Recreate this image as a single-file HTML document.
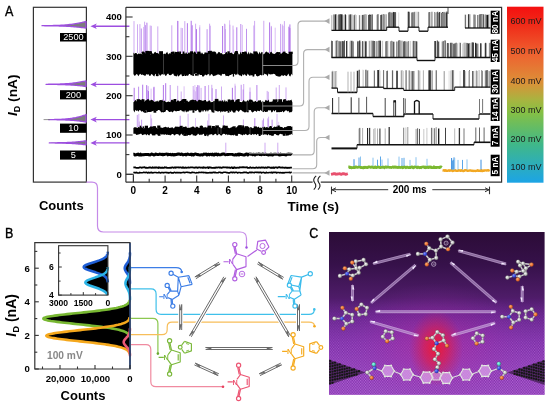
<!DOCTYPE html>
<html><head><meta charset="utf-8"><style>
html,body{margin:0;padding:0;background:#fff;}
svg{display:block;}
</style></head><body>
<svg width="550" height="405" viewBox="0 0 550 405">
<rect width="550" height="405" fill="#fff"/>
<text transform="translate(5,16) scale(0.87,1)" font-size="14.4" stroke="#000" stroke-width="0.35" font-family="Liberation Sans, Arial, sans-serif">A</text>
<rect x="33.4" y="7.3" width="53" height="174.8" fill="none" stroke="#333" stroke-width="1.2"/>
<path d="M42.00,25.70 L43.47,25.68 L44.93,25.67 L46.40,25.65 L47.87,25.63 L49.33,25.60 L50.80,25.58 L52.27,25.55 L53.73,25.51 L55.20,25.47 L56.67,25.42 L58.13,25.36 L59.60,25.30 L61.07,25.22 L62.53,25.14 L64.00,25.04 L65.47,24.92 L66.93,24.80 L68.40,24.66 L69.87,24.50 L71.33,24.33 L72.80,24.14 L74.27,23.92 L75.73,23.69 L77.20,23.44 L78.67,23.16 L80.13,22.86 L81.60,22.54 L83.07,22.19 L84.53,21.81 L86.00,21.40 L86.00,28.10 L84.53,27.89 L83.07,27.69 L81.60,27.51 L80.13,27.34 L78.67,27.18 L77.20,27.03 L75.73,26.90 L74.27,26.77 L72.80,26.66 L71.33,26.55 L69.87,26.46 L68.40,26.37 L66.93,26.29 L65.47,26.22 L64.00,26.16 L62.53,26.10 L61.07,26.05 L59.60,26.00 L58.13,25.96 L56.67,25.92 L55.20,25.89 L53.73,25.86 L52.27,25.83 L50.80,25.81 L49.33,25.79 L47.87,25.77 L46.40,25.75 L44.93,25.73 L43.47,25.72 L42.00,25.70 Z" fill="#7c7c7c" stroke="#9d4ee0" stroke-width="1.3" stroke-linejoin="round"/>
<rect x="60" y="33" width="26.4" height="8.5" fill="#000"/>
<text x="73.4" y="39.9" font-size="9.2" fill="#fff" text-anchor="middle" font-family="Liberation Sans, Arial, sans-serif">2500</text>
<path d="M46.00,84.30 L47.33,84.28 L48.67,84.27 L50.00,84.25 L51.33,84.23 L52.67,84.21 L54.00,84.18 L55.33,84.15 L56.67,84.12 L58.00,84.09 L59.33,84.04 L60.67,84.00 L62.00,83.94 L63.33,83.88 L64.67,83.80 L66.00,83.72 L67.33,83.63 L68.67,83.53 L70.00,83.41 L71.33,83.29 L72.67,83.15 L74.00,82.99 L75.33,82.82 L76.67,82.63 L78.00,82.43 L79.33,82.21 L80.67,81.97 L82.00,81.71 L83.33,81.43 L84.67,81.13 L86.00,80.80 L86.00,86.50 L84.67,86.31 L83.33,86.13 L82.00,85.96 L80.67,85.81 L79.33,85.67 L78.00,85.53 L76.67,85.41 L75.33,85.30 L74.00,85.19 L72.67,85.10 L71.33,85.01 L70.00,84.93 L68.67,84.86 L67.33,84.79 L66.00,84.73 L64.67,84.68 L63.33,84.63 L62.00,84.59 L60.67,84.55 L59.33,84.52 L58.00,84.49 L56.67,84.46 L55.33,84.43 L54.00,84.41 L52.67,84.39 L51.33,84.37 L50.00,84.35 L48.67,84.33 L47.33,84.32 L46.00,84.30 Z" fill="#7c7c7c" stroke="#9d4ee0" stroke-width="1.3" stroke-linejoin="round"/>
<rect x="60" y="90.2" width="26.4" height="9.200000000000003" fill="#000"/>
<text x="73.4" y="97.80000000000001" font-size="9.2" fill="#fff" text-anchor="middle" font-family="Liberation Sans, Arial, sans-serif">200</text>
<path d="M48.50,119.60 L49.75,119.58 L51.00,119.57 L52.25,119.55 L53.50,119.53 L54.75,119.50 L56.00,119.47 L57.25,119.44 L58.50,119.40 L59.75,119.35 L61.00,119.30 L62.25,119.23 L63.50,119.15 L64.75,119.07 L66.00,118.97 L67.25,118.85 L68.50,118.72 L69.75,118.57 L71.00,118.40 L72.25,118.22 L73.50,118.01 L74.75,117.78 L76.00,117.53 L77.25,117.25 L78.50,116.95 L79.75,116.62 L81.00,116.26 L82.25,115.87 L83.50,115.44 L84.75,114.99 L86.00,114.50 L86.00,122.00 L84.75,121.79 L83.50,121.59 L82.25,121.41 L81.00,121.24 L79.75,121.08 L78.50,120.93 L77.25,120.80 L76.00,120.67 L74.75,120.56 L73.50,120.45 L72.25,120.36 L71.00,120.27 L69.75,120.19 L68.50,120.12 L67.25,120.06 L66.00,120.00 L64.75,119.95 L63.50,119.90 L62.25,119.86 L61.00,119.82 L59.75,119.79 L58.50,119.76 L57.25,119.73 L56.00,119.71 L54.75,119.69 L53.50,119.67 L52.25,119.65 L51.00,119.63 L49.75,119.62 L48.50,119.60 Z" fill="#7c7c7c" stroke="#9d4ee0" stroke-width="1.3" stroke-linejoin="round"/>
<rect x="60" y="123.6" width="26.4" height="9.200000000000017" fill="#000"/>
<text x="73.4" y="131.20000000000002" font-size="9.2" fill="#fff" text-anchor="middle" font-family="Liberation Sans, Arial, sans-serif">10</text>
<path d="M49.30,142.90 L50.52,142.88 L51.75,142.87 L52.97,142.85 L54.19,142.83 L55.42,142.81 L56.64,142.79 L57.86,142.77 L59.09,142.74 L60.31,142.72 L61.53,142.69 L62.76,142.65 L63.98,142.61 L65.20,142.57 L66.43,142.53 L67.65,142.48 L68.87,142.42 L70.10,142.36 L71.32,142.29 L72.54,142.21 L73.77,142.13 L74.99,142.04 L76.21,141.94 L77.44,141.83 L78.66,141.72 L79.88,141.59 L81.11,141.45 L82.33,141.31 L83.55,141.15 L84.78,140.98 L86.00,140.80 L86.00,144.80 L84.78,144.64 L83.55,144.49 L82.33,144.35 L81.11,144.22 L79.88,144.10 L78.66,143.99 L77.44,143.88 L76.21,143.79 L74.99,143.70 L73.77,143.62 L72.54,143.54 L71.32,143.47 L70.10,143.41 L68.87,143.35 L67.65,143.30 L66.43,143.26 L65.20,143.21 L63.98,143.17 L62.76,143.14 L61.53,143.11 L60.31,143.08 L59.09,143.05 L57.86,143.03 L56.64,143.01 L55.42,142.99 L54.19,142.97 L52.97,142.95 L51.75,142.93 L50.52,142.92 L49.30,142.90 Z" fill="#7c7c7c" stroke="#9d4ee0" stroke-width="1.3" stroke-linejoin="round"/>
<rect x="60" y="150.5" width="26.4" height="9.099999999999994" fill="#000"/>
<text x="73.4" y="158.0" font-size="9.2" fill="#fff" text-anchor="middle" font-family="Liberation Sans, Arial, sans-serif">5</text>
<line x1="43.6" y1="119.6" x2="50" y2="119.6" stroke="#777" stroke-width="0.8"/>
<line x1="129.4" y1="26.2" x2="93" y2="26.2" stroke="#9d4ee0" stroke-width="1.4"/>
<path d="M90.4,26.2 L96.8,23.4 L95.2,26.2 L96.8,29.0 Z" fill="#9d4ee0"/>
<line x1="129.4" y1="84.4" x2="93" y2="84.4" stroke="#9d4ee0" stroke-width="1.4"/>
<path d="M90.4,84.4 L96.8,81.60000000000001 L95.2,84.4 L96.8,87.2 Z" fill="#9d4ee0"/>
<line x1="129.4" y1="119.6" x2="93" y2="119.6" stroke="#9d4ee0" stroke-width="1.4"/>
<path d="M90.4,119.6 L96.8,116.8 L95.2,119.6 L96.8,122.39999999999999 Z" fill="#9d4ee0"/>
<line x1="129.4" y1="142.9" x2="93" y2="142.9" stroke="#9d4ee0" stroke-width="1.4"/>
<path d="M90.4,142.9 L96.8,140.1 L95.2,142.9 L96.8,145.70000000000002 Z" fill="#9d4ee0"/>
<text transform="translate(17.4,95.3) rotate(-90)" font-size="13.7" font-weight="bold" text-anchor="middle" font-family="Liberation Sans, Arial, sans-serif"><tspan font-style="italic">I</tspan><tspan font-size="9" dy="3">D</tspan><tspan dy="-3"> (nA)</tspan></text>
<text x="61.3" y="210" font-size="13" font-weight="bold" text-anchor="middle" font-family="Liberation Sans, Arial, sans-serif">Counts</text>
<path d="M86.4,182.2 L92,182.2 Q97.5,182.2 97.5,188 L97.5,226 Q97.5,232 103.5,232 L240,232 Q246.5,232 246.5,238.5 L246.5,247" fill="none" stroke="#c58ae8" stroke-width="1.2"/>
<circle cx="246.5" cy="247.5" r="1.2" fill="#9d4ee0"/>
<path d="M125.9,7.3 L501.6,7.3 L501.6,182.2 L320.5,182.2 M313,182.2 L125.9,182.2 Z" fill="none" stroke="#333" stroke-width="1.2"/>
<line x1="125.9" y1="7.3" x2="125.9" y2="182.2" stroke="#333" stroke-width="1.2"/>
<line x1="125.9" y1="174.3" x2="132.6" y2="174.3" stroke="#333" stroke-width="1.1"/>
<text x="121.9" y="177.6" font-size="9.6" font-weight="bold" text-anchor="end" font-family="Liberation Sans, Arial, sans-serif">0</text>
<line x1="125.9" y1="154.6" x2="129.4" y2="154.6" stroke="#333" stroke-width="1.1"/>
<line x1="125.9" y1="135.0" x2="132.6" y2="135.0" stroke="#333" stroke-width="1.1"/>
<text x="121.9" y="138.3" font-size="9.6" font-weight="bold" text-anchor="end" font-family="Liberation Sans, Arial, sans-serif">100</text>
<line x1="125.9" y1="115.3" x2="129.4" y2="115.3" stroke="#333" stroke-width="1.1"/>
<line x1="125.9" y1="95.7" x2="132.6" y2="95.7" stroke="#333" stroke-width="1.1"/>
<text x="121.9" y="99.0" font-size="9.6" font-weight="bold" text-anchor="end" font-family="Liberation Sans, Arial, sans-serif">200</text>
<line x1="125.9" y1="76.0" x2="129.4" y2="76.0" stroke="#333" stroke-width="1.1"/>
<line x1="125.9" y1="56.3" x2="132.6" y2="56.3" stroke="#333" stroke-width="1.1"/>
<text x="121.9" y="59.6" font-size="9.6" font-weight="bold" text-anchor="end" font-family="Liberation Sans, Arial, sans-serif">300</text>
<line x1="125.9" y1="36.7" x2="129.4" y2="36.7" stroke="#333" stroke-width="1.1"/>
<line x1="125.9" y1="17.0" x2="132.6" y2="17.0" stroke="#333" stroke-width="1.1"/>
<text x="121.9" y="20.3" font-size="9.6" font-weight="bold" text-anchor="end" font-family="Liberation Sans, Arial, sans-serif">400</text>
<line x1="133.4" y1="182.2" x2="133.4" y2="175.5" stroke="#333" stroke-width="1.1"/>
<text x="133.4" y="194.2" font-size="10" font-weight="bold" text-anchor="middle" font-family="Liberation Sans, Arial, sans-serif">0</text>
<line x1="149.2" y1="182.2" x2="149.2" y2="178.7" stroke="#333" stroke-width="1.1"/>
<line x1="165.1" y1="182.2" x2="165.1" y2="175.5" stroke="#333" stroke-width="1.1"/>
<text x="165.1" y="194.2" font-size="10" font-weight="bold" text-anchor="middle" font-family="Liberation Sans, Arial, sans-serif">2</text>
<line x1="180.9" y1="182.2" x2="180.9" y2="178.7" stroke="#333" stroke-width="1.1"/>
<line x1="196.7" y1="182.2" x2="196.7" y2="175.5" stroke="#333" stroke-width="1.1"/>
<text x="196.7" y="194.2" font-size="10" font-weight="bold" text-anchor="middle" font-family="Liberation Sans, Arial, sans-serif">4</text>
<line x1="212.6" y1="182.2" x2="212.6" y2="178.7" stroke="#333" stroke-width="1.1"/>
<line x1="228.4" y1="182.2" x2="228.4" y2="175.5" stroke="#333" stroke-width="1.1"/>
<text x="228.4" y="194.2" font-size="10" font-weight="bold" text-anchor="middle" font-family="Liberation Sans, Arial, sans-serif">6</text>
<line x1="244.2" y1="182.2" x2="244.2" y2="178.7" stroke="#333" stroke-width="1.1"/>
<line x1="260.0" y1="182.2" x2="260.0" y2="175.5" stroke="#333" stroke-width="1.1"/>
<text x="260.0" y="194.2" font-size="10" font-weight="bold" text-anchor="middle" font-family="Liberation Sans, Arial, sans-serif">8</text>
<line x1="275.9" y1="182.2" x2="275.9" y2="178.7" stroke="#333" stroke-width="1.1"/>
<line x1="291.7" y1="182.2" x2="291.7" y2="175.5" stroke="#333" stroke-width="1.1"/>
<text x="291.7" y="194.2" font-size="10" font-weight="bold" text-anchor="middle" font-family="Liberation Sans, Arial, sans-serif">10</text>
<path d="M125.9,174.3 L133.4,174.3 L133.4,182.2" fill="none" stroke="#333" stroke-width="1"/>
<rect x="312.6" y="180" width="7.9" height="4.4" fill="#fff"/>
<path d="M316.2,175.8 Q312.2,179.2 314.6,182.6 Q317.4,186.2 313.8,189.6 M320.4,175.8 Q316.4,179.2 318.8,182.6 Q321.6,186.2 318,189.6" fill="none" stroke="#222" stroke-width="1.1"/>
<text x="313.3" y="210.7" font-size="13.5" font-weight="bold" text-anchor="middle" font-family="Liberation Sans, Arial, sans-serif">Time (s)</text>
<line x1="184.8" y1="53" x2="184.8" y2="21.1" stroke="#c9a0f0" stroke-width="0.9"/>
<line x1="145.4" y1="53" x2="145.4" y2="25.1" stroke="#b884ec" stroke-width="0.9"/>
<line x1="225.5" y1="53" x2="225.5" y2="29.1" stroke="#c9a0f0" stroke-width="0.9"/>
<line x1="139.9" y1="53" x2="139.9" y2="24.1" stroke="#c9a0f0" stroke-width="0.9"/>
<line x1="171.8" y1="53" x2="171.8" y2="25.3" stroke="#c9a0f0" stroke-width="0.9"/>
<line x1="263.8" y1="53" x2="263.8" y2="20.8" stroke="#c9a0f0" stroke-width="0.9"/>
<line x1="233.0" y1="53" x2="233.0" y2="25.6" stroke="#c9a0f0" stroke-width="0.9"/>
<line x1="224.6" y1="53" x2="224.6" y2="23.7" stroke="#c9a0f0" stroke-width="0.9"/>
<line x1="141.3" y1="53" x2="141.3" y2="28.5" stroke="#b884ec" stroke-width="0.9"/>
<line x1="199.8" y1="53" x2="199.8" y2="25.2" stroke="#d9b8f5" stroke-width="0.9"/>
<line x1="182.4" y1="53" x2="182.4" y2="28.1" stroke="#c9a0f0" stroke-width="0.9"/>
<line x1="150.2" y1="53" x2="150.2" y2="25.5" stroke="#c9a0f0" stroke-width="0.9"/>
<line x1="192.5" y1="53" x2="192.5" y2="25.3" stroke="#c9a0f0" stroke-width="0.9"/>
<line x1="222.6" y1="53" x2="222.6" y2="26.0" stroke="#a865e6" stroke-width="0.9"/>
<line x1="240.8" y1="53" x2="240.8" y2="24.0" stroke="#b884ec" stroke-width="0.9"/>
<line x1="207.1" y1="53" x2="207.1" y2="29.2" stroke="#b884ec" stroke-width="0.9"/>
<line x1="181.1" y1="53" x2="181.1" y2="27.8" stroke="#c9a0f0" stroke-width="0.9"/>
<line x1="146.9" y1="53" x2="146.9" y2="22.7" stroke="#a865e6" stroke-width="0.9"/>
<line x1="271.4" y1="53" x2="271.4" y2="27.2" stroke="#b884ec" stroke-width="0.9"/>
<line x1="229.6" y1="53" x2="229.6" y2="20.3" stroke="#d9b8f5" stroke-width="0.9"/>
<line x1="199.6" y1="53" x2="199.6" y2="27.4" stroke="#c9a0f0" stroke-width="0.9"/>
<line x1="280.5" y1="53" x2="280.5" y2="23.9" stroke="#c9a0f0" stroke-width="0.9"/>
<line x1="254.0" y1="53" x2="254.0" y2="25.5" stroke="#b884ec" stroke-width="0.9"/>
<line x1="187.4" y1="53" x2="187.4" y2="23.2" stroke="#a865e6" stroke-width="0.9"/>
<line x1="225.0" y1="53" x2="225.0" y2="24.3" stroke="#c9a0f0" stroke-width="0.9"/>
<line x1="282.3" y1="53" x2="282.3" y2="24.5" stroke="#c9a0f0" stroke-width="0.9"/>
<line x1="143.5" y1="53" x2="143.5" y2="26.9" stroke="#d9b8f5" stroke-width="0.9"/>
<line x1="289.9" y1="53" x2="289.9" y2="28.1" stroke="#b884ec" stroke-width="0.9"/>
<line x1="246.5" y1="53" x2="246.5" y2="28.8" stroke="#b884ec" stroke-width="0.9"/>
<line x1="137.5" y1="53" x2="137.5" y2="24.3" stroke="#c9a0f0" stroke-width="0.9"/>
<line x1="229.9" y1="53" x2="229.9" y2="24.7" stroke="#c9a0f0" stroke-width="0.9"/>
<line x1="254.6" y1="53" x2="254.6" y2="20.9" stroke="#c9a0f0" stroke-width="0.9"/>
<line x1="196.5" y1="53" x2="196.5" y2="29.1" stroke="#a865e6" stroke-width="0.9"/>
<line x1="146.7" y1="53" x2="146.7" y2="24.2" stroke="#d9b8f5" stroke-width="0.9"/>
<line x1="177.6" y1="53" x2="177.6" y2="20.9" stroke="#a865e6" stroke-width="0.9"/>
<line x1="269.6" y1="53" x2="269.6" y2="22.4" stroke="#a865e6" stroke-width="0.9"/>
<line x1="288.9" y1="53" x2="288.9" y2="26.7" stroke="#a865e6" stroke-width="0.9"/>
<line x1="284.4" y1="53" x2="284.4" y2="21.1" stroke="#c9a0f0" stroke-width="0.9"/>
<line x1="157.8" y1="53" x2="157.8" y2="26.4" stroke="#c9a0f0" stroke-width="0.9"/>
<line x1="210.1" y1="53" x2="210.1" y2="25.7" stroke="#b884ec" stroke-width="0.9"/>
<line x1="178.3" y1="53" x2="178.3" y2="21.0" stroke="#d9b8f5" stroke-width="0.9"/>
<line x1="192.0" y1="53" x2="192.0" y2="25.4" stroke="#c9a0f0" stroke-width="0.9"/>
<line x1="242.4" y1="53" x2="242.4" y2="24.9" stroke="#d9b8f5" stroke-width="0.9"/>
<line x1="236.8" y1="53" x2="236.8" y2="27.3" stroke="#a865e6" stroke-width="0.9"/>
<line x1="275.2" y1="53" x2="275.2" y2="27.7" stroke="#d9b8f5" stroke-width="0.9"/>
<line x1="195.6" y1="53" x2="195.6" y2="23.7" stroke="#c9a0f0" stroke-width="0.9"/>
<line x1="209.6" y1="53" x2="209.6" y2="23.7" stroke="#c9a0f0" stroke-width="0.9"/>
<line x1="144.6" y1="53" x2="144.6" y2="21.7" stroke="#c9a0f0" stroke-width="0.9"/>
<line x1="151.3" y1="53" x2="151.3" y2="25.8" stroke="#c9a0f0" stroke-width="0.9"/>
<line x1="134.0" y1="53" x2="134.0" y2="21.1" stroke="#c9a0f0" stroke-width="0.9"/>
<line x1="283.0" y1="53" x2="283.0" y2="25.9" stroke="#c9a0f0" stroke-width="0.9"/>
<line x1="271.3" y1="53" x2="271.3" y2="25.9" stroke="#c9a0f0" stroke-width="0.9"/>
<line x1="233.6" y1="53" x2="233.6" y2="29.5" stroke="#d9b8f5" stroke-width="0.9"/>
<line x1="191.2" y1="53" x2="191.2" y2="20.8" stroke="#a865e6" stroke-width="0.9"/>
<line x1="289.9" y1="53" x2="289.9" y2="24.4" stroke="#a865e6" stroke-width="0.9"/>
<path d="M133.4,52.4 L134.4,53.7 L135.4,52.9 L136.4,53.0 L137.4,54.4 L138.4,53.6 L139.4,53.8 L140.4,53.4 L141.3,54.0 L142.3,54.2 L143.3,52.2 L144.3,53.0 L145.3,53.3 L146.3,53.8 L147.3,52.2 L148.3,53.9 L149.3,53.0 L150.3,54.5 L151.3,52.9 L152.3,53.3 L153.3,53.9 L154.3,52.5 L155.3,51.7 L156.3,52.9 L157.2,52.9 L158.2,53.3 L159.2,54.2 L160.2,53.4 L161.2,51.9 L162.2,53.6 L163.2,54.2 L164.2,53.4 L165.2,54.3 L166.2,52.9 L167.2,51.8 L168.2,54.5 L169.2,53.3 L170.2,53.5 L171.2,53.3 L172.2,54.3 L173.2,53.1 L174.1,53.9 L175.1,51.8 L176.1,51.9 L177.1,52.1 L178.1,51.6 L179.1,53.0 L180.1,52.5 L181.1,54.0 L182.1,53.7 L183.1,53.5 L184.1,53.1 L185.1,54.1 L186.1,52.0 L187.1,54.1 L188.1,53.3 L189.1,51.9 L190.0,53.4 L191.0,51.7 L192.0,53.1 L193.0,53.8 L194.0,51.7 L195.0,51.6 L196.0,52.9 L197.0,54.2 L198.0,52.5 L199.0,53.3 L200.0,52.3 L201.0,53.9 L202.0,52.2 L203.0,54.1 L204.0,54.3 L204.9,52.1 L205.9,52.7 L206.9,52.4 L207.9,52.8 L208.9,52.4 L209.9,53.8 L210.9,53.4 L211.9,52.3 L212.9,52.9 L213.9,51.8 L214.9,52.0 L215.9,52.2 L216.9,54.5 L217.9,52.8 L218.9,51.8 L219.9,52.5 L220.8,53.6 L221.8,53.1 L222.8,54.4 L223.8,54.3 L224.8,54.1 L225.8,52.3 L226.8,52.0 L227.8,54.0 L228.8,53.5 L229.8,52.7 L230.8,53.0 L231.8,52.5 L232.8,53.9 L233.8,54.2 L234.8,51.6 L235.8,52.3 L236.8,52.2 L237.7,51.9 L238.7,54.5 L239.7,54.2 L240.7,51.6 L241.7,54.3 L242.7,52.3 L243.7,54.3 L244.7,53.1 L245.7,52.8 L246.7,52.3 L247.7,54.5 L248.7,51.6 L249.7,54.4 L250.7,52.2 L251.7,53.5 L252.6,53.5 L253.6,54.2 L254.6,52.4 L255.6,52.2 L256.6,54.1 L257.6,51.9 L258.6,54.4 L259.6,51.5 L260.6,54.1 L261.6,51.7 L262.6,52.6 L263.6,54.4 L264.6,53.6 L265.6,52.1 L266.6,51.5 L267.6,52.5 L268.5,52.5 L269.5,54.1 L270.5,52.0 L271.5,51.8 L272.5,53.5 L273.5,53.8 L274.5,54.0 L275.5,53.3 L276.5,52.4 L277.5,51.8 L278.5,54.1 L279.5,54.2 L280.5,53.3 L281.5,53.7 L282.5,52.4 L283.5,51.9 L284.4,53.6 L285.4,52.8 L286.4,53.0 L287.4,53.8 L288.4,53.9 L289.4,53.6 L290.4,53.6 L291.4,53.4 L292.4,51.6 L292.4,75.4 L291.4,73.8 L290.4,76.4 L289.4,75.9 L288.4,73.5 L287.4,75.2 L286.4,76.2 L285.4,75.6 L284.4,75.0 L283.5,76.0 L282.5,75.4 L281.5,75.0 L280.5,75.8 L279.5,75.9 L278.5,74.0 L277.5,76.4 L276.5,75.4 L275.5,74.7 L274.5,73.9 L273.5,73.8 L272.5,74.2 L271.5,74.3 L270.5,74.5 L269.5,74.2 L268.5,73.6 L267.6,76.5 L266.6,74.6 L265.6,74.3 L264.6,73.6 L263.6,75.3 L262.6,75.0 L261.6,75.5 L260.6,74.8 L259.6,75.4 L258.6,76.0 L257.6,76.5 L256.6,75.7 L255.6,74.1 L254.6,74.1 L253.6,76.4 L252.6,75.1 L251.7,75.5 L250.7,74.8 L249.7,75.0 L248.7,75.0 L247.7,73.6 L246.7,75.9 L245.7,75.5 L244.7,74.1 L243.7,75.4 L242.7,74.0 L241.7,76.4 L240.7,75.6 L239.7,75.4 L238.7,74.8 L237.7,73.5 L236.8,74.3 L235.8,75.3 L234.8,73.8 L233.8,74.3 L232.8,74.1 L231.8,74.3 L230.8,75.0 L229.8,75.1 L228.8,76.3 L227.8,76.0 L226.8,75.8 L225.8,76.2 L224.8,73.8 L223.8,74.2 L222.8,73.8 L221.8,74.4 L220.8,74.7 L219.9,74.9 L218.9,74.6 L217.9,74.6 L216.9,74.7 L215.9,75.6 L214.9,75.5 L213.9,76.2 L212.9,75.7 L211.9,73.9 L210.9,74.6 L209.9,76.3 L208.9,73.9 L207.9,74.1 L206.9,75.5 L205.9,74.7 L204.9,74.8 L204.0,76.2 L203.0,76.3 L202.0,75.1 L201.0,75.0 L200.0,75.0 L199.0,74.1 L198.0,76.4 L197.0,73.7 L196.0,73.6 L195.0,73.8 L194.0,74.1 L193.0,76.1 L192.0,74.9 L191.0,75.5 L190.0,73.9 L189.1,73.9 L188.1,75.8 L187.1,75.8 L186.1,75.0 L185.1,73.9 L184.1,76.0 L183.1,75.9 L182.1,76.2 L181.1,73.7 L180.1,75.1 L179.1,75.8 L178.1,74.1 L177.1,76.1 L176.1,76.5 L175.1,75.7 L174.1,75.7 L173.2,73.6 L172.2,74.0 L171.2,74.9 L170.2,75.3 L169.2,74.9 L168.2,73.6 L167.2,74.0 L166.2,75.7 L165.2,75.7 L164.2,73.8 L163.2,74.8 L162.2,74.1 L161.2,74.7 L160.2,76.0 L159.2,74.5 L158.2,73.5 L157.2,76.5 L156.3,74.5 L155.3,73.8 L154.3,76.4 L153.3,75.7 L152.3,74.5 L151.3,74.1 L150.3,75.9 L149.3,75.7 L148.3,74.1 L147.3,74.7 L146.3,74.1 L145.3,75.9 L144.3,75.4 L143.3,75.1 L142.3,74.6 L141.3,75.1 L140.4,73.8 L139.4,74.4 L138.4,76.2 L137.4,74.6 L136.4,74.1 L135.4,75.6 L134.4,75.7 L133.4,73.9 Z" fill="#000"/>
<rect x="283.1" y="51.6" width="2.4" height="2.4" fill="#000"/>
<rect x="142.3" y="51.5" width="1.5" height="2.5" fill="#000"/>
<rect x="172.3" y="51.6" width="2.2" height="2.4" fill="#000"/>
<rect x="145.3" y="50.9" width="3.8" height="3.1" fill="#000"/>
<rect x="148.7" y="51.2" width="2.8" height="2.8" fill="#000"/>
<rect x="207.8" y="51.0" width="3.5" height="3.0" fill="#000"/>
<rect x="170.8" y="51.9" width="3.4" height="2.1" fill="#000"/>
<rect x="235.1" y="51.0" width="2.7" height="3.0" fill="#000"/>
<rect x="146.3" y="51.8" width="3.8" height="2.2" fill="#000"/>
<rect x="141.6" y="51.9" width="3.1" height="2.1" fill="#000"/>
<rect x="227.4" y="51.3" width="2.3" height="2.7" fill="#000"/>
<rect x="241.8" y="52.0" width="3.1" height="2.0" fill="#000"/>
<rect x="209.2" y="50.8" width="2.7" height="3.2" fill="#000"/>
<rect x="149.8" y="51.5" width="2.0" height="2.5" fill="#000"/>
<rect x="244.3" y="51.5" width="2.2" height="2.5" fill="#000"/>
<rect x="253.3" y="51.4" width="4.0" height="2.6" fill="#000"/>
<rect x="182.7" y="51.5" width="1.7" height="2.5" fill="#000"/>
<rect x="179.3" y="51.5" width="1.7" height="2.5" fill="#000"/>
<rect x="288.6" y="51.7" width="4.0" height="2.3" fill="#000"/>
<rect x="276.5" y="52.1" width="3.8" height="1.9" fill="#000"/>
<rect x="148.4" y="51.8" width="3.4" height="2.2" fill="#000"/>
<rect x="190.1" y="51.3" width="3.0" height="2.7" fill="#000"/>
<rect x="177.7" y="51.7" width="1.8" height="2.3" fill="#000"/>
<rect x="211.6" y="51.6" width="3.7" height="2.4" fill="#000"/>
<rect x="159.1" y="51.2" width="3.9" height="2.8" fill="#000"/>
<rect x="197.2" y="51.6" width="3.3" height="2.4" fill="#000"/>
<rect x="192.7" y="74.0" width="1.2" height="1.9" fill="#000"/>
<rect x="184.7" y="74.0" width="1.7" height="2.0" fill="#000"/>
<rect x="280.1" y="74.0" width="1.4" height="1.6" fill="#000"/>
<rect x="249.1" y="74.0" width="1.5" height="1.7" fill="#000"/>
<rect x="194.9" y="74.0" width="2.7" height="1.7" fill="#000"/>
<rect x="277.8" y="74.0" width="2.5" height="2.5" fill="#000"/>
<rect x="177.9" y="74.0" width="1.1" height="2.3" fill="#000"/>
<rect x="232.8" y="74.0" width="1.3" height="2.6" fill="#000"/>
<rect x="202.0" y="74.0" width="1.6" height="2.4" fill="#000"/>
<rect x="256.1" y="74.0" width="1.9" height="1.6" fill="#000"/>
<rect x="252.5" y="74.0" width="1.8" height="2.5" fill="#000"/>
<rect x="220.3" y="74.0" width="1.4" height="1.7" fill="#000"/>
<rect x="279.1" y="74.0" width="1.8" height="2.2" fill="#000"/>
<rect x="155.9" y="74.0" width="2.7" height="2.1" fill="#000"/>
<rect x="275.7" y="74.0" width="2.1" height="1.8" fill="#000"/>
<line x1="199.1" y1="101" x2="199.1" y2="85.5" stroke="#b884ec" stroke-width="0.9"/>
<line x1="250.0" y1="101" x2="250.0" y2="91.8" stroke="#b884ec" stroke-width="0.9"/>
<line x1="197.8" y1="101" x2="197.8" y2="85.1" stroke="#a865e6" stroke-width="0.9"/>
<line x1="221.5" y1="101" x2="221.5" y2="86.5" stroke="#c9a0f0" stroke-width="0.9"/>
<line x1="235.0" y1="101" x2="235.0" y2="83.7" stroke="#d9b8f5" stroke-width="0.9"/>
<line x1="276.2" y1="101" x2="276.2" y2="87.5" stroke="#c9a0f0" stroke-width="0.9"/>
<line x1="205.1" y1="101" x2="205.1" y2="86.0" stroke="#a865e6" stroke-width="0.9"/>
<line x1="201.1" y1="101" x2="201.1" y2="87.9" stroke="#c9a0f0" stroke-width="0.9"/>
<line x1="148.2" y1="101" x2="148.2" y2="86.1" stroke="#c9a0f0" stroke-width="0.9"/>
<line x1="184.1" y1="101" x2="184.1" y2="86.3" stroke="#d9b8f5" stroke-width="0.9"/>
<line x1="165.7" y1="101" x2="165.7" y2="83.2" stroke="#a865e6" stroke-width="0.9"/>
<line x1="194.1" y1="101" x2="194.1" y2="89.7" stroke="#c9a0f0" stroke-width="0.9"/>
<line x1="193.2" y1="101" x2="193.2" y2="86.0" stroke="#c9a0f0" stroke-width="0.9"/>
<line x1="212.2" y1="101" x2="212.2" y2="88.2" stroke="#b884ec" stroke-width="0.9"/>
<line x1="153.8" y1="101" x2="153.8" y2="87.5" stroke="#c9a0f0" stroke-width="0.9"/>
<line x1="148.5" y1="101" x2="148.5" y2="91.1" stroke="#a865e6" stroke-width="0.9"/>
<line x1="196.8" y1="101" x2="196.8" y2="87.0" stroke="#b884ec" stroke-width="0.9"/>
<line x1="267.2" y1="101" x2="267.2" y2="90.9" stroke="#c9a0f0" stroke-width="0.9"/>
<line x1="154.0" y1="101" x2="154.0" y2="86.8" stroke="#a865e6" stroke-width="0.9"/>
<line x1="286.0" y1="101" x2="286.0" y2="87.4" stroke="#c9a0f0" stroke-width="0.9"/>
<line x1="195.5" y1="101" x2="195.5" y2="91.3" stroke="#d9b8f5" stroke-width="0.9"/>
<line x1="268.3" y1="101" x2="268.3" y2="91.8" stroke="#c9a0f0" stroke-width="0.9"/>
<line x1="256.9" y1="101" x2="256.9" y2="85.0" stroke="#c9a0f0" stroke-width="0.9"/>
<line x1="216.0" y1="101" x2="216.0" y2="89.1" stroke="#a865e6" stroke-width="0.9"/>
<line x1="147.3" y1="101" x2="147.3" y2="90.0" stroke="#c9a0f0" stroke-width="0.9"/>
<line x1="256.8" y1="101" x2="256.8" y2="85.1" stroke="#c9a0f0" stroke-width="0.9"/>
<line x1="235.3" y1="101" x2="235.3" y2="85.7" stroke="#c9a0f0" stroke-width="0.9"/>
<line x1="232.4" y1="101" x2="232.4" y2="87.8" stroke="#a865e6" stroke-width="0.9"/>
<line x1="243.7" y1="101" x2="243.7" y2="84.0" stroke="#c9a0f0" stroke-width="0.9"/>
<line x1="181.2" y1="101" x2="181.2" y2="91.5" stroke="#c9a0f0" stroke-width="0.9"/>
<line x1="194.9" y1="101" x2="194.9" y2="85.0" stroke="#d9b8f5" stroke-width="0.9"/>
<line x1="134.2" y1="101" x2="134.2" y2="87.8" stroke="#a865e6" stroke-width="0.9"/>
<line x1="177.7" y1="101" x2="177.7" y2="85.8" stroke="#c9a0f0" stroke-width="0.9"/>
<line x1="208.6" y1="101" x2="208.6" y2="85.1" stroke="#c9a0f0" stroke-width="0.9"/>
<line x1="138.6" y1="101" x2="138.6" y2="86.7" stroke="#b884ec" stroke-width="0.9"/>
<line x1="142.7" y1="101" x2="142.7" y2="84.7" stroke="#a865e6" stroke-width="0.9"/>
<line x1="146.7" y1="101" x2="146.7" y2="85.1" stroke="#a865e6" stroke-width="0.9"/>
<line x1="279.3" y1="101" x2="279.3" y2="85.0" stroke="#c9a0f0" stroke-width="0.9"/>
<line x1="243.2" y1="101" x2="243.2" y2="89.5" stroke="#b884ec" stroke-width="0.9"/>
<line x1="241.2" y1="101" x2="241.2" y2="84.8" stroke="#b884ec" stroke-width="0.9"/>
<line x1="250.0" y1="101" x2="250.0" y2="87.5" stroke="#c9a0f0" stroke-width="0.9"/>
<line x1="211.8" y1="101" x2="211.8" y2="84.8" stroke="#c9a0f0" stroke-width="0.9"/>
<line x1="170.2" y1="101" x2="170.2" y2="85.0" stroke="#b884ec" stroke-width="0.9"/>
<line x1="151.1" y1="101" x2="151.1" y2="88.6" stroke="#d9b8f5" stroke-width="0.9"/>
<line x1="163.4" y1="101" x2="163.4" y2="85.0" stroke="#a865e6" stroke-width="0.9"/>
<path d="M133.4,102.2 L134.4,101.3 L135.4,99.7 L136.4,101.3 L137.4,101.6 L138.4,100.8 L139.4,100.4 L140.4,99.7 L141.3,100.1 L142.3,101.1 L143.3,100.4 L144.3,102.0 L145.3,100.8 L146.3,99.7 L147.3,100.8 L148.3,101.2 L149.3,100.6 L150.3,100.4 L151.3,99.8 L152.3,100.1 L153.3,100.8 L154.3,101.7 L155.3,101.4 L156.3,101.4 L157.2,100.6 L158.2,101.9 L159.2,100.1 L160.2,101.3 L161.2,100.5 L162.2,99.6 L163.2,101.6 L164.2,100.4 L165.2,101.3 L166.2,102.3 L167.2,102.0 L168.2,101.6 L169.2,101.8 L170.2,102.2 L171.2,99.9 L172.2,99.5 L173.2,100.4 L174.1,100.0 L175.1,102.1 L176.1,101.9 L177.1,101.0 L178.1,100.0 L179.1,101.4 L180.1,101.1 L181.1,100.8 L182.1,99.7 L183.1,100.1 L184.1,102.5 L185.1,100.0 L186.1,100.9 L187.1,100.2 L188.1,101.8 L189.1,101.8 L190.0,100.3 L191.0,100.3 L192.0,100.8 L193.0,100.2 L194.0,102.2 L195.0,99.7 L196.0,100.2 L197.0,101.4 L198.0,100.9 L199.0,99.5 L200.0,100.2 L201.0,100.6 L202.0,100.2 L203.0,101.3 L204.0,100.1 L204.9,101.0 L205.9,101.3 L206.9,101.5 L207.9,101.4 L208.9,100.5 L209.9,100.5 L210.9,102.5 L211.9,101.7 L212.9,101.9 L213.9,100.7 L214.9,101.4 L215.9,99.6 L216.9,101.0 L217.9,101.9 L218.9,100.0 L219.9,101.5 L220.8,100.3 L221.8,101.5 L222.8,99.7 L223.8,102.2 L224.8,99.6 L225.8,101.9 L226.8,100.7 L227.8,102.3 L228.8,100.0 L229.8,99.8 L230.8,100.6 L231.8,99.9 L232.8,99.9 L233.8,100.7 L234.8,102.3 L235.8,100.0 L236.8,100.0 L237.7,99.7 L238.7,101.8 L239.7,101.9 L240.7,102.0 L241.7,102.2 L242.7,101.3 L243.7,99.8 L244.7,101.6 L245.7,101.4 L246.7,101.4 L247.7,100.1 L248.7,101.2 L249.7,102.3 L250.7,100.6 L251.7,102.4 L252.6,100.1 L253.6,102.0 L254.6,101.5 L255.6,100.7 L256.6,102.0 L257.6,101.4 L258.6,100.2 L259.6,100.6 L260.6,100.0 L261.6,102.5 L262.6,100.8 L263.6,102.0 L264.6,101.9 L265.6,99.7 L266.6,100.6 L267.6,101.0 L268.5,99.6 L269.5,102.3 L270.5,101.7 L271.5,101.8 L272.5,101.5 L273.5,99.6 L274.5,101.3 L275.5,99.8 L276.5,102.2 L277.5,101.9 L278.5,101.6 L279.5,100.2 L280.5,101.3 L281.5,100.5 L282.5,102.2 L283.5,100.3 L284.4,100.9 L285.4,101.3 L286.4,100.6 L287.4,100.7 L288.4,100.3 L289.4,100.6 L290.4,100.3 L291.4,99.6 L292.4,102.4 L292.4,111.1 L291.4,112.3 L290.4,112.0 L289.4,112.1 L288.4,110.7 L287.4,111.6 L286.4,110.3 L285.4,110.4 L284.4,111.5 L283.5,112.6 L282.5,111.1 L281.5,111.5 L280.5,110.5 L279.5,112.2 L278.5,111.9 L277.5,112.1 L276.5,110.6 L275.5,110.1 L274.5,111.8 L273.5,109.9 L272.5,112.1 L271.5,112.4 L270.5,109.9 L269.5,110.6 L268.5,110.1 L267.6,111.7 L266.6,112.1 L265.6,110.8 L264.6,110.9 L263.6,112.2 L262.6,111.6 L261.6,111.1 L260.6,109.7 L259.6,111.2 L258.6,110.9 L257.6,110.6 L256.6,112.0 L255.6,111.1 L254.6,110.7 L253.6,111.7 L252.6,112.4 L251.7,112.1 L250.7,110.1 L249.7,110.2 L248.7,109.8 L247.7,111.1 L246.7,111.5 L245.7,112.3 L244.7,112.4 L243.7,111.8 L242.7,111.6 L241.7,110.6 L240.7,109.8 L239.7,110.6 L238.7,112.1 L237.7,110.9 L236.8,110.2 L235.8,110.7 L234.8,111.9 L233.8,111.4 L232.8,112.1 L231.8,109.9 L230.8,112.0 L229.8,111.4 L228.8,110.0 L227.8,111.0 L226.8,110.9 L225.8,111.6 L224.8,112.0 L223.8,110.9 L222.8,111.9 L221.8,111.0 L220.8,112.7 L219.9,110.9 L218.9,111.3 L217.9,111.7 L216.9,110.9 L215.9,111.2 L214.9,109.9 L213.9,110.8 L212.9,112.2 L211.9,112.4 L210.9,109.8 L209.9,109.8 L208.9,109.8 L207.9,111.8 L206.9,109.7 L205.9,112.0 L204.9,110.2 L204.0,109.9 L203.0,112.2 L202.0,109.9 L201.0,112.3 L200.0,111.0 L199.0,112.3 L198.0,109.8 L197.0,110.0 L196.0,111.3 L195.0,110.5 L194.0,110.3 L193.0,110.5 L192.0,110.3 L191.0,110.5 L190.0,110.5 L189.1,110.6 L188.1,112.0 L187.1,111.3 L186.1,112.4 L185.1,110.1 L184.1,112.6 L183.1,111.0 L182.1,111.6 L181.1,110.0 L180.1,110.2 L179.1,111.1 L178.1,110.9 L177.1,110.9 L176.1,111.5 L175.1,111.1 L174.1,110.4 L173.2,111.8 L172.2,112.5 L171.2,111.2 L170.2,112.1 L169.2,112.1 L168.2,111.1 L167.2,110.0 L166.2,109.9 L165.2,112.1 L164.2,111.9 L163.2,112.5 L162.2,111.9 L161.2,112.6 L160.2,110.8 L159.2,109.9 L158.2,109.9 L157.2,111.1 L156.3,110.9 L155.3,110.4 L154.3,111.1 L153.3,110.7 L152.3,111.3 L151.3,111.8 L150.3,112.1 L149.3,112.0 L148.3,112.0 L147.3,112.4 L146.3,109.9 L145.3,110.0 L144.3,112.7 L143.3,111.9 L142.3,111.1 L141.3,111.7 L140.4,110.2 L139.4,110.0 L138.4,111.8 L137.4,110.3 L136.4,110.9 L135.4,109.8 L134.4,112.5 L133.4,109.9 Z" fill="#000"/>
<rect x="215.2" y="98.9" width="3.2" height="3.1" fill="#000"/>
<rect x="173.5" y="99.0" width="2.8" height="3.0" fill="#000"/>
<rect x="248.8" y="99.7" width="2.4" height="2.3" fill="#000"/>
<rect x="191.6" y="99.7" width="1.9" height="2.3" fill="#000"/>
<rect x="147.0" y="99.3" width="2.1" height="2.7" fill="#000"/>
<rect x="282.9" y="99.5" width="2.2" height="2.5" fill="#000"/>
<rect x="182.5" y="99.0" width="3.9" height="3.0" fill="#000"/>
<rect x="278.3" y="99.2" width="3.7" height="2.8" fill="#000"/>
<rect x="250.2" y="99.8" width="2.1" height="2.2" fill="#000"/>
<rect x="231.4" y="99.7" width="2.5" height="2.3" fill="#000"/>
<rect x="141.8" y="99.3" width="2.7" height="2.7" fill="#000"/>
<rect x="141.5" y="99.4" width="1.6" height="2.6" fill="#000"/>
<rect x="181.5" y="99.5" width="2.8" height="2.5" fill="#000"/>
<rect x="198.5" y="100.0" width="2.3" height="2.0" fill="#000"/>
<rect x="191.2" y="100.0" width="3.6" height="2.0" fill="#000"/>
<rect x="136.6" y="99.2" width="3.5" height="2.8" fill="#000"/>
<rect x="204.3" y="100.0" width="1.7" height="2.0" fill="#000"/>
<rect x="237.5" y="99.1" width="2.2" height="2.9" fill="#000"/>
<rect x="284.3" y="99.1" width="1.6" height="2.9" fill="#000"/>
<rect x="272.8" y="99.4" width="3.0" height="2.6" fill="#000"/>
<rect x="227.7" y="99.5" width="2.8" height="2.5" fill="#000"/>
<rect x="160.0" y="100.1" width="1.5" height="1.9" fill="#000"/>
<rect x="138.3" y="100.0" width="2.0" height="2.0" fill="#000"/>
<rect x="275.7" y="99.3" width="1.8" height="2.7" fill="#000"/>
<rect x="236.2" y="99.6" width="2.0" height="2.4" fill="#000"/>
<rect x="214.7" y="99.3" width="3.1" height="2.7" fill="#000"/>
<rect x="198.8" y="110.2" width="2.2" height="2.1" fill="#000"/>
<rect x="144.3" y="110.2" width="2.3" height="2.6" fill="#000"/>
<rect x="246.7" y="110.2" width="2.0" height="2.1" fill="#000"/>
<rect x="192.5" y="110.2" width="1.9" height="2.5" fill="#000"/>
<rect x="146.9" y="110.2" width="2.3" height="1.8" fill="#000"/>
<rect x="288.9" y="110.2" width="1.5" height="2.2" fill="#000"/>
<rect x="153.5" y="110.2" width="2.8" height="2.5" fill="#000"/>
<rect x="280.5" y="110.2" width="1.5" height="1.7" fill="#000"/>
<rect x="233.0" y="110.2" width="2.4" height="2.3" fill="#000"/>
<rect x="276.6" y="110.2" width="2.9" height="1.9" fill="#000"/>
<rect x="278.3" y="110.2" width="2.8" height="1.7" fill="#000"/>
<rect x="213.1" y="110.2" width="1.3" height="2.5" fill="#000"/>
<rect x="264.9" y="110.2" width="1.4" height="1.8" fill="#000"/>
<rect x="276.2" y="110.2" width="1.4" height="2.0" fill="#000"/>
<rect x="227.6" y="110.2" width="1.8" height="2.5" fill="#000"/>
<line x1="278.7" y1="127" x2="278.7" y2="121.8" stroke="#d9b8f5" stroke-width="0.8"/>
<line x1="207.7" y1="127" x2="207.7" y2="120.5" stroke="#c9a0f0" stroke-width="0.8"/>
<line x1="268.6" y1="127" x2="268.6" y2="116.7" stroke="#c9a0f0" stroke-width="0.8"/>
<line x1="223.5" y1="127" x2="223.5" y2="115.4" stroke="#c9a0f0" stroke-width="0.8"/>
<line x1="195.5" y1="127" x2="195.5" y2="118.1" stroke="#d9b8f5" stroke-width="0.8"/>
<line x1="277.0" y1="127" x2="277.0" y2="113.9" stroke="#c9a0f0" stroke-width="0.8"/>
<line x1="151.6" y1="127" x2="151.6" y2="118.4" stroke="#c9a0f0" stroke-width="0.8"/>
<line x1="188.1" y1="127" x2="188.1" y2="113.8" stroke="#c9a0f0" stroke-width="0.8"/>
<line x1="138.8" y1="127" x2="138.8" y2="113.8" stroke="#c9a0f0" stroke-width="0.8"/>
<line x1="243.4" y1="127" x2="243.4" y2="119.5" stroke="#c9a0f0" stroke-width="0.8"/>
<line x1="268.5" y1="127" x2="268.5" y2="119.7" stroke="#c9a0f0" stroke-width="0.8"/>
<line x1="262.4" y1="127" x2="262.4" y2="120.3" stroke="#c9a0f0" stroke-width="0.8"/>
<line x1="272.1" y1="127" x2="272.1" y2="119.7" stroke="#a865e6" stroke-width="0.8"/>
<line x1="150.8" y1="127" x2="150.8" y2="114.5" stroke="#c9a0f0" stroke-width="0.8"/>
<line x1="139.3" y1="127" x2="139.3" y2="121.5" stroke="#c9a0f0" stroke-width="0.8"/>
<line x1="263.5" y1="127" x2="263.5" y2="118.5" stroke="#b884ec" stroke-width="0.8"/>
<line x1="208.9" y1="127" x2="208.9" y2="113.8" stroke="#c9a0f0" stroke-width="0.8"/>
<line x1="180.2" y1="127" x2="180.2" y2="115.7" stroke="#b884ec" stroke-width="0.8"/>
<line x1="137.3" y1="127" x2="137.3" y2="114.9" stroke="#b884ec" stroke-width="0.8"/>
<line x1="141.6" y1="127" x2="141.6" y2="119.7" stroke="#b884ec" stroke-width="0.8"/>
<line x1="254.8" y1="127" x2="254.8" y2="118.2" stroke="#a865e6" stroke-width="0.8"/>
<line x1="267.7" y1="127" x2="267.7" y2="118.4" stroke="#c9a0f0" stroke-width="0.8"/>
<path d="M133.4,127.9 L134.4,127.3 L135.4,127.2 L136.4,127.4 L137.4,128.0 L138.4,126.9 L139.4,127.3 L140.4,127.8 L141.3,127.0 L142.3,127.7 L143.3,128.2 L144.3,128.2 L145.3,127.5 L146.3,127.9 L147.3,126.8 L148.3,128.2 L149.3,127.3 L150.3,127.4 L151.3,127.0 L152.3,128.2 L153.3,127.8 L154.3,127.6 L155.3,126.9 L156.3,127.4 L157.2,128.3 L158.2,128.2 L159.2,127.5 L160.2,127.5 L161.2,127.5 L162.2,128.0 L163.2,127.4 L164.2,127.2 L165.2,126.8 L166.2,127.0 L167.2,127.7 L168.2,126.8 L169.2,128.0 L170.2,127.7 L171.2,127.7 L172.2,127.0 L173.2,128.2 L174.1,128.2 L175.1,126.6 L176.1,126.7 L177.1,126.6 L178.1,126.9 L179.1,126.5 L180.1,126.9 L181.1,127.2 L182.1,128.0 L183.1,126.7 L184.1,126.9 L185.1,126.8 L186.1,126.3 L187.1,128.0 L188.1,127.5 L189.1,128.0 L190.0,127.6 L191.0,127.6 L192.0,126.8 L193.0,126.5 L194.0,126.8 L195.0,128.1 L196.0,127.1 L197.0,126.6 L198.0,127.3 L199.0,128.0 L200.0,127.6 L201.0,128.1 L202.0,126.3 L203.0,128.1 L204.0,126.8 L204.9,127.7 L205.9,126.7 L206.9,128.0 L207.9,126.7 L208.9,126.3 L209.9,127.0 L210.9,127.8 L211.9,128.3 L212.9,127.3 L213.9,127.8 L214.9,127.6 L215.9,127.1 L216.9,126.5 L217.9,127.6 L218.9,127.5 L219.9,126.9 L220.8,128.2 L221.8,128.3 L222.8,127.2 L223.8,128.2 L224.8,127.9 L225.8,127.6 L226.8,127.9 L227.8,127.6 L228.8,127.9 L229.8,128.3 L230.8,127.6 L231.8,127.2 L232.8,126.8 L233.8,127.7 L234.8,127.7 L235.8,127.9 L236.8,127.0 L237.7,126.9 L238.7,127.5 L239.7,128.1 L240.7,126.9 L241.7,126.5 L242.7,126.9 L243.7,127.4 L244.7,127.5 L245.7,126.7 L246.7,126.9 L247.7,127.5 L248.7,126.7 L249.7,127.9 L250.7,127.1 L251.7,127.5 L252.6,128.3 L253.6,128.1 L254.6,127.6 L255.6,127.3 L256.6,126.5 L257.6,127.6 L258.6,126.5 L259.6,128.0 L260.6,127.4 L261.6,128.1 L262.6,126.8 L263.6,127.5 L264.6,126.6 L265.6,127.7 L266.6,126.9 L267.6,127.2 L268.5,127.7 L269.5,127.0 L270.5,126.3 L271.5,127.8 L272.5,127.9 L273.5,127.3 L274.5,126.6 L275.5,127.1 L276.5,126.5 L277.5,127.0 L278.5,127.4 L279.5,126.9 L280.5,126.8 L281.5,126.9 L282.5,127.3 L283.5,128.3 L284.4,127.0 L285.4,127.3 L286.4,126.7 L287.4,126.6 L288.4,126.5 L289.4,127.1 L290.4,127.1 L291.4,127.1 L292.4,126.4 L292.4,135.2 L291.4,133.8 L290.4,134.7 L289.4,134.7 L288.4,135.6 L287.4,135.5 L286.4,135.0 L285.4,133.8 L284.4,134.0 L283.5,135.3 L282.5,134.3 L281.5,134.3 L280.5,133.7 L279.5,134.3 L278.5,135.4 L277.5,135.2 L276.5,134.9 L275.5,133.9 L274.5,134.0 L273.5,135.1 L272.5,133.8 L271.5,135.6 L270.5,133.7 L269.5,134.9 L268.5,134.0 L267.6,135.6 L266.6,134.5 L265.6,134.6 L264.6,134.2 L263.6,135.1 L262.6,133.9 L261.6,135.0 L260.6,134.6 L259.6,134.5 L258.6,134.4 L257.6,133.8 L256.6,135.3 L255.6,134.0 L254.6,134.2 L253.6,134.7 L252.6,133.8 L251.7,135.0 L250.7,134.7 L249.7,134.0 L248.7,134.5 L247.7,135.3 L246.7,134.8 L245.7,133.7 L244.7,134.9 L243.7,134.3 L242.7,135.5 L241.7,134.7 L240.7,134.4 L239.7,133.9 L238.7,133.8 L237.7,134.6 L236.8,134.9 L235.8,135.2 L234.8,134.6 L233.8,135.6 L232.8,135.0 L231.8,135.2 L230.8,135.2 L229.8,135.1 L228.8,134.4 L227.8,135.3 L226.8,133.9 L225.8,135.0 L224.8,134.0 L223.8,133.7 L222.8,133.9 L221.8,135.5 L220.8,135.5 L219.9,134.4 L218.9,133.8 L217.9,134.9 L216.9,135.4 L215.9,133.7 L214.9,134.1 L213.9,134.8 L212.9,135.5 L211.9,134.0 L210.9,134.5 L209.9,134.3 L208.9,135.2 L207.9,134.6 L206.9,134.5 L205.9,134.3 L204.9,135.5 L204.0,134.0 L203.0,133.8 L202.0,135.3 L201.0,134.3 L200.0,135.3 L199.0,134.6 L198.0,133.6 L197.0,135.3 L196.0,135.0 L195.0,134.1 L194.0,135.0 L193.0,134.5 L192.0,134.0 L191.0,134.8 L190.0,135.4 L189.1,134.9 L188.1,134.9 L187.1,135.0 L186.1,134.1 L185.1,135.1 L184.1,133.6 L183.1,135.6 L182.1,134.5 L181.1,133.6 L180.1,135.4 L179.1,135.4 L178.1,134.1 L177.1,134.2 L176.1,133.9 L175.1,134.9 L174.1,135.6 L173.2,134.1 L172.2,134.1 L171.2,134.8 L170.2,135.5 L169.2,134.8 L168.2,135.1 L167.2,134.6 L166.2,134.9 L165.2,134.1 L164.2,135.0 L163.2,134.2 L162.2,134.5 L161.2,134.6 L160.2,133.7 L159.2,135.0 L158.2,133.9 L157.2,134.9 L156.3,133.9 L155.3,134.5 L154.3,134.3 L153.3,134.4 L152.3,135.4 L151.3,133.8 L150.3,133.8 L149.3,135.6 L148.3,135.1 L147.3,133.9 L146.3,135.5 L145.3,133.9 L144.3,134.6 L143.3,134.8 L142.3,135.3 L141.3,133.8 L140.4,133.7 L139.4,134.2 L138.4,134.5 L137.4,134.7 L136.4,135.0 L135.4,133.7 L134.4,133.8 L133.4,133.7 Z" fill="#000"/>
<rect x="208.0" y="126.4" width="3.4" height="1.9" fill="#000"/>
<rect x="212.0" y="126.0" width="2.9" height="2.3" fill="#000"/>
<rect x="157.2" y="125.5" width="3.2" height="2.8" fill="#000"/>
<rect x="270.2" y="126.4" width="1.7" height="1.9" fill="#000"/>
<rect x="232.6" y="126.3" width="3.1" height="2.0" fill="#000"/>
<rect x="237.3" y="125.9" width="3.7" height="2.4" fill="#000"/>
<rect x="150.0" y="126.5" width="3.8" height="1.8" fill="#000"/>
<rect x="269.5" y="126.1" width="1.8" height="2.2" fill="#000"/>
<rect x="244.5" y="126.2" width="3.7" height="2.1" fill="#000"/>
<rect x="139.7" y="125.7" width="1.6" height="2.6" fill="#000"/>
<rect x="224.0" y="125.8" width="3.8" height="2.5" fill="#000"/>
<rect x="215.3" y="125.4" width="3.6" height="2.9" fill="#000"/>
<rect x="199.7" y="125.9" width="3.2" height="2.4" fill="#000"/>
<rect x="144.8" y="125.7" width="3.2" height="2.6" fill="#000"/>
<rect x="288.3" y="126.3" width="3.1" height="2.0" fill="#000"/>
<rect x="253.7" y="126.4" width="2.9" height="1.9" fill="#000"/>
<rect x="207.6" y="125.6" width="3.7" height="2.7" fill="#000"/>
<rect x="200.6" y="125.6" width="1.5" height="2.7" fill="#000"/>
<rect x="287.3" y="126.2" width="3.6" height="2.1" fill="#000"/>
<rect x="153.2" y="126.1" width="2.7" height="2.2" fill="#000"/>
<rect x="222.6" y="125.5" width="2.6" height="2.8" fill="#000"/>
<rect x="277.4" y="125.5" width="2.4" height="2.8" fill="#000"/>
<rect x="242.1" y="125.4" width="1.9" height="2.9" fill="#000"/>
<rect x="179.8" y="125.8" width="2.9" height="2.5" fill="#000"/>
<rect x="238.2" y="125.2" width="3.7" height="3.1" fill="#000"/>
<rect x="142.6" y="126.4" width="1.6" height="1.9" fill="#000"/>
<rect x="271.3" y="133.6" width="2.4" height="2.2" fill="#000"/>
<rect x="194.7" y="133.6" width="1.6" height="2.2" fill="#000"/>
<rect x="282.8" y="133.6" width="2.7" height="2.2" fill="#000"/>
<rect x="183.4" y="133.6" width="2.9" height="2.3" fill="#000"/>
<rect x="207.2" y="133.6" width="1.3" height="2.6" fill="#000"/>
<rect x="152.5" y="133.6" width="2.9" height="1.8" fill="#000"/>
<rect x="258.7" y="133.6" width="2.0" height="2.4" fill="#000"/>
<rect x="204.6" y="133.6" width="1.5" height="2.4" fill="#000"/>
<rect x="186.2" y="133.6" width="1.6" height="2.2" fill="#000"/>
<rect x="235.3" y="133.6" width="2.6" height="2.2" fill="#000"/>
<rect x="269.2" y="133.6" width="2.5" height="1.6" fill="#000"/>
<rect x="157.8" y="133.6" width="2.7" height="2.2" fill="#000"/>
<rect x="285.7" y="133.6" width="1.5" height="2.0" fill="#000"/>
<rect x="192.7" y="133.6" width="2.5" height="1.8" fill="#000"/>
<rect x="204.3" y="133.6" width="2.4" height="1.9" fill="#000"/>
<line x1="163.5" y1="54" x2="163.5" y2="75" stroke="#777" stroke-width="0.5"/>
<line x1="193" y1="54" x2="193" y2="75" stroke="#777" stroke-width="0.5"/>
<line x1="209" y1="54" x2="209" y2="75" stroke="#777" stroke-width="0.5"/>
<line x1="237.7" y1="54" x2="237.7" y2="75" stroke="#777" stroke-width="0.5"/>
<line x1="163" y1="102" x2="163" y2="111" stroke="#777" stroke-width="0.5"/>
<line x1="214" y1="102" x2="214" y2="111" stroke="#777" stroke-width="0.5"/>
<line x1="247" y1="102" x2="247" y2="111" stroke="#777" stroke-width="0.5"/>
<line x1="218" y1="128" x2="218" y2="134" stroke="#888" stroke-width="0.5"/>
<line x1="221" y1="128" x2="221" y2="134" stroke="#888" stroke-width="0.5"/>
<line x1="250" y1="128" x2="250" y2="134" stroke="#888" stroke-width="0.5"/>
<path d="M262.7,53 L262.7,75 M262.7,65.5 L292.4,65.5" stroke="#999" stroke-width="0.9" fill="none"/>
<path d="M262.7,101 L262.7,111.2 M262.7,106 L292.4,106" stroke="#999" stroke-width="0.9" fill="none"/>
<path d="M262.7,127.3 L262.7,134.6 M262.7,130.5 L292.4,130.5" stroke="#999" stroke-width="0.9" fill="none"/>
<path d="M133.4,154.22 L134.2,154.09 L135.0,155.00 L135.8,154.82 L136.6,154.84 L137.4,154.25 L138.2,154.07 L139.0,154.97 L139.8,155.09 L140.6,154.08 L141.4,155.07 L142.2,154.86 L143.0,154.56 L143.8,154.83 L144.6,154.50 L145.4,154.54 L146.2,154.55 L147.0,154.48 L147.8,154.36 L148.6,154.85 L149.4,154.77 L150.2,155.08 L151.0,154.27 L151.8,153.97 L152.6,154.37 L153.4,154.75 L154.2,155.01 L155.0,154.60 L155.8,153.91 L156.6,154.36 L157.4,154.55 L158.2,154.54 L159.0,154.33 L159.8,153.98 L160.6,154.38 L161.4,154.53 L162.2,154.21 L163.0,154.90 L163.8,154.29 L164.6,154.51 L165.4,154.14 L166.2,154.16 L167.0,154.01 L167.8,154.87 L168.6,154.25 L169.4,154.59 L170.2,154.33 L171.0,154.84 L171.8,154.93 L172.6,154.20 L173.4,155.01 L174.2,154.49 L175.0,154.94 L175.8,154.35 L176.6,154.46 L177.4,154.00 L178.2,154.28 L179.0,153.94 L179.8,154.24 L180.6,154.63 L181.4,154.01 L182.2,154.15 L183.0,154.94 L183.8,154.58 L184.6,154.60 L185.4,154.16 L186.2,155.01 L187.0,154.24 L187.8,154.02 L188.6,154.44 L189.4,154.61 L190.2,154.63 L191.0,154.06 L191.8,154.91 L192.6,154.31 L193.4,155.09 L194.2,154.35 L195.0,153.93 L195.8,153.94 L196.6,154.34 L197.4,154.75 L198.2,154.48 L199.0,154.91 L199.8,154.97 L200.6,154.94 L201.4,154.67 L202.2,155.01 L203.0,154.75 L203.8,154.01 L204.6,154.28 L205.4,154.18 L206.2,154.01 L207.0,155.01 L207.8,154.51 L208.6,154.12 L209.4,154.92 L210.2,154.35 L211.0,154.18 L211.8,154.76 L212.6,154.11 L213.4,155.03 L214.2,155.03 L215.0,153.97 L215.8,154.56 L216.6,153.93 L217.4,155.00 L218.2,154.21 L219.0,154.52 L219.8,154.79 L220.6,154.81 L221.4,154.48 L222.2,154.02 L223.0,154.28 L223.8,153.91 L224.6,154.14 L225.4,154.80 L226.2,154.61 L227.0,154.43 L227.8,154.68 L228.6,154.46 L229.4,154.35 L230.2,154.37 L231.0,154.35 L231.8,154.36 L232.6,154.43 L233.4,154.87 L234.2,155.00 L235.0,154.97 L235.8,154.46 L236.6,155.00 L237.4,154.86 L238.2,154.09 L239.0,154.90 L239.8,153.99 L240.6,154.64 L241.4,154.35 L242.2,154.80 L243.0,154.83 L243.8,155.05 L244.6,155.01 L245.4,154.36 L246.2,153.93 L247.0,153.99 L247.8,155.07 L248.6,154.29 L249.4,154.18 L250.2,154.04 L251.0,154.34 L251.8,154.30 L252.6,154.78 L253.4,154.12 L254.2,154.44 L255.0,154.97 L255.8,154.43 L256.6,154.08 L257.4,154.40 L258.2,154.20 L259.0,153.93 L259.8,154.59 L260.6,154.26 L261.4,154.86 L262.2,154.21 L263.0,154.03 L263.8,154.45 L264.6,154.48 L265.4,154.08 L266.2,154.52 L267.0,154.66 L267.8,154.85 L268.6,155.01 L269.4,154.57 L270.2,154.90 L271.0,154.04 L271.8,154.81 L272.6,155.06 L273.4,154.42 L274.2,154.21 L275.0,154.19 L275.8,154.19 L276.6,154.37 L277.4,154.40 L278.2,154.09 L279.0,154.90 L279.8,155.07 L280.6,154.07 L281.4,154.67 L282.2,154.43 L283.0,154.51 L283.8,154.51 L284.6,154.43 L285.4,154.85 L286.2,155.03 L287.0,154.24 L287.8,154.33 L288.6,153.95 L289.4,154.39 L290.2,154.23 L291.0,154.12 L291.8,154.91" fill="none" stroke="#000" stroke-width="2.9" stroke-linejoin="round"/>
<line x1="249" y1="153.6" x2="292.4" y2="153.6" stroke="#999" stroke-width="0.8"/>
<line x1="225.8" y1="153.5" x2="225.8" y2="142.7" stroke="#c9a0f0" stroke-width="0.9"/>
<line x1="265" y1="153.5" x2="265" y2="142.7" stroke="#c9a0f0" stroke-width="0.9"/>
<line x1="277.8" y1="153.5" x2="277.8" y2="142.7" stroke="#c9a0f0" stroke-width="0.9"/>
<path d="M133.4,167.62 L134.2,167.38 L135.0,167.34 L135.8,167.68 L136.6,167.86 L137.4,167.91 L138.2,167.78 L139.0,167.81 L139.8,167.34 L140.6,167.31 L141.4,167.74 L142.2,167.70 L143.0,167.35 L143.8,167.45 L144.6,167.21 L145.4,167.75 L146.2,167.62 L147.0,167.87 L147.8,167.93 L148.6,167.61 L149.4,167.48 L150.2,167.43 L151.0,167.71 L151.8,167.96 L152.6,167.27 L153.4,167.53 L154.2,167.81 L155.0,167.31 L155.8,167.73 L156.6,167.40 L157.4,167.65 L158.2,167.99 L159.0,167.23 L159.8,167.76 L160.6,167.66 L161.4,167.89 L162.2,167.48 L163.0,167.95 L163.8,167.97 L164.6,167.26 L165.4,167.49 L166.2,167.40 L167.0,167.86 L167.8,167.93 L168.6,167.82 L169.4,167.89 L170.2,167.66 L171.0,167.92 L171.8,167.43 L172.6,167.29 L173.4,167.78 L174.2,167.56 L175.0,167.22 L175.8,167.84 L176.6,167.31 L177.4,167.39 L178.2,167.27 L179.0,167.70 L179.8,167.33 L180.6,167.45 L181.4,167.64 L182.2,167.96 L183.0,167.22 L183.8,167.94 L184.6,167.79 L185.4,167.41 L186.2,167.87 L187.0,167.71 L187.8,167.57 L188.6,167.39 L189.4,167.56 L190.2,167.48 L191.0,167.28 L191.8,167.34 L192.6,167.42 L193.4,167.57 L194.2,167.67 L195.0,167.81 L195.8,167.29 L196.6,167.30 L197.4,167.91 L198.2,167.63 L199.0,167.38 L199.8,167.38 L200.6,167.74 L201.4,167.57 L202.2,167.52 L203.0,167.96 L203.8,167.21 L204.6,167.71 L205.4,167.76 L206.2,167.68 L207.0,167.68 L207.8,167.23 L208.6,167.98 L209.4,167.24 L210.2,167.49 L211.0,167.52 L211.8,167.87 L212.6,167.77 L213.4,167.87 L214.2,167.65 L215.0,167.99 L215.8,167.46 L216.6,167.52 L217.4,167.65 L218.2,167.46 L219.0,167.32 L219.8,167.74 L220.6,167.48 L221.4,167.90 L222.2,167.73 L223.0,167.21 L223.8,167.29 L224.6,167.35 L225.4,167.46 L226.2,167.36 L227.0,167.74 L227.8,167.38 L228.6,167.54 L229.4,167.52 L230.2,168.00 L231.0,167.56 L231.8,167.24 L232.6,167.98 L233.4,167.98 L234.2,167.23 L235.0,167.89 L235.8,167.70 L236.6,167.93 L237.4,167.70 L238.2,167.70 L239.0,167.85 L239.8,167.23 L240.6,167.28 L241.4,167.30 L242.2,167.21 L243.0,167.39 L243.8,167.23 L244.6,167.29 L245.4,167.48 L246.2,167.33 L247.0,167.25 L247.8,167.97 L248.6,167.94 L249.4,167.92 L250.2,167.27 L251.0,167.67 L251.8,167.95 L252.6,167.55 L253.4,167.61 L254.2,167.91 L255.0,167.93 L255.8,167.66 L256.6,167.42 L257.4,167.79 L258.2,167.79 L259.0,167.43 L259.8,167.56 L260.6,167.76 L261.4,167.38 L262.2,167.51 L263.0,167.64 L263.8,167.49 L264.6,167.91 L265.4,167.44 L266.2,167.58 L267.0,167.86 L267.8,167.22 L268.6,167.47 L269.4,167.35 L270.2,167.64 L271.0,167.98 L271.8,167.52 L272.6,167.94 L273.4,167.33 L274.2,167.96 L275.0,167.46 L275.8,167.46 L276.6,167.42 L277.4,167.90 L278.2,167.37 L279.0,167.25 L279.8,167.22 L280.6,167.64 L281.4,167.68 L282.2,167.48 L283.0,167.73 L283.8,167.61 L284.6,167.87 L285.4,167.48 L286.2,167.81 L287.0,167.62 L287.8,167.99 L288.6,167.74 L289.4,167.95 L290.2,167.53 L291.0,167.73 L291.8,167.31" fill="none" stroke="#000" stroke-width="1.8" stroke-linejoin="round"/>
<path d="M133.4,172.36 L134.2,172.69 L135.0,172.42 L135.8,172.87 L136.6,172.28 L137.4,172.89 L138.2,172.94 L139.0,173.00 L139.8,172.41 L140.6,172.70 L141.4,172.71 L142.2,172.76 L143.0,172.53 L143.8,172.28 L144.6,172.53 L145.4,172.64 L146.2,172.29 L147.0,172.52 L147.8,172.99 L148.6,172.32 L149.4,172.88 L150.2,172.42 L151.0,172.70 L151.8,172.29 L152.6,172.88 L153.4,172.75 L154.2,172.43 L155.0,172.48 L155.8,172.48 L156.6,172.62 L157.4,172.68 L158.2,172.72 L159.0,172.21 L159.8,172.80 L160.6,172.99 L161.4,172.50 L162.2,172.44 L163.0,172.63 L163.8,172.84 L164.6,172.55 L165.4,172.50 L166.2,172.39 L167.0,172.86 L167.8,172.46 L168.6,172.98 L169.4,172.69 L170.2,172.39 L171.0,172.46 L171.8,172.98 L172.6,172.91 L173.4,172.96 L174.2,172.22 L175.0,172.41 L175.8,172.92 L176.6,172.44 L177.4,172.63 L178.2,172.45 L179.0,172.70 L179.8,172.55 L180.6,172.86 L181.4,172.78 L182.2,172.54 L183.0,172.57 L183.8,172.23 L184.6,172.74 L185.4,172.56 L186.2,172.21 L187.0,172.25 L187.8,172.38 L188.6,172.53 L189.4,172.60 L190.2,172.72 L191.0,172.94 L191.8,172.32 L192.6,172.35 L193.4,172.54 L194.2,172.52 L195.0,172.81 L195.8,172.92 L196.6,172.67 L197.4,172.75 L198.2,172.80 L199.0,172.27 L199.8,172.49 L200.6,172.49 L201.4,172.26 L202.2,172.45 L203.0,172.34 L203.8,172.72 L204.6,172.44 L205.4,172.47 L206.2,172.95 L207.0,172.61 L207.8,172.98 L208.6,172.70 L209.4,172.62 L210.2,172.85 L211.0,172.37 L211.8,172.91 L212.6,172.53 L213.4,172.25 L214.2,172.65 L215.0,172.29 L215.8,172.66 L216.6,172.71 L217.4,172.78 L218.2,172.75 L219.0,172.21 L219.8,172.20 L220.6,172.77 L221.4,172.64 L222.2,172.93 L223.0,172.52 L223.8,172.28 L224.6,172.21 L225.4,172.22 L226.2,172.34 L227.0,172.82 L227.8,172.65 L228.6,172.90 L229.4,172.92 L230.2,172.61 L231.0,172.31 L231.8,172.36 L232.6,172.68 L233.4,172.32 L234.2,172.61 L235.0,172.61 L235.8,172.22 L236.6,172.26 L237.4,172.96 L238.2,172.59 L239.0,172.57 L239.8,172.54 L240.6,172.84 L241.4,172.72 L242.2,172.75 L243.0,172.66 L243.8,172.32 L244.6,172.39 L245.4,172.42 L246.2,172.23 L247.0,172.70 L247.8,172.89 L248.6,172.96 L249.4,172.25 L250.2,172.35 L251.0,172.70 L251.8,172.22 L252.6,172.38 L253.4,172.52 L254.2,172.81 L255.0,172.24 L255.8,172.24 L256.6,172.39 L257.4,172.38 L258.2,172.33 L259.0,172.67 L259.8,172.34 L260.6,172.20 L261.4,172.89 L262.2,172.56 L263.0,172.53 L263.8,172.40 L264.6,172.91 L265.4,172.98 L266.2,172.25 L267.0,172.74 L267.8,172.74 L268.6,172.67 L269.4,172.53 L270.2,172.52 L271.0,172.77 L271.8,172.22 L272.6,172.89 L273.4,172.27 L274.2,172.34 L275.0,172.50 L275.8,172.21 L276.6,172.91 L277.4,172.52 L278.2,172.49 L279.0,172.47 L279.8,172.90 L280.6,172.47 L281.4,172.72 L282.2,172.97 L283.0,172.54 L283.8,172.93 L284.6,172.64 L285.4,172.51 L286.2,172.57 L287.0,172.48 L287.8,172.55 L288.6,172.42 L289.4,172.22 L290.2,172.84 L291.0,172.39 L291.8,172.30" fill="none" stroke="#000" stroke-width="1.6" stroke-linejoin="round"/>
<path d="M292.4,65.5 L294,65.5 Q298,65.5 298,61.5 L298,25.1 Q298,21.1 302,21.1 L326,21.1" fill="none" stroke="#b0b0b0" stroke-width="1.1"/>
<path d="M324.5,21.1 L329.5,18.3 L329.5,23.900000000000002 Z" fill="#aaa"/>
<path d="M292.4,106 L299.6,106 Q303.6,106 303.6,102 L303.6,53.6 Q303.6,49.6 307.6,49.6 L326,49.6" fill="none" stroke="#b0b0b0" stroke-width="1.1"/>
<path d="M324.5,49.6 L329.5,46.800000000000004 L329.5,52.4 Z" fill="#aaa"/>
<path d="M292.4,130.5 L305,130.5 Q309,130.5 309,126.5 L309,81.3 Q309,77.3 313,77.3 L326,77.3" fill="none" stroke="#b0b0b0" stroke-width="1.1"/>
<path d="M324.5,77.3 L329.5,74.5 L329.5,80.1 Z" fill="#aaa"/>
<path d="M292.4,154.9 L310.2,154.9 Q314.2,154.9 314.2,150.9 L314.2,111.8 Q314.2,107.8 318.2,107.8 L326,107.8" fill="none" stroke="#b0b0b0" stroke-width="1.1"/>
<path d="M324.5,107.8 L329.5,105.0 L329.5,110.6 Z" fill="#aaa"/>
<path d="M292.4,168.7 L312.7,168.7 Q316.7,168.7 316.7,164.7 L316.7,141.5 Q316.7,137.5 320.7,137.5 L326,137.5" fill="none" stroke="#b0b0b0" stroke-width="1.1"/>
<path d="M324.5,137.5 L329.5,134.7 L329.5,140.3 Z" fill="#aaa"/>
<path d="M292.4,172.9 L326,172.9" fill="none" stroke="#b0b0b0" stroke-width="1.1"/>
<path d="M324.5,172.9 L329.5,170.1 L329.5,175.7 Z" fill="#aaa"/>
<line x1="342.3" y1="30.3" x2="342.3" y2="15.2" stroke="#b5b5b5" stroke-width="0.8"/>
<line x1="362.1" y1="30.3" x2="362.1" y2="15.2" stroke="#9d9d9d" stroke-width="0.8"/>
<line x1="340.3" y1="30.3" x2="340.3" y2="14.5" stroke="#777" stroke-width="1.2"/>
<line x1="352.3" y1="30.3" x2="352.3" y2="14.4" stroke="#c8c8c8" stroke-width="1.2"/>
<line x1="359.4" y1="30.3" x2="359.4" y2="15.2" stroke="#555" stroke-width="0.8"/>
<line x1="383.5" y1="30.3" x2="383.5" y2="14.9" stroke="#666" stroke-width="1.2"/>
<line x1="363.9" y1="30.3" x2="363.9" y2="14.8" stroke="#777" stroke-width="1.2"/>
<line x1="365.1" y1="30.3" x2="365.1" y2="14.4" stroke="#555" stroke-width="0.6"/>
<line x1="368.9" y1="30.3" x2="368.9" y2="14.9" stroke="#2a2a2a" stroke-width="1.0"/>
<line x1="372.1" y1="30.3" x2="372.1" y2="14.2" stroke="#8a8a8a" stroke-width="1.5"/>
<line x1="339.5" y1="30.3" x2="339.5" y2="14.7" stroke="#111" stroke-width="0.6"/>
<line x1="369.8" y1="30.3" x2="369.8" y2="14.6" stroke="#555" stroke-width="0.6"/>
<line x1="335.3" y1="30.3" x2="335.3" y2="15.2" stroke="#777" stroke-width="1.0"/>
<line x1="342.1" y1="30.3" x2="342.1" y2="14.3" stroke="#666" stroke-width="1.0"/>
<line x1="338.5" y1="30.3" x2="338.5" y2="14.5" stroke="#8a8a8a" stroke-width="1.2"/>
<line x1="378.1" y1="30.3" x2="378.1" y2="15.1" stroke="#9d9d9d" stroke-width="0.8"/>
<line x1="383.2" y1="30.3" x2="383.2" y2="14.2" stroke="#444" stroke-width="1.0"/>
<line x1="381.0" y1="30.3" x2="381.0" y2="15.0" stroke="#111" stroke-width="1.2"/>
<line x1="345.2" y1="30.3" x2="345.2" y2="14.6" stroke="#8a8a8a" stroke-width="0.6"/>
<line x1="341.5" y1="30.3" x2="341.5" y2="14.5" stroke="#2a2a2a" stroke-width="1.5"/>
<line x1="372.0" y1="30.3" x2="372.0" y2="14.2" stroke="#d5d5d5" stroke-width="0.6"/>
<line x1="365.1" y1="30.3" x2="365.1" y2="14.4" stroke="#8a8a8a" stroke-width="1.0"/>
<line x1="340.1" y1="30.3" x2="340.1" y2="14.9" stroke="#111" stroke-width="0.8"/>
<line x1="362.7" y1="30.3" x2="362.7" y2="14.9" stroke="#555" stroke-width="1.5"/>
<line x1="345.6" y1="30.3" x2="345.6" y2="15.0" stroke="#8a8a8a" stroke-width="1.5"/>
<line x1="350.8" y1="30.3" x2="350.8" y2="14.3" stroke="#111" stroke-width="1.0"/>
<line x1="381.2" y1="30.3" x2="381.2" y2="14.9" stroke="#c8c8c8" stroke-width="0.6"/>
<line x1="385.3" y1="30.3" x2="385.3" y2="14.3" stroke="#d5d5d5" stroke-width="1.0"/>
<line x1="343.1" y1="30.3" x2="343.1" y2="15.1" stroke="#777" stroke-width="0.6"/>
<line x1="354.5" y1="30.3" x2="354.5" y2="15.4" stroke="#8a8a8a" stroke-width="1.5"/>
<line x1="377.2" y1="30.3" x2="377.2" y2="14.8" stroke="#666" stroke-width="1.0"/>
<line x1="383.7" y1="30.3" x2="383.7" y2="14.7" stroke="#8a8a8a" stroke-width="1.0"/>
<line x1="369.7" y1="30.3" x2="369.7" y2="15.0" stroke="#d5d5d5" stroke-width="1.5"/>
<line x1="334.5" y1="30.3" x2="334.5" y2="14.7" stroke="#555" stroke-width="1.5"/>
<line x1="378.2" y1="30.3" x2="378.2" y2="14.8" stroke="#444" stroke-width="0.8"/>
<line x1="333.9" y1="30.3" x2="333.9" y2="14.5" stroke="#b5b5b5" stroke-width="1.5"/>
<line x1="340.5" y1="30.3" x2="340.5" y2="14.5" stroke="#d5d5d5" stroke-width="1.0"/>
<line x1="345.3" y1="30.3" x2="345.3" y2="14.4" stroke="#111" stroke-width="1.0"/>
<line x1="354.2" y1="30.3" x2="354.2" y2="15.0" stroke="#555" stroke-width="0.8"/>
<line x1="339.0" y1="30.3" x2="339.0" y2="15.0" stroke="#9d9d9d" stroke-width="0.8"/>
<line x1="370.5" y1="30.3" x2="370.5" y2="14.8" stroke="#111" stroke-width="1.2"/>
<line x1="338.8" y1="30.3" x2="338.8" y2="14.6" stroke="#d5d5d5" stroke-width="1.0"/>
<line x1="338.9" y1="30.3" x2="338.9" y2="14.9" stroke="#444" stroke-width="0.8"/>
<line x1="349.9" y1="30.3" x2="349.9" y2="14.9" stroke="#2a2a2a" stroke-width="0.8"/>
<line x1="368.9" y1="30.3" x2="368.9" y2="14.9" stroke="#444" stroke-width="1.2"/>
<line x1="377.8" y1="30.3" x2="377.8" y2="15.2" stroke="#8a8a8a" stroke-width="0.6"/>
<line x1="369.6" y1="30.3" x2="369.6" y2="14.6" stroke="#111" stroke-width="0.8"/>
<line x1="333.9" y1="30.3" x2="333.9" y2="14.6" stroke="#666" stroke-width="0.6"/>
<line x1="370.2" y1="30.3" x2="370.2" y2="15.4" stroke="#9d9d9d" stroke-width="0.8"/>
<line x1="349.4" y1="30.3" x2="349.4" y2="14.9" stroke="#9d9d9d" stroke-width="1.0"/>
<line x1="340.8" y1="30.3" x2="340.8" y2="14.3" stroke="#2a2a2a" stroke-width="1.2"/>
<line x1="386.3" y1="30.3" x2="386.3" y2="14.3" stroke="#9d9d9d" stroke-width="1.0"/>
<line x1="385.6" y1="30.3" x2="385.6" y2="14.5" stroke="#c8c8c8" stroke-width="1.2"/>
<line x1="384.3" y1="30.3" x2="384.3" y2="14.4" stroke="#9d9d9d" stroke-width="1.5"/>
<line x1="349.3" y1="30.3" x2="349.3" y2="15.3" stroke="#777" stroke-width="1.0"/>
<line x1="366.2" y1="30.3" x2="366.2" y2="15.0" stroke="#d5d5d5" stroke-width="0.8"/>
<line x1="335.8" y1="30.3" x2="335.8" y2="14.2" stroke="#111" stroke-width="1.2"/>
<line x1="377.8" y1="30.3" x2="377.8" y2="14.6" stroke="#666" stroke-width="1.5"/>
<line x1="378.2" y1="30.3" x2="378.2" y2="14.4" stroke="#d5d5d5" stroke-width="1.0"/>
<line x1="372.5" y1="30.3" x2="372.5" y2="14.7" stroke="#777" stroke-width="1.0"/>
<line x1="349.2" y1="30.3" x2="349.2" y2="14.4" stroke="#777" stroke-width="1.0"/>
<line x1="377.7" y1="30.3" x2="377.7" y2="14.5" stroke="#666" stroke-width="0.6"/>
<line x1="337.4" y1="30.3" x2="337.4" y2="15.3" stroke="#d5d5d5" stroke-width="1.2"/>
<line x1="381.5" y1="30.3" x2="381.5" y2="14.8" stroke="#555" stroke-width="1.2"/>
<line x1="371.8" y1="30.3" x2="371.8" y2="14.9" stroke="#666" stroke-width="0.6"/>
<line x1="339.3" y1="30.3" x2="339.3" y2="14.4" stroke="#555" stroke-width="1.2"/>
<line x1="366.6" y1="30.3" x2="366.6" y2="14.3" stroke="#8a8a8a" stroke-width="0.6"/>
<line x1="378.5" y1="30.3" x2="378.5" y2="14.4" stroke="#9d9d9d" stroke-width="1.0"/>
<line x1="331.7" y1="30.3" x2="331.7" y2="15.2" stroke="#c8c8c8" stroke-width="1.5"/>
<line x1="355.0" y1="30.3" x2="355.0" y2="14.3" stroke="#666" stroke-width="0.6"/>
<line x1="359.9" y1="30.3" x2="359.9" y2="15.3" stroke="#8a8a8a" stroke-width="0.6"/>
<line x1="355.7" y1="30.3" x2="355.7" y2="15.3" stroke="#d5d5d5" stroke-width="0.8"/>
<line x1="381.4" y1="30.3" x2="381.4" y2="14.7" stroke="#444" stroke-width="0.6"/>
<line x1="356.0" y1="30.3" x2="356.0" y2="15.0" stroke="#c8c8c8" stroke-width="1.5"/>
<line x1="331.5" y1="30.3" x2="386.7" y2="30.3" stroke="#111" stroke-width="1.3"/>
<line x1="389.1" y1="27.2" x2="389.1" y2="12.4" stroke="#2a2a2a" stroke-width="1.5"/>
<line x1="392.4" y1="27.2" x2="392.4" y2="12.8" stroke="#b5b5b5" stroke-width="0.8"/>
<line x1="398.7" y1="27.2" x2="398.7" y2="12.4" stroke="#c8c8c8" stroke-width="0.6"/>
<line x1="395.6" y1="27.2" x2="395.6" y2="12.4" stroke="#777" stroke-width="1.0"/>
<line x1="393.6" y1="27.2" x2="393.6" y2="12.8" stroke="#8a8a8a" stroke-width="1.2"/>
<line x1="394.8" y1="27.2" x2="394.8" y2="12.1" stroke="#444" stroke-width="1.0"/>
<line x1="393.2" y1="27.2" x2="393.2" y2="11.7" stroke="#d5d5d5" stroke-width="0.8"/>
<line x1="389.4" y1="27.2" x2="389.4" y2="12.5" stroke="#9d9d9d" stroke-width="0.8"/>
<line x1="394.8" y1="27.2" x2="394.8" y2="12.4" stroke="#777" stroke-width="1.2"/>
<line x1="391.1" y1="27.2" x2="391.1" y2="12.4" stroke="#555" stroke-width="1.2"/>
<line x1="389.9" y1="27.2" x2="389.9" y2="11.9" stroke="#555" stroke-width="0.8"/>
<line x1="393.4" y1="27.2" x2="393.4" y2="12.0" stroke="#2a2a2a" stroke-width="1.0"/>
<line x1="394.7" y1="27.2" x2="394.7" y2="12.3" stroke="#555" stroke-width="1.0"/>
<line x1="395.4" y1="27.2" x2="395.4" y2="12.4" stroke="#555" stroke-width="0.8"/>
<line x1="393.4" y1="27.2" x2="393.4" y2="12.6" stroke="#2a2a2a" stroke-width="1.5"/>
<line x1="386.7" y1="27.2" x2="399" y2="27.2" stroke="#111" stroke-width="1.3"/>
<line x1="386.7" y1="27.2" x2="386.7" y2="30.3" stroke="#222" stroke-width="1"/>
<line x1="399" y1="31.2" x2="408" y2="31.2" stroke="#111" stroke-width="1.4"/>
<line x1="399" y1="27.2" x2="399" y2="31.2" stroke="#222" stroke-width="1"/>
<line x1="408" y1="27.2" x2="408" y2="31.2" stroke="#222" stroke-width="1"/>
<line x1="414.2" y1="27.2" x2="414.2" y2="12.5" stroke="#8a8a8a" stroke-width="1.2"/>
<line x1="409.5" y1="27.2" x2="409.5" y2="12.4" stroke="#b5b5b5" stroke-width="0.6"/>
<line x1="414.9" y1="27.2" x2="414.9" y2="11.8" stroke="#b5b5b5" stroke-width="1.2"/>
<line x1="414.0" y1="27.2" x2="414.0" y2="12.4" stroke="#555" stroke-width="0.6"/>
<line x1="409.5" y1="27.2" x2="409.5" y2="11.8" stroke="#c8c8c8" stroke-width="0.8"/>
<line x1="408.5" y1="27.2" x2="408.5" y2="11.7" stroke="#111" stroke-width="1.5"/>
<line x1="418.5" y1="27.2" x2="418.5" y2="12.1" stroke="#9d9d9d" stroke-width="0.8"/>
<line x1="412.7" y1="27.2" x2="412.7" y2="12.4" stroke="#2a2a2a" stroke-width="0.8"/>
<line x1="414.2" y1="27.2" x2="414.2" y2="11.9" stroke="#777" stroke-width="1.0"/>
<line x1="416.8" y1="27.2" x2="416.8" y2="11.7" stroke="#d5d5d5" stroke-width="1.0"/>
<line x1="409.3" y1="27.2" x2="409.3" y2="12.3" stroke="#777" stroke-width="1.5"/>
<line x1="418.4" y1="27.2" x2="418.4" y2="11.8" stroke="#9d9d9d" stroke-width="1.5"/>
<line x1="411.9" y1="27.2" x2="411.9" y2="12.4" stroke="#777" stroke-width="1.5"/>
<line x1="408" y1="27.2" x2="419" y2="27.2" stroke="#111" stroke-width="1.3"/>
<line x1="419" y1="31.2" x2="428" y2="31.2" stroke="#111" stroke-width="1.4"/>
<line x1="419" y1="27.2" x2="419" y2="31.2" stroke="#222" stroke-width="1"/>
<line x1="428" y1="27.2" x2="428" y2="31.2" stroke="#222" stroke-width="1"/>
<line x1="430.3" y1="27.2" x2="430.3" y2="12.0" stroke="#d5d5d5" stroke-width="1.0"/>
<line x1="431.9" y1="27.2" x2="431.9" y2="11.7" stroke="#9d9d9d" stroke-width="1.5"/>
<line x1="436.8" y1="27.2" x2="436.8" y2="12.3" stroke="#111" stroke-width="0.6"/>
<line x1="444.0" y1="27.2" x2="444.0" y2="11.9" stroke="#444" stroke-width="1.0"/>
<line x1="445.5" y1="27.2" x2="445.5" y2="12.2" stroke="#d5d5d5" stroke-width="0.8"/>
<line x1="439.8" y1="27.2" x2="439.8" y2="12.3" stroke="#666" stroke-width="1.0"/>
<line x1="447.0" y1="27.2" x2="447.0" y2="11.7" stroke="#111" stroke-width="0.8"/>
<line x1="437.7" y1="27.2" x2="437.7" y2="12.7" stroke="#9d9d9d" stroke-width="0.6"/>
<line x1="429.5" y1="27.2" x2="429.5" y2="12.7" stroke="#c8c8c8" stroke-width="1.5"/>
<line x1="435.9" y1="27.2" x2="435.9" y2="12.9" stroke="#9d9d9d" stroke-width="1.2"/>
<line x1="435.9" y1="27.2" x2="435.9" y2="12.3" stroke="#c8c8c8" stroke-width="1.0"/>
<line x1="434.6" y1="27.2" x2="434.6" y2="12.1" stroke="#555" stroke-width="0.8"/>
<line x1="439.8" y1="27.2" x2="439.8" y2="12.0" stroke="#111" stroke-width="1.0"/>
<line x1="442.5" y1="27.2" x2="442.5" y2="12.4" stroke="#777" stroke-width="1.2"/>
<line x1="446.7" y1="27.2" x2="446.7" y2="11.7" stroke="#777" stroke-width="1.5"/>
<line x1="437.7" y1="27.2" x2="437.7" y2="11.7" stroke="#555" stroke-width="1.2"/>
<line x1="445.5" y1="27.2" x2="445.5" y2="11.8" stroke="#c8c8c8" stroke-width="0.8"/>
<line x1="442.5" y1="27.2" x2="442.5" y2="12.0" stroke="#444" stroke-width="1.0"/>
<line x1="429.3" y1="27.2" x2="429.3" y2="12.1" stroke="#666" stroke-width="1.5"/>
<line x1="438.6" y1="27.2" x2="438.6" y2="12.9" stroke="#444" stroke-width="0.6"/>
<line x1="446.3" y1="27.2" x2="446.3" y2="12.7" stroke="#2a2a2a" stroke-width="1.2"/>
<line x1="440.7" y1="27.2" x2="440.7" y2="11.8" stroke="#d5d5d5" stroke-width="1.0"/>
<line x1="443.9" y1="27.2" x2="443.9" y2="12.7" stroke="#555" stroke-width="0.8"/>
<line x1="441.6" y1="27.2" x2="441.6" y2="12.9" stroke="#666" stroke-width="1.0"/>
<line x1="442.8" y1="27.2" x2="442.8" y2="12.7" stroke="#b5b5b5" stroke-width="0.8"/>
<line x1="435.0" y1="27.2" x2="435.0" y2="12.6" stroke="#b5b5b5" stroke-width="1.0"/>
<line x1="429.2" y1="27.2" x2="429.2" y2="12.5" stroke="#777" stroke-width="1.2"/>
<line x1="428" y1="27.2" x2="448" y2="27.2" stroke="#111" stroke-width="1.3"/>
<line x1="448" y1="7.3" x2="448" y2="14" stroke="#222" stroke-width="0.8"/>
<line x1="477.8" y1="28" x2="477.8" y2="15.0" stroke="#555" stroke-width="1.0"/>
<line x1="468.8" y1="28" x2="468.8" y2="14.0" stroke="#555" stroke-width="1.2"/>
<line x1="475.3" y1="28" x2="475.3" y2="14.7" stroke="#8a8a8a" stroke-width="1.0"/>
<line x1="488.7" y1="28" x2="488.7" y2="14.1" stroke="#c8c8c8" stroke-width="1.0"/>
<line x1="483.4" y1="28" x2="483.4" y2="14.9" stroke="#666" stroke-width="1.5"/>
<line x1="481.8" y1="28" x2="481.8" y2="14.1" stroke="#777" stroke-width="0.8"/>
<line x1="479.9" y1="28" x2="479.9" y2="14.7" stroke="#2a2a2a" stroke-width="1.0"/>
<line x1="479.8" y1="28" x2="479.8" y2="14.4" stroke="#9d9d9d" stroke-width="1.2"/>
<line x1="483.4" y1="28" x2="483.4" y2="15.0" stroke="#2a2a2a" stroke-width="1.0"/>
<line x1="487.9" y1="28" x2="487.9" y2="15.1" stroke="#666" stroke-width="1.5"/>
<line x1="465.6" y1="28" x2="465.6" y2="14.8" stroke="#444" stroke-width="0.8"/>
<line x1="483.0" y1="28" x2="483.0" y2="14.1" stroke="#555" stroke-width="1.2"/>
<line x1="470.1" y1="28" x2="470.1" y2="14.3" stroke="#c8c8c8" stroke-width="1.5"/>
<line x1="481.5" y1="28" x2="481.5" y2="14.3" stroke="#555" stroke-width="0.6"/>
<line x1="489.6" y1="28" x2="489.6" y2="14.1" stroke="#c8c8c8" stroke-width="0.6"/>
<line x1="485.6" y1="28" x2="485.6" y2="14.4" stroke="#c8c8c8" stroke-width="0.8"/>
<line x1="465.1" y1="28" x2="465.1" y2="14.6" stroke="#666" stroke-width="0.6"/>
<line x1="481.3" y1="28" x2="481.3" y2="14.3" stroke="#111" stroke-width="1.0"/>
<line x1="487.1" y1="28" x2="487.1" y2="14.8" stroke="#111" stroke-width="1.2"/>
<line x1="480.5" y1="28" x2="480.5" y2="14.2" stroke="#777" stroke-width="1.2"/>
<line x1="485.3" y1="28" x2="485.3" y2="14.8" stroke="#2a2a2a" stroke-width="1.0"/>
<line x1="484.8" y1="28" x2="484.8" y2="14.5" stroke="#c8c8c8" stroke-width="1.2"/>
<line x1="487.3" y1="28" x2="487.3" y2="15.1" stroke="#111" stroke-width="1.5"/>
<line x1="481.7" y1="28" x2="481.7" y2="14.1" stroke="#777" stroke-width="1.5"/>
<line x1="483.1" y1="28" x2="483.1" y2="14.2" stroke="#777" stroke-width="0.6"/>
<line x1="469.0" y1="28" x2="469.0" y2="14.6" stroke="#444" stroke-width="0.6"/>
<line x1="474.1" y1="28" x2="474.1" y2="14.5" stroke="#777" stroke-width="1.5"/>
<line x1="482.3" y1="28" x2="482.3" y2="14.2" stroke="#b5b5b5" stroke-width="1.5"/>
<line x1="479.7" y1="28" x2="479.7" y2="14.9" stroke="#555" stroke-width="1.0"/>
<line x1="485.7" y1="28" x2="485.7" y2="14.9" stroke="#9d9d9d" stroke-width="1.0"/>
<line x1="481.6" y1="28" x2="481.6" y2="15.2" stroke="#b5b5b5" stroke-width="1.2"/>
<line x1="479.3" y1="28" x2="479.3" y2="14.6" stroke="#777" stroke-width="1.0"/>
<line x1="468.4" y1="28" x2="468.4" y2="14.7" stroke="#111" stroke-width="0.6"/>
<line x1="481.7" y1="28" x2="481.7" y2="14.2" stroke="#777" stroke-width="0.8"/>
<line x1="465" y1="28" x2="490.5" y2="28" stroke="#111" stroke-width="1.3"/>
<line x1="365.8" y1="57.5" x2="365.8" y2="41.6" stroke="#2a2a2a" stroke-width="1.5"/>
<line x1="343.0" y1="57.5" x2="343.0" y2="41.2" stroke="#111" stroke-width="0.8"/>
<line x1="379.0" y1="57.5" x2="379.0" y2="40.8" stroke="#444" stroke-width="1.5"/>
<line x1="362.8" y1="57.5" x2="362.8" y2="41.6" stroke="#444" stroke-width="0.8"/>
<line x1="376.7" y1="57.5" x2="376.7" y2="41.4" stroke="#777" stroke-width="0.8"/>
<line x1="369.3" y1="57.5" x2="369.3" y2="40.8" stroke="#9d9d9d" stroke-width="1.0"/>
<line x1="408.5" y1="57.5" x2="408.5" y2="41.1" stroke="#8a8a8a" stroke-width="1.0"/>
<line x1="399.0" y1="57.5" x2="399.0" y2="40.6" stroke="#111" stroke-width="0.6"/>
<line x1="337.1" y1="57.5" x2="337.1" y2="41.6" stroke="#d5d5d5" stroke-width="1.0"/>
<line x1="336.6" y1="57.5" x2="336.6" y2="41.0" stroke="#c8c8c8" stroke-width="1.2"/>
<line x1="412.3" y1="57.5" x2="412.3" y2="41.5" stroke="#d5d5d5" stroke-width="0.6"/>
<line x1="353.0" y1="57.5" x2="353.0" y2="41.4" stroke="#666" stroke-width="0.8"/>
<line x1="351.3" y1="57.5" x2="351.3" y2="40.9" stroke="#555" stroke-width="1.2"/>
<line x1="386.5" y1="57.5" x2="386.5" y2="41.6" stroke="#666" stroke-width="1.2"/>
<line x1="350.0" y1="57.5" x2="350.0" y2="41.4" stroke="#c8c8c8" stroke-width="1.2"/>
<line x1="405.3" y1="57.5" x2="405.3" y2="41.6" stroke="#666" stroke-width="0.8"/>
<line x1="401.9" y1="57.5" x2="401.9" y2="40.6" stroke="#666" stroke-width="0.6"/>
<line x1="373.0" y1="57.5" x2="373.0" y2="40.7" stroke="#555" stroke-width="1.5"/>
<line x1="382.6" y1="57.5" x2="382.6" y2="40.8" stroke="#9d9d9d" stroke-width="0.6"/>
<line x1="407.0" y1="57.5" x2="407.0" y2="41.5" stroke="#555" stroke-width="1.0"/>
<line x1="335.4" y1="57.5" x2="335.4" y2="40.7" stroke="#9d9d9d" stroke-width="0.8"/>
<line x1="416.6" y1="57.5" x2="416.6" y2="41.3" stroke="#666" stroke-width="0.6"/>
<line x1="344.5" y1="57.5" x2="344.5" y2="40.7" stroke="#111" stroke-width="1.0"/>
<line x1="344.4" y1="57.5" x2="344.4" y2="40.6" stroke="#777" stroke-width="0.8"/>
<line x1="371.2" y1="57.5" x2="371.2" y2="40.6" stroke="#8a8a8a" stroke-width="1.0"/>
<line x1="386.4" y1="57.5" x2="386.4" y2="41.4" stroke="#d5d5d5" stroke-width="1.0"/>
<line x1="415.3" y1="57.5" x2="415.3" y2="41.2" stroke="#111" stroke-width="0.8"/>
<line x1="399.2" y1="57.5" x2="399.2" y2="40.5" stroke="#111" stroke-width="1.5"/>
<line x1="382.4" y1="57.5" x2="382.4" y2="41.0" stroke="#c8c8c8" stroke-width="0.6"/>
<line x1="393.8" y1="57.5" x2="393.8" y2="41.7" stroke="#111" stroke-width="1.0"/>
<line x1="337.0" y1="57.5" x2="337.0" y2="40.6" stroke="#2a2a2a" stroke-width="1.2"/>
<line x1="414.5" y1="57.5" x2="414.5" y2="41.0" stroke="#b5b5b5" stroke-width="0.8"/>
<line x1="350.6" y1="57.5" x2="350.6" y2="40.7" stroke="#b5b5b5" stroke-width="1.5"/>
<line x1="374.3" y1="57.5" x2="374.3" y2="41.1" stroke="#2a2a2a" stroke-width="1.2"/>
<line x1="413.3" y1="57.5" x2="413.3" y2="40.9" stroke="#2a2a2a" stroke-width="0.8"/>
<line x1="404.4" y1="57.5" x2="404.4" y2="41.4" stroke="#555" stroke-width="1.0"/>
<line x1="391.7" y1="57.5" x2="391.7" y2="40.8" stroke="#111" stroke-width="0.6"/>
<line x1="414.1" y1="57.5" x2="414.1" y2="41.1" stroke="#555" stroke-width="1.2"/>
<line x1="399.0" y1="57.5" x2="399.0" y2="40.8" stroke="#777" stroke-width="1.0"/>
<line x1="390.3" y1="57.5" x2="390.3" y2="41.0" stroke="#d5d5d5" stroke-width="1.0"/>
<line x1="378.4" y1="57.5" x2="378.4" y2="41.7" stroke="#8a8a8a" stroke-width="1.0"/>
<line x1="365.6" y1="57.5" x2="365.6" y2="41.1" stroke="#777" stroke-width="1.2"/>
<line x1="414.7" y1="57.5" x2="414.7" y2="41.4" stroke="#8a8a8a" stroke-width="1.2"/>
<line x1="400.2" y1="57.5" x2="400.2" y2="40.5" stroke="#d5d5d5" stroke-width="1.5"/>
<line x1="374.3" y1="57.5" x2="374.3" y2="41.3" stroke="#666" stroke-width="1.2"/>
<line x1="416.2" y1="57.5" x2="416.2" y2="41.3" stroke="#555" stroke-width="0.6"/>
<line x1="403.6" y1="57.5" x2="403.6" y2="41.6" stroke="#111" stroke-width="0.6"/>
<line x1="366.2" y1="57.5" x2="366.2" y2="40.9" stroke="#b5b5b5" stroke-width="1.2"/>
<line x1="378.4" y1="57.5" x2="378.4" y2="41.0" stroke="#777" stroke-width="1.5"/>
<line x1="331.6" y1="57.5" x2="331.6" y2="41.5" stroke="#d5d5d5" stroke-width="1.5"/>
<line x1="360.8" y1="57.5" x2="360.8" y2="41.7" stroke="#b5b5b5" stroke-width="0.8"/>
<line x1="402.0" y1="57.5" x2="402.0" y2="40.9" stroke="#8a8a8a" stroke-width="0.6"/>
<line x1="365.1" y1="57.5" x2="365.1" y2="40.8" stroke="#b5b5b5" stroke-width="1.0"/>
<line x1="337.7" y1="57.5" x2="337.7" y2="41.3" stroke="#b5b5b5" stroke-width="1.5"/>
<line x1="396.9" y1="57.5" x2="396.9" y2="41.6" stroke="#666" stroke-width="1.2"/>
<line x1="404.8" y1="57.5" x2="404.8" y2="41.1" stroke="#777" stroke-width="1.2"/>
<line x1="380.3" y1="57.5" x2="380.3" y2="40.6" stroke="#444" stroke-width="1.5"/>
<line x1="362.6" y1="57.5" x2="362.6" y2="41.1" stroke="#555" stroke-width="1.0"/>
<line x1="351.9" y1="57.5" x2="351.9" y2="40.7" stroke="#444" stroke-width="1.2"/>
<line x1="346.7" y1="57.5" x2="346.7" y2="41.5" stroke="#d5d5d5" stroke-width="0.6"/>
<line x1="359.0" y1="57.5" x2="359.0" y2="41.5" stroke="#777" stroke-width="1.2"/>
<line x1="342.0" y1="57.5" x2="342.0" y2="41.3" stroke="#444" stroke-width="1.2"/>
<line x1="340.3" y1="57.5" x2="340.3" y2="41.3" stroke="#777" stroke-width="1.5"/>
<line x1="376.1" y1="57.5" x2="376.1" y2="41.3" stroke="#9d9d9d" stroke-width="1.0"/>
<line x1="365.3" y1="57.5" x2="365.3" y2="41.3" stroke="#9d9d9d" stroke-width="1.2"/>
<line x1="385.8" y1="57.5" x2="385.8" y2="41.4" stroke="#444" stroke-width="0.8"/>
<line x1="332.0" y1="57.5" x2="332.0" y2="40.9" stroke="#444" stroke-width="1.5"/>
<line x1="388.0" y1="57.5" x2="388.0" y2="40.9" stroke="#c8c8c8" stroke-width="1.0"/>
<line x1="400.0" y1="57.5" x2="400.0" y2="40.5" stroke="#666" stroke-width="0.8"/>
<line x1="331.6" y1="57.5" x2="331.6" y2="40.6" stroke="#666" stroke-width="0.8"/>
<line x1="357.7" y1="57.5" x2="357.7" y2="40.8" stroke="#b5b5b5" stroke-width="1.0"/>
<line x1="353.4" y1="57.5" x2="353.4" y2="41.5" stroke="#666" stroke-width="0.6"/>
<line x1="376.4" y1="57.5" x2="376.4" y2="41.5" stroke="#9d9d9d" stroke-width="0.8"/>
<line x1="342.5" y1="57.5" x2="342.5" y2="41.2" stroke="#666" stroke-width="1.0"/>
<line x1="410.2" y1="57.5" x2="410.2" y2="41.0" stroke="#9d9d9d" stroke-width="0.6"/>
<line x1="392.4" y1="57.5" x2="392.4" y2="41.7" stroke="#666" stroke-width="1.2"/>
<line x1="386.9" y1="57.5" x2="386.9" y2="40.9" stroke="#666" stroke-width="1.2"/>
<line x1="404.1" y1="57.5" x2="404.1" y2="41.6" stroke="#444" stroke-width="0.8"/>
<line x1="415.1" y1="57.5" x2="415.1" y2="40.9" stroke="#c8c8c8" stroke-width="0.8"/>
<line x1="359.7" y1="57.5" x2="359.7" y2="40.6" stroke="#2a2a2a" stroke-width="1.2"/>
<line x1="363.9" y1="57.5" x2="363.9" y2="41.0" stroke="#b5b5b5" stroke-width="0.6"/>
<line x1="340.7" y1="57.5" x2="340.7" y2="41.1" stroke="#c8c8c8" stroke-width="1.2"/>
<line x1="391.4" y1="57.5" x2="391.4" y2="41.0" stroke="#8a8a8a" stroke-width="1.2"/>
<line x1="346.6" y1="57.5" x2="346.6" y2="41.0" stroke="#2a2a2a" stroke-width="1.2"/>
<line x1="343.1" y1="57.5" x2="343.1" y2="41.3" stroke="#111" stroke-width="0.8"/>
<line x1="365.8" y1="57.5" x2="365.8" y2="41.6" stroke="#111" stroke-width="1.0"/>
<line x1="378.9" y1="57.5" x2="378.9" y2="41.4" stroke="#8a8a8a" stroke-width="0.6"/>
<line x1="339.2" y1="57.5" x2="339.2" y2="41.2" stroke="#2a2a2a" stroke-width="0.6"/>
<line x1="340.2" y1="57.5" x2="340.2" y2="41.5" stroke="#2a2a2a" stroke-width="0.8"/>
<line x1="379.8" y1="57.5" x2="379.8" y2="41.5" stroke="#111" stroke-width="0.8"/>
<line x1="392.3" y1="57.5" x2="392.3" y2="41.5" stroke="#9d9d9d" stroke-width="1.5"/>
<line x1="390.6" y1="57.5" x2="390.6" y2="41.5" stroke="#8a8a8a" stroke-width="0.8"/>
<line x1="416.8" y1="57.5" x2="416.8" y2="41.5" stroke="#111" stroke-width="0.8"/>
<line x1="358.9" y1="57.5" x2="358.9" y2="41.1" stroke="#555" stroke-width="0.6"/>
<line x1="347.4" y1="57.5" x2="347.4" y2="40.8" stroke="#b5b5b5" stroke-width="1.0"/>
<line x1="338.9" y1="57.5" x2="338.9" y2="40.8" stroke="#8a8a8a" stroke-width="1.0"/>
<line x1="379.0" y1="57.5" x2="379.0" y2="41.6" stroke="#b5b5b5" stroke-width="0.6"/>
<line x1="357.7" y1="57.5" x2="357.7" y2="41.5" stroke="#555" stroke-width="1.2"/>
<line x1="331.5" y1="57.5" x2="417" y2="57.5" stroke="#111" stroke-width="1.3"/>
<line x1="417" y1="60.5" x2="435" y2="60.5" stroke="#111" stroke-width="1.4"/>
<line x1="417" y1="57.5" x2="417" y2="60.5" stroke="#222" stroke-width="1"/>
<line x1="435" y1="57.5" x2="435" y2="60.5" stroke="#222" stroke-width="1"/>
<line x1="445.3" y1="57.5" x2="445.3" y2="40.9" stroke="#666" stroke-width="0.8"/>
<line x1="435.6" y1="57.5" x2="435.6" y2="41.3" stroke="#b5b5b5" stroke-width="1.2"/>
<line x1="442.9" y1="57.5" x2="442.9" y2="40.7" stroke="#c8c8c8" stroke-width="1.0"/>
<line x1="437.4" y1="57.5" x2="437.4" y2="41.3" stroke="#b5b5b5" stroke-width="1.0"/>
<line x1="435.1" y1="57.5" x2="435.1" y2="41.0" stroke="#2a2a2a" stroke-width="1.5"/>
<line x1="444.9" y1="57.5" x2="444.9" y2="40.8" stroke="#111" stroke-width="1.2"/>
<line x1="438.5" y1="57.5" x2="438.5" y2="41.5" stroke="#555" stroke-width="1.5"/>
<line x1="442.3" y1="57.5" x2="442.3" y2="41.6" stroke="#8a8a8a" stroke-width="1.2"/>
<line x1="437.4" y1="57.5" x2="437.4" y2="40.6" stroke="#555" stroke-width="1.2"/>
<line x1="445.3" y1="57.5" x2="445.3" y2="40.6" stroke="#2a2a2a" stroke-width="0.6"/>
<line x1="444.8" y1="57.5" x2="444.8" y2="40.7" stroke="#9d9d9d" stroke-width="1.5"/>
<line x1="443.8" y1="57.5" x2="443.8" y2="41.1" stroke="#444" stroke-width="1.0"/>
<line x1="444.6" y1="57.5" x2="444.6" y2="41.5" stroke="#b5b5b5" stroke-width="0.8"/>
<line x1="435" y1="57.5" x2="447" y2="57.5" stroke="#111" stroke-width="1.3"/>
<line x1="480.8" y1="57.5" x2="480.8" y2="43.2" stroke="#555" stroke-width="1.2"/>
<line x1="451.1" y1="57.5" x2="451.1" y2="43.7" stroke="#2a2a2a" stroke-width="1.2"/>
<line x1="456.7" y1="57.5" x2="456.7" y2="43.4" stroke="#666" stroke-width="1.2"/>
<line x1="476.8" y1="57.5" x2="476.8" y2="43.6" stroke="#444" stroke-width="0.8"/>
<line x1="448.8" y1="57.5" x2="448.8" y2="43.0" stroke="#9d9d9d" stroke-width="0.8"/>
<line x1="485.1" y1="57.5" x2="485.1" y2="43.4" stroke="#777" stroke-width="0.8"/>
<line x1="460.5" y1="57.5" x2="460.5" y2="43.0" stroke="#666" stroke-width="0.8"/>
<line x1="453.6" y1="57.5" x2="453.6" y2="43.8" stroke="#d5d5d5" stroke-width="1.2"/>
<line x1="489.4" y1="57.5" x2="489.4" y2="43.1" stroke="#777" stroke-width="1.0"/>
<line x1="456.7" y1="57.5" x2="456.7" y2="43.4" stroke="#b5b5b5" stroke-width="0.8"/>
<line x1="467.2" y1="57.5" x2="467.2" y2="43.1" stroke="#444" stroke-width="1.2"/>
<line x1="452.0" y1="57.5" x2="452.0" y2="42.7" stroke="#777" stroke-width="0.8"/>
<line x1="490.3" y1="57.5" x2="490.3" y2="43.2" stroke="#b5b5b5" stroke-width="1.0"/>
<line x1="468.3" y1="57.5" x2="468.3" y2="43.5" stroke="#111" stroke-width="1.2"/>
<line x1="485.7" y1="57.5" x2="485.7" y2="42.8" stroke="#2a2a2a" stroke-width="1.0"/>
<line x1="484.6" y1="57.5" x2="484.6" y2="43.3" stroke="#c8c8c8" stroke-width="0.6"/>
<line x1="455.8" y1="57.5" x2="455.8" y2="42.9" stroke="#9d9d9d" stroke-width="0.8"/>
<line x1="472.2" y1="57.5" x2="472.2" y2="42.6" stroke="#666" stroke-width="1.5"/>
<line x1="451.4" y1="57.5" x2="451.4" y2="43.0" stroke="#111" stroke-width="0.8"/>
<line x1="475.6" y1="57.5" x2="475.6" y2="42.8" stroke="#111" stroke-width="1.0"/>
<line x1="466.6" y1="57.5" x2="466.6" y2="43.0" stroke="#555" stroke-width="1.0"/>
<line x1="454.8" y1="57.5" x2="454.8" y2="43.6" stroke="#666" stroke-width="1.5"/>
<line x1="466.8" y1="57.5" x2="466.8" y2="42.7" stroke="#b5b5b5" stroke-width="0.8"/>
<line x1="472.9" y1="57.5" x2="472.9" y2="42.6" stroke="#9d9d9d" stroke-width="0.6"/>
<line x1="469.3" y1="57.5" x2="469.3" y2="43.1" stroke="#2a2a2a" stroke-width="0.8"/>
<line x1="465.1" y1="57.5" x2="465.1" y2="42.7" stroke="#777" stroke-width="0.8"/>
<line x1="462.6" y1="57.5" x2="462.6" y2="43.7" stroke="#d5d5d5" stroke-width="1.0"/>
<line x1="447.2" y1="57.5" x2="447.2" y2="43.6" stroke="#d5d5d5" stroke-width="1.2"/>
<line x1="460.2" y1="57.5" x2="460.2" y2="42.7" stroke="#666" stroke-width="0.8"/>
<line x1="452.1" y1="57.5" x2="452.1" y2="42.9" stroke="#9d9d9d" stroke-width="1.5"/>
<line x1="452.1" y1="57.5" x2="452.1" y2="42.9" stroke="#9d9d9d" stroke-width="1.5"/>
<line x1="470.3" y1="57.5" x2="470.3" y2="42.9" stroke="#b5b5b5" stroke-width="0.8"/>
<line x1="459.3" y1="57.5" x2="459.3" y2="42.8" stroke="#b5b5b5" stroke-width="0.8"/>
<line x1="486.5" y1="57.5" x2="486.5" y2="43.2" stroke="#b5b5b5" stroke-width="0.6"/>
<line x1="447.7" y1="57.5" x2="447.7" y2="43.2" stroke="#111" stroke-width="1.5"/>
<line x1="456.2" y1="57.5" x2="456.2" y2="42.7" stroke="#555" stroke-width="0.8"/>
<line x1="453.7" y1="57.5" x2="453.7" y2="43.8" stroke="#666" stroke-width="1.2"/>
<line x1="464.1" y1="57.5" x2="464.1" y2="42.7" stroke="#b5b5b5" stroke-width="1.5"/>
<line x1="485.7" y1="57.5" x2="485.7" y2="43.4" stroke="#2a2a2a" stroke-width="0.8"/>
<line x1="457.2" y1="57.5" x2="457.2" y2="43.5" stroke="#c8c8c8" stroke-width="1.5"/>
<line x1="477.9" y1="57.5" x2="477.9" y2="43.6" stroke="#111" stroke-width="0.6"/>
<line x1="473.1" y1="57.5" x2="473.1" y2="42.6" stroke="#2a2a2a" stroke-width="1.5"/>
<line x1="480.6" y1="57.5" x2="480.6" y2="43.6" stroke="#444" stroke-width="1.0"/>
<line x1="450.7" y1="57.5" x2="450.7" y2="43.3" stroke="#9d9d9d" stroke-width="0.8"/>
<line x1="447.5" y1="57.5" x2="447.5" y2="43.5" stroke="#8a8a8a" stroke-width="0.6"/>
<line x1="450.8" y1="57.5" x2="450.8" y2="42.8" stroke="#555" stroke-width="1.5"/>
<line x1="476.5" y1="57.5" x2="476.5" y2="43.6" stroke="#444" stroke-width="0.8"/>
<line x1="455.9" y1="57.5" x2="455.9" y2="43.4" stroke="#555" stroke-width="0.6"/>
<line x1="490.4" y1="57.5" x2="490.4" y2="42.6" stroke="#9d9d9d" stroke-width="1.5"/>
<line x1="480.9" y1="57.5" x2="480.9" y2="43.5" stroke="#2a2a2a" stroke-width="0.6"/>
<line x1="447" y1="57.5" x2="490.5" y2="57.5" stroke="#111" stroke-width="1.3"/>
<line x1="332.7" y1="88.1" x2="332.7" y2="70.6" stroke="#d5d5d5" stroke-width="1.0"/>
<line x1="336.2" y1="88.1" x2="336.2" y2="71.3" stroke="#2a2a2a" stroke-width="1.0"/>
<line x1="335.0" y1="88.1" x2="335.0" y2="71.3" stroke="#9d9d9d" stroke-width="1.2"/>
<line x1="332.3" y1="88.1" x2="332.3" y2="71.6" stroke="#666" stroke-width="1.2"/>
<line x1="336.5" y1="88.1" x2="336.5" y2="71.2" stroke="#d5d5d5" stroke-width="1.2"/>
<line x1="333.8" y1="88.1" x2="333.8" y2="71.4" stroke="#d5d5d5" stroke-width="1.5"/>
<line x1="333.3" y1="88.1" x2="333.3" y2="71.1" stroke="#c8c8c8" stroke-width="0.6"/>
<line x1="331.5" y1="88.1" x2="337.5" y2="88.1" stroke="#111" stroke-width="1.3"/>
<line x1="337.5" y1="92.4" x2="357" y2="92.4" stroke="#111" stroke-width="1.6"/>
<line x1="337.5" y1="88.1" x2="337.5" y2="92.4" stroke="#222" stroke-width="1"/>
<line x1="357" y1="87.2" x2="357" y2="92.4" stroke="#222" stroke-width="1"/>
<line x1="348" y1="92.4" x2="348" y2="71.7" stroke="#aaa" stroke-width="0.9"/>
<line x1="351" y1="92.4" x2="351" y2="71.7" stroke="#aaa" stroke-width="0.9"/>
<line x1="354" y1="92.4" x2="354" y2="71.7" stroke="#aaa" stroke-width="0.9"/>
<line x1="358.8" y1="87.2" x2="358.8" y2="70.5" stroke="#666" stroke-width="0.8"/>
<line x1="363.4" y1="87.2" x2="363.4" y2="70.1" stroke="#c8c8c8" stroke-width="0.8"/>
<line x1="380.3" y1="87.2" x2="380.3" y2="70.7" stroke="#c8c8c8" stroke-width="0.6"/>
<line x1="367.4" y1="87.2" x2="367.4" y2="70.6" stroke="#8a8a8a" stroke-width="1.0"/>
<line x1="379.0" y1="87.2" x2="379.0" y2="70.7" stroke="#8a8a8a" stroke-width="0.8"/>
<line x1="374.4" y1="87.2" x2="374.4" y2="70.4" stroke="#777" stroke-width="1.2"/>
<line x1="378.1" y1="87.2" x2="378.1" y2="70.0" stroke="#111" stroke-width="1.5"/>
<line x1="357.4" y1="87.2" x2="357.4" y2="70.7" stroke="#2a2a2a" stroke-width="1.2"/>
<line x1="368.1" y1="87.2" x2="368.1" y2="70.0" stroke="#c8c8c8" stroke-width="0.8"/>
<line x1="365.9" y1="87.2" x2="365.9" y2="69.7" stroke="#555" stroke-width="1.2"/>
<line x1="379.5" y1="87.2" x2="379.5" y2="69.6" stroke="#c8c8c8" stroke-width="1.0"/>
<line x1="359.3" y1="87.2" x2="359.3" y2="69.8" stroke="#666" stroke-width="1.2"/>
<line x1="367.8" y1="87.2" x2="367.8" y2="70.6" stroke="#b5b5b5" stroke-width="0.6"/>
<line x1="362.8" y1="87.2" x2="362.8" y2="69.6" stroke="#d5d5d5" stroke-width="0.8"/>
<line x1="367.4" y1="87.2" x2="367.4" y2="70.7" stroke="#777" stroke-width="1.0"/>
<line x1="357" y1="87.2" x2="383.6" y2="87.2" stroke="#111" stroke-width="1.3"/>
<line x1="387.0" y1="88.5" x2="387.0" y2="71.1" stroke="#777" stroke-width="1.5"/>
<line x1="401.3" y1="88.5" x2="401.3" y2="70.4" stroke="#8a8a8a" stroke-width="1.0"/>
<line x1="402.8" y1="88.5" x2="402.8" y2="70.9" stroke="#b5b5b5" stroke-width="1.5"/>
<line x1="387.4" y1="88.5" x2="387.4" y2="70.5" stroke="#444" stroke-width="0.6"/>
<line x1="383.6" y1="88.5" x2="383.6" y2="70.1" stroke="#444" stroke-width="0.8"/>
<line x1="392.7" y1="88.5" x2="392.7" y2="70.3" stroke="#d5d5d5" stroke-width="1.0"/>
<line x1="397.2" y1="88.5" x2="397.2" y2="70.9" stroke="#b5b5b5" stroke-width="1.5"/>
<line x1="397.0" y1="88.5" x2="397.0" y2="71.1" stroke="#444" stroke-width="1.0"/>
<line x1="397.0" y1="88.5" x2="397.0" y2="70.6" stroke="#2a2a2a" stroke-width="1.0"/>
<line x1="392.5" y1="88.5" x2="392.5" y2="70.4" stroke="#666" stroke-width="1.2"/>
<line x1="402.5" y1="88.5" x2="402.5" y2="70.1" stroke="#d5d5d5" stroke-width="1.2"/>
<line x1="383.6" y1="88.5" x2="403.7" y2="88.5" stroke="#111" stroke-width="1.3"/>
<line x1="383.6" y1="87.2" x2="383.6" y2="88.5" stroke="#222" stroke-width="1"/>
<line x1="428.9" y1="90.3" x2="428.9" y2="70.1" stroke="#111" stroke-width="0.6"/>
<line x1="432.1" y1="90.3" x2="432.1" y2="70.4" stroke="#9d9d9d" stroke-width="1.5"/>
<line x1="449.1" y1="90.3" x2="449.1" y2="70.9" stroke="#c8c8c8" stroke-width="0.6"/>
<line x1="452.1" y1="90.3" x2="452.1" y2="70.2" stroke="#9d9d9d" stroke-width="1.0"/>
<line x1="411.1" y1="90.3" x2="411.1" y2="71.1" stroke="#c8c8c8" stroke-width="1.5"/>
<line x1="406.1" y1="90.3" x2="406.1" y2="70.2" stroke="#8a8a8a" stroke-width="1.5"/>
<line x1="436.4" y1="90.3" x2="436.4" y2="70.8" stroke="#666" stroke-width="0.8"/>
<line x1="418.5" y1="90.3" x2="418.5" y2="70.0" stroke="#b5b5b5" stroke-width="1.5"/>
<line x1="453.6" y1="90.3" x2="453.6" y2="70.1" stroke="#d5d5d5" stroke-width="1.2"/>
<line x1="428.8" y1="90.3" x2="428.8" y2="70.8" stroke="#777" stroke-width="1.0"/>
<line x1="420.2" y1="90.3" x2="420.2" y2="70.6" stroke="#c8c8c8" stroke-width="0.6"/>
<line x1="444.2" y1="90.3" x2="444.2" y2="71.1" stroke="#777" stroke-width="0.8"/>
<line x1="430.0" y1="90.3" x2="430.0" y2="70.2" stroke="#111" stroke-width="1.5"/>
<line x1="412.4" y1="90.3" x2="412.4" y2="71.1" stroke="#666" stroke-width="1.5"/>
<line x1="418.9" y1="90.3" x2="418.9" y2="70.9" stroke="#8a8a8a" stroke-width="1.0"/>
<line x1="452.8" y1="90.3" x2="452.8" y2="70.3" stroke="#444" stroke-width="1.2"/>
<line x1="413.8" y1="90.3" x2="413.8" y2="71.1" stroke="#777" stroke-width="1.2"/>
<line x1="409.2" y1="90.3" x2="409.2" y2="70.4" stroke="#666" stroke-width="1.0"/>
<line x1="423.4" y1="90.3" x2="423.4" y2="70.3" stroke="#9d9d9d" stroke-width="0.8"/>
<line x1="450.9" y1="90.3" x2="450.9" y2="70.5" stroke="#c8c8c8" stroke-width="1.2"/>
<line x1="436.2" y1="90.3" x2="436.2" y2="70.1" stroke="#777" stroke-width="1.0"/>
<line x1="403.7" y1="90.3" x2="454.7" y2="90.3" stroke="#111" stroke-width="1.3"/>
<line x1="403.7" y1="88.5" x2="403.7" y2="90.3" stroke="#222" stroke-width="1"/>
<line x1="481.8" y1="87.2" x2="481.8" y2="70.8" stroke="#9d9d9d" stroke-width="1.2"/>
<line x1="481.6" y1="87.2" x2="481.6" y2="70.5" stroke="#666" stroke-width="1.2"/>
<line x1="473.7" y1="87.2" x2="473.7" y2="71.0" stroke="#666" stroke-width="0.6"/>
<line x1="464.0" y1="87.2" x2="464.0" y2="70.0" stroke="#111" stroke-width="1.5"/>
<line x1="465.6" y1="87.2" x2="465.6" y2="71.1" stroke="#c8c8c8" stroke-width="1.0"/>
<line x1="489.8" y1="87.2" x2="489.8" y2="71.1" stroke="#2a2a2a" stroke-width="0.6"/>
<line x1="481.7" y1="87.2" x2="481.7" y2="71.0" stroke="#d5d5d5" stroke-width="0.6"/>
<line x1="488.0" y1="87.2" x2="488.0" y2="70.8" stroke="#444" stroke-width="0.6"/>
<line x1="482.4" y1="87.2" x2="482.4" y2="71.0" stroke="#8a8a8a" stroke-width="1.0"/>
<line x1="469.0" y1="87.2" x2="469.0" y2="71.0" stroke="#9d9d9d" stroke-width="1.0"/>
<line x1="485.7" y1="87.2" x2="485.7" y2="70.6" stroke="#444" stroke-width="1.5"/>
<line x1="469.5" y1="87.2" x2="469.5" y2="70.2" stroke="#666" stroke-width="1.0"/>
<line x1="479.1" y1="87.2" x2="479.1" y2="70.1" stroke="#8a8a8a" stroke-width="0.6"/>
<line x1="485.2" y1="87.2" x2="485.2" y2="70.3" stroke="#d5d5d5" stroke-width="1.2"/>
<line x1="469.2" y1="87.2" x2="469.2" y2="70.9" stroke="#c8c8c8" stroke-width="0.8"/>
<line x1="460.1" y1="87.2" x2="460.1" y2="71.0" stroke="#d5d5d5" stroke-width="0.8"/>
<line x1="472.6" y1="87.2" x2="472.6" y2="71.1" stroke="#666" stroke-width="1.2"/>
<line x1="486.2" y1="87.2" x2="486.2" y2="70.8" stroke="#444" stroke-width="1.2"/>
<line x1="476.6" y1="87.2" x2="476.6" y2="70.9" stroke="#666" stroke-width="1.5"/>
<line x1="476.4" y1="87.2" x2="476.4" y2="70.3" stroke="#b5b5b5" stroke-width="0.8"/>
<line x1="487.1" y1="87.2" x2="487.1" y2="70.1" stroke="#666" stroke-width="1.5"/>
<line x1="454.7" y1="87.2" x2="490.5" y2="87.2" stroke="#111" stroke-width="1.3"/>
<line x1="454.7" y1="87.2" x2="454.7" y2="90.3" stroke="#222" stroke-width="1"/>
<line x1="331.5" y1="113.5" x2="373" y2="113.5" stroke="#111" stroke-width="1.5"/>
<line x1="332.6" y1="113.5" x2="332.6" y2="98.0" stroke="#222" stroke-width="1"/>
<line x1="338.8" y1="113.5" x2="338.8" y2="97.0" stroke="#888" stroke-width="1"/>
<line x1="351.2" y1="113.5" x2="351.2" y2="97.3" stroke="#222" stroke-width="1"/>
<line x1="358.9" y1="113.5" x2="358.9" y2="97.8" stroke="#555" stroke-width="1"/>
<line x1="366.6" y1="113.5" x2="366.6" y2="96.8" stroke="#555" stroke-width="1"/>
<line x1="373" y1="113.5" x2="373" y2="116.5" stroke="#222" stroke-width="1"/>
<line x1="373" y1="116.5" x2="404" y2="116.5" stroke="#111" stroke-width="1.5"/>
<line x1="385.2" y1="116.5" x2="385.2" y2="98" stroke="#444" stroke-width="1"/>
<line x1="403.7" y1="116.5" x2="403.7" y2="98" stroke="#444" stroke-width="1"/>
<path d="M393.8,116.5 L393.8,101.5 M395.6,116.5 L395.6,101.5" stroke="#222" stroke-width="0.9"/><rect x="393.4" y="100.2" width="2.6" height="2.2" fill="#111"/>
<line x1="404" y1="114" x2="404" y2="116.5" stroke="#222" stroke-width="1"/>
<line x1="404" y1="114" x2="433" y2="114" stroke="#111" stroke-width="1.5"/>
<line x1="405.3" y1="114" x2="405.3" y2="98.5" stroke="#666" stroke-width="1"/>
<path d="M414.5,114 L414.5,101.8 Q416.8,99.2 419.2,101.8 L419.2,114" fill="none" stroke="#111" stroke-width="1.3"/>
<line x1="433" y1="114" x2="433" y2="119" stroke="#222" stroke-width="1"/>
<line x1="433" y1="119" x2="479" y2="119" stroke="#111" stroke-width="1.5"/>
<line x1="479" y1="114" x2="479" y2="119" stroke="#222" stroke-width="1"/>
<line x1="479" y1="114" x2="490.5" y2="114" stroke="#111" stroke-width="1.5"/>
<line x1="479.5" y1="114" x2="479.5" y2="99" stroke="#666" stroke-width="0.9"/>
<line x1="482.6" y1="114" x2="482.6" y2="99" stroke="#666" stroke-width="0.9"/>
<line x1="331.5" y1="148.4" x2="357" y2="148.4" stroke="#111" stroke-width="2.0"/>
<line x1="357" y1="144.7" x2="357" y2="148.4" stroke="#222" stroke-width="1"/>
<line x1="358.9" y1="144.7" x2="358.9" y2="128.5" stroke="#bbb" stroke-width="1.0"/>
<line x1="359.8" y1="144.7" x2="359.8" y2="127.9" stroke="#555" stroke-width="1.0"/>
<line x1="362.6" y1="144.7" x2="362.6" y2="128.0" stroke="#999" stroke-width="0.8"/>
<line x1="367.6" y1="144.7" x2="367.6" y2="128.0" stroke="#111" stroke-width="1.0"/>
<line x1="369.7" y1="144.7" x2="369.7" y2="127.9" stroke="#111" stroke-width="1.0"/>
<line x1="373.7" y1="144.7" x2="373.7" y2="128.9" stroke="#bbb" stroke-width="1.0"/>
<line x1="375.0" y1="144.7" x2="375.0" y2="128.1" stroke="#999" stroke-width="0.8"/>
<line x1="377.5" y1="144.7" x2="377.5" y2="128.5" stroke="#999" stroke-width="0.8"/>
<line x1="379.9" y1="144.7" x2="379.9" y2="128.6" stroke="#555" stroke-width="1.3"/>
<line x1="385.2" y1="144.7" x2="385.2" y2="128.4" stroke="#999" stroke-width="0.8"/>
<line x1="389.2" y1="144.7" x2="389.2" y2="126.9" stroke="#333" stroke-width="1.3"/>
<line x1="403.7" y1="144.7" x2="403.7" y2="127.7" stroke="#555" stroke-width="0.8"/>
<line x1="405.9" y1="144.7" x2="405.9" y2="127.4" stroke="#bbb" stroke-width="0.8"/>
<line x1="407.8" y1="144.7" x2="407.8" y2="127.0" stroke="#999" stroke-width="1.0"/>
<line x1="416.1" y1="144.7" x2="416.1" y2="128.9" stroke="#999" stroke-width="1.0"/>
<line x1="417.6" y1="144.7" x2="417.6" y2="128.3" stroke="#333" stroke-width="0.8"/>
<line x1="419.5" y1="144.7" x2="419.5" y2="128.9" stroke="#555" stroke-width="1.0"/>
<line x1="423.8" y1="144.7" x2="423.8" y2="129.0" stroke="#bbb" stroke-width="0.8"/>
<line x1="426.9" y1="144.7" x2="426.9" y2="127.9" stroke="#bbb" stroke-width="0.8"/>
<line x1="431.6" y1="144.7" x2="431.6" y2="127.8" stroke="#777" stroke-width="1.3"/>
<line x1="433.1" y1="144.7" x2="433.1" y2="128.2" stroke="#bbb" stroke-width="0.8"/>
<line x1="434.6" y1="144.7" x2="434.6" y2="128.2" stroke="#555" stroke-width="0.8"/>
<line x1="436.2" y1="144.7" x2="436.2" y2="127.2" stroke="#777" stroke-width="0.8"/>
<line x1="438.7" y1="144.7" x2="438.7" y2="128.4" stroke="#111" stroke-width="1.3"/>
<line x1="445.5" y1="144.7" x2="445.5" y2="127.8" stroke="#111" stroke-width="0.8"/>
<line x1="454.7" y1="144.7" x2="454.7" y2="128.4" stroke="#bbb" stroke-width="1.0"/>
<line x1="459.4" y1="144.7" x2="459.4" y2="128.0" stroke="#333" stroke-width="1.3"/>
<line x1="464.0" y1="144.7" x2="464.0" y2="128.4" stroke="#555" stroke-width="0.8"/>
<line x1="357" y1="144.7" x2="474" y2="144.7" stroke="#111" stroke-width="1.6"/>
<line x1="475.8" y1="142.3" x2="475.8" y2="127.5" stroke="#555" stroke-width="0.9"/>
<line x1="479.5" y1="142.3" x2="479.5" y2="127.5" stroke="#555" stroke-width="0.9"/>
<line x1="484.1" y1="142.3" x2="484.1" y2="127.5" stroke="#555" stroke-width="0.9"/>
<line x1="474" y1="142.3" x2="490.5" y2="142.3" stroke="#111" stroke-width="1.6"/>
<line x1="474" y1="142.3" x2="474" y2="144.7" stroke="#222" stroke-width="1"/>
<path d="M331.0,174.34 L331.8,174.18 L332.6,174.18 L333.4,173.65 L334.2,173.76 L335.0,173.61 L335.8,174.29 L336.6,174.18 L337.4,174.10 L338.2,173.81 L339.0,173.88 L339.8,173.73 L340.6,174.11 L341.4,174.39 L342.2,173.84 L343.0,173.64 L343.8,173.74 L344.6,173.88 L345.4,174.32 L346.2,174.24 L347.0,173.96 L347.8,173.68" fill="none" stroke="#e8506e" stroke-width="2.8" stroke-linejoin="round"/>
<path d="M348.3,166.91 L349.1,166.95 L349.9,167.58 L350.7,167.27 L351.5,167.79 L352.3,167.71 L353.1,167.59 L353.9,167.28 L354.7,167.62 L355.5,166.93 L356.3,166.91 L357.1,167.36 L357.9,167.31 L358.7,167.01 L359.5,167.05 L360.3,166.82 L361.1,167.71 L361.9,167.51 L362.7,167.75 L363.5,167.78 L364.3,167.24 L365.1,167.53 L365.9,167.18 L366.7,167.61 L367.5,167.64 L368.3,166.93 L369.1,166.81 L369.9,167.01 L370.7,167.39 L371.5,167.18 L372.3,166.81 L373.1,167.63 L373.9,167.59 L374.7,167.26 L375.5,166.84 L376.3,167.69 L377.1,167.33 L377.9,166.87 L378.7,167.12 L379.5,167.42 L380.3,167.69 L381.1,167.28 L381.9,167.44 L382.7,167.01 L383.5,167.04 L384.3,167.71 L385.1,167.18 L385.9,166.90 L386.7,167.39 L387.5,166.93 L388.3,167.00 L389.1,167.26 L389.9,167.39 L390.7,167.44 L391.5,167.51 L392.3,167.24 L393.1,166.87 L393.9,167.52 L394.7,166.85 L395.5,167.27 L396.3,167.20 L397.1,167.47 L397.9,167.51 L398.7,167.04 L399.5,167.45 L400.3,167.49 L401.1,167.27 L401.9,166.94 L402.7,167.71 L403.5,167.40 L404.3,166.86 L405.1,167.04 L405.9,167.79 L406.7,167.03 L407.5,167.19 L408.3,167.59 L409.1,167.62 L409.9,167.43 L410.7,167.54 L411.5,166.84 L412.3,166.89 L413.1,167.78 L413.9,167.60 L414.7,166.84 L415.5,166.85 L416.3,167.04 L417.1,167.73 L417.9,167.02 L418.7,167.47 L419.5,167.73 L420.3,167.44 L421.1,167.72 L421.9,167.06 L422.7,166.95 L423.5,166.82 L424.3,167.56 L425.1,166.90 L425.9,167.77 L426.7,167.51 L427.5,166.99 L428.3,167.61 L429.1,166.96 L429.9,167.31 L430.7,166.91 L431.5,167.59 L432.3,167.69 L433.1,167.72 L433.9,166.80 L434.7,167.65 L435.5,167.36 L436.3,167.62 L437.1,167.30 L437.9,167.42 L438.7,167.39 L439.5,167.60 L440.3,166.88 L441.1,166.85 L441.9,167.35" fill="none" stroke="#7ab830" stroke-width="2.8" stroke-linejoin="round"/>
<path d="M442.5,170.41 L443.3,170.51 L444.1,170.16 L444.9,170.82 L445.7,170.17 L446.5,170.90 L447.3,170.88 L448.1,170.56 L448.9,170.26 L449.7,170.74 L450.5,170.34 L451.3,170.54 L452.1,170.25 L452.9,171.03 L453.7,170.64 L454.5,170.47 L455.3,170.23 L456.1,170.81 L456.9,170.91 L457.7,170.91 L458.5,170.24 L459.3,170.48 L460.1,170.42 L460.9,170.84 L461.7,170.28 L462.5,170.70 L463.3,171.03 L464.1,170.84 L464.9,170.16 L465.7,170.22 L466.5,170.25 L467.3,170.77 L468.1,170.69 L468.9,170.62 L469.7,170.56 L470.5,170.52 L471.3,170.70 L472.1,170.73 L472.9,170.97 L473.7,170.81 L474.5,170.87 L475.3,170.97 L476.1,170.90 L476.9,170.80 L477.7,170.18 L478.5,170.76 L479.3,170.91 L480.1,170.54 L480.9,170.94 L481.7,170.31 L482.5,171.00 L483.3,170.55 L484.1,170.79 L484.9,170.38 L485.7,170.42 L486.5,170.46 L487.3,170.44 L488.1,170.24 L488.9,170.55 L489.7,171.03" fill="none" stroke="#f2a822" stroke-width="2.4" stroke-linejoin="round"/>
<line x1="354" y1="166" x2="354" y2="159.2" stroke="#3a8ee0" stroke-width="1"/>
<line x1="359" y1="166" x2="359" y2="157.5" stroke="#5aa6e8" stroke-width="1"/>
<line x1="360.5" y1="166" x2="360.5" y2="156.5" stroke="#8cc4f0" stroke-width="1"/>
<line x1="373" y1="166" x2="373" y2="157.7" stroke="#8cc4f0" stroke-width="1"/>
<line x1="377.5" y1="166" x2="377.5" y2="159.7" stroke="#5aa6e8" stroke-width="1"/>
<line x1="380.5" y1="166" x2="380.5" y2="156.5" stroke="#5aa6e8" stroke-width="1"/>
<line x1="382" y1="166" x2="382" y2="159.6" stroke="#8cc4f0" stroke-width="1"/>
<line x1="388" y1="166" x2="388" y2="158.4" stroke="#8cc4f0" stroke-width="1"/>
<line x1="399" y1="166" x2="399" y2="156.6" stroke="#8cc4f0" stroke-width="1"/>
<line x1="402" y1="166" x2="402" y2="158.0" stroke="#5aa6e8" stroke-width="1"/>
<line x1="404" y1="166" x2="404" y2="157.8" stroke="#5aa6e8" stroke-width="1"/>
<line x1="410" y1="166" x2="410" y2="159.9" stroke="#8cc4f0" stroke-width="1"/>
<line x1="416" y1="166" x2="416" y2="157.2" stroke="#8cc4f0" stroke-width="1"/>
<line x1="427" y1="166" x2="427" y2="158.8" stroke="#8cc4f0" stroke-width="1"/>
<line x1="451.6" y1="169.5" x2="451.6" y2="158.0" stroke="#3a8ee0" stroke-width="1"/>
<line x1="452.4" y1="169.5" x2="452.4" y2="160.7" stroke="#5aa6e8" stroke-width="1"/>
<line x1="453.2" y1="169.5" x2="453.2" y2="159.8" stroke="#3a8ee0" stroke-width="1"/>
<line x1="454" y1="169.5" x2="454" y2="157.4" stroke="#3a8ee0" stroke-width="1"/>
<line x1="454.7" y1="169.5" x2="454.7" y2="157.9" stroke="#8cc4f0" stroke-width="1"/>
<line x1="458" y1="169.5" x2="458" y2="159.9" stroke="#8cc4f0" stroke-width="1"/>
<line x1="462.5" y1="169.5" x2="462.5" y2="159.9" stroke="#5aa6e8" stroke-width="1"/>
<line x1="467" y1="169.5" x2="467" y2="159.4" stroke="#8cc4f0" stroke-width="1"/>
<line x1="481" y1="169.5" x2="481" y2="159.7" stroke="#3a8ee0" stroke-width="1"/>
<rect x="490.7" y="10.7" width="8.9" height="23.099999999999998" fill="#000"/>
<text transform="translate(498.3,22.2) rotate(-90)" font-size="8.4" fill="#fff" font-weight="bold" text-anchor="middle" font-family="Liberation Sans, Arial, sans-serif">80 nA</text>
<rect x="490.7" y="39.7" width="8.9" height="22.299999999999997" fill="#000"/>
<text transform="translate(498.3,50.9) rotate(-90)" font-size="8.4" fill="#fff" font-weight="bold" text-anchor="middle" font-family="Liberation Sans, Arial, sans-serif">45 nA</text>
<rect x="490.7" y="69.6" width="8.9" height="24.700000000000003" fill="#000"/>
<text transform="translate(498.3,81.9) rotate(-90)" font-size="8.4" fill="#fff" font-weight="bold" text-anchor="middle" font-family="Liberation Sans, Arial, sans-serif">30 nA</text>
<rect x="490.7" y="97.6" width="8.9" height="23.400000000000006" fill="#000"/>
<text transform="translate(498.3,109.3) rotate(-90)" font-size="8.4" fill="#fff" font-weight="bold" text-anchor="middle" font-family="Liberation Sans, Arial, sans-serif">14 nA</text>
<rect x="490.7" y="125.8" width="8.9" height="20.89999999999999" fill="#000"/>
<text transform="translate(498.3,136.2) rotate(-90)" font-size="8.4" fill="#fff" font-weight="bold" text-anchor="middle" font-family="Liberation Sans, Arial, sans-serif">7 nA</text>
<rect x="490.7" y="154.7" width="8.9" height="21.5" fill="#000"/>
<text transform="translate(498.3,165.4) rotate(-90)" font-size="8.4" fill="#fff" font-weight="bold" text-anchor="middle" font-family="Liberation Sans, Arial, sans-serif">5 nA</text>
<line x1="331.5" y1="186.6" x2="331.5" y2="194.2" stroke="#333" stroke-width="1.1"/>
<line x1="489.5" y1="186.6" x2="489.5" y2="194.2" stroke="#333" stroke-width="1.1"/>
<line x1="332" y1="189.7" x2="388.2" y2="189.7" stroke="#333" stroke-width="1"/>
<line x1="432.3" y1="189.7" x2="489" y2="189.7" stroke="#333" stroke-width="1"/>
<path d="M336,187.8 L332,189.8 L336,191.8" fill="none" stroke="#333" stroke-width="1"/>
<path d="M485,187.8 L489,189.8 L485,191.8" fill="none" stroke="#333" stroke-width="1"/>
<text x="409.7" y="193.3" font-size="10" font-weight="bold" text-anchor="middle" font-family="Liberation Sans, Arial, sans-serif">200 ms</text>
<defs><linearGradient id="cb" x1="0" y1="0" x2="0" y2="1"><stop offset="0" stop-color="#f41010"/><stop offset="0.1" stop-color="#f02a18"/><stop offset="0.27" stop-color="#ee6230"/><stop offset="0.43" stop-color="#dc9038"/><stop offset="0.53" stop-color="#a8b440"/><stop offset="0.6" stop-color="#86c044"/><stop offset="0.78" stop-color="#40b888"/><stop offset="1" stop-color="#1ca4e6"/></linearGradient></defs>
<rect x="507" y="6.7" width="36.5" height="176" fill="url(#cb)"/>
<text x="526" y="24" font-size="9" fill="#1a1a1a" text-anchor="middle" font-family="Liberation Sans, Arial, sans-serif">600 mV</text>
<text x="526" y="54.2" font-size="9" fill="#1a1a1a" text-anchor="middle" font-family="Liberation Sans, Arial, sans-serif">500 mV</text>
<text x="526" y="83.5" font-size="9" fill="#1a1a1a" text-anchor="middle" font-family="Liberation Sans, Arial, sans-serif">400 mV</text>
<text x="526" y="112.9" font-size="9" fill="#1a1a1a" text-anchor="middle" font-family="Liberation Sans, Arial, sans-serif">300 mV</text>
<text x="526" y="141.5" font-size="9" fill="#1a1a1a" text-anchor="middle" font-family="Liberation Sans, Arial, sans-serif">200 mV</text>
<text x="526" y="169.8" font-size="9" fill="#1a1a1a" text-anchor="middle" font-family="Liberation Sans, Arial, sans-serif">100 mV</text>
<text transform="translate(5,237.8) scale(0.87,1)" font-size="14.4" stroke="#000" stroke-width="0.35" font-family="Liberation Sans, Arial, sans-serif">B</text>
<path d="M130,365.6 L130.00,365.64 L130.00,365.34 L130.00,365.04 L130.00,364.75 L130.00,364.45 L130.00,364.15 L130.00,363.85 L130.00,363.55 L130.00,363.25 L130.00,362.96 L130.00,362.66 L130.00,362.36 L130.00,362.06 L130.00,361.76 L130.00,361.47 L130.00,361.17 L130.00,360.87 L130.00,360.57 L130.00,360.27 L129.99,359.97 L129.99,359.68 L129.99,359.38 L129.99,359.08 L129.98,358.78 L129.98,358.48 L129.98,358.19 L129.97,357.89 L129.96,357.59 L129.95,357.29 L129.94,356.99 L129.93,356.69 L129.91,356.40 L129.90,356.10 L129.87,355.80 L129.84,355.50 L129.81,355.20 L129.77,354.90 L129.73,354.61 L129.67,354.31 L129.61,354.01 L129.53,353.71 L129.44,353.41 L129.33,353.12 L129.21,352.82 L129.07,352.52 L128.91,352.22 L128.72,351.92 L128.50,351.62 L128.25,351.33 L127.97,351.03 L127.65,350.73 L127.29,350.43 L126.87,350.13 L126.41,349.84 L125.89,349.54 L125.32,349.24 L124.67,348.94 L123.96,348.64 L123.17,348.34 L122.31,348.05 L121.36,347.75 L120.32,347.45 L119.19,347.15 L117.96,346.85 L116.64,346.56 L115.21,346.26 L113.68,345.96 L112.05,345.66 L110.30,345.36 L108.46,345.06 L106.51,344.77 L104.45,344.47 L102.30,344.17 L100.05,343.87 L97.72,343.57 L95.30,343.27 L92.81,342.98 L90.25,342.68 L87.63,342.38 L84.98,342.08 L82.29,341.78 L79.58,341.49 L76.88,341.19 L74.18,340.89 L71.51,340.59 L68.89,340.29 L66.32,339.99 L63.84,339.70 L61.45,339.40 L59.18,339.10 L57.03,338.80 L55.03,338.50 L53.19,338.21 L51.52,337.91 L50.05,337.61 L48.77,337.31 L47.70,337.01 L46.85,336.71 L46.23,336.42 L45.83,336.12 L45.67,335.82 L45.75,335.52 L46.06,335.22 L46.59,334.93 L47.35,334.63 L48.33,334.33 L49.52,334.03 L50.90,333.73 L52.47,333.43 L54.20,333.14 L56.09,332.84 L58.12,332.54 L60.27,332.24 L62.52,331.94 L64.86,331.65 L67.25,331.35 L69.70,331.05 L72.17,330.75 L74.65,330.45 L77.11,330.15 L79.56,329.86 L81.95,329.56 L84.29,329.26 L86.56,328.96 L88.75,328.66 L90.84,328.37 L92.82,328.07 L94.69,327.77 L96.45,327.47 L97.44,327.17 L95.73,326.87 L93.88,326.58 L91.91,326.28 L89.83,325.98 L87.65,325.68 L85.36,325.38 L82.99,325.08 L80.55,324.79 L78.05,324.49 L75.51,324.19 L72.94,323.89 L70.36,323.59 L67.80,323.30 L65.26,323.00 L62.78,322.70 L60.36,322.40 L58.03,322.10 L55.81,321.80 L53.72,321.51 L51.77,321.21 L49.99,320.91 L48.39,320.61 L46.98,320.31 L45.78,320.02 L44.79,319.72 L44.04,319.42 L43.52,319.12 L43.25,318.82 L43.21,318.52 L43.43,318.23 L43.89,317.93 L44.59,317.63 L45.53,317.33 L46.69,317.03 L48.08,316.74 L49.67,316.44 L51.46,316.14 L53.43,315.84 L55.57,315.54 L57.85,315.24 L60.27,314.95 L62.80,314.65 L65.42,314.35 L68.12,314.05 L70.88,313.75 L73.68,313.45 L76.50,313.16 L79.33,312.86 L82.14,312.56 L84.93,312.26 L87.68,311.96 L90.38,311.67 L93.01,311.37 L95.56,311.07 L98.04,310.77 L100.42,310.47 L102.70,310.17 L104.88,309.88 L106.95,309.58 L108.91,309.28 L110.76,308.98 L112.50,308.68 L114.13,308.39 L115.65,308.09 L117.06,307.79 L118.37,307.49 L119.57,307.19 L120.68,306.89 L121.69,306.60 L122.61,306.30 L123.45,306.00 L124.22,305.70 L124.90,305.40 L125.52,305.11 L126.08,304.81 L126.57,304.51 L127.02,304.21 L127.41,303.91 L127.76,303.61 L128.06,303.32 L128.33,303.02 L128.57,302.72 L128.77,302.42 L128.95,302.12 L129.11,301.83 L129.24,301.53 L129.36,301.23 L129.46,300.93 L129.54,300.63 L129.62,300.33 L129.68,300.04 L129.73,299.74 L129.77,299.44 L129.81,299.14 L129.84,298.84 L129.86,298.55 L129.88,298.25 L129.90,297.95 L129.90,297.65 L129.89,297.35 L129.88,297.05 L129.86,296.76 L129.84,296.46 L129.82,296.16 L129.79,295.86 L129.76,295.56 L129.72,295.26 L129.68,294.97 L129.64,294.67 L129.59,294.37 L129.53,294.07 L129.47,293.77 L129.40,293.48 L129.33,293.18 L129.25,292.88 L129.16,292.58 L129.06,292.28 L128.96,291.98 L128.85,291.69 L128.74,291.39 L128.61,291.09 L128.48,290.79 L128.35,290.49 L128.21,290.20 L128.06,289.90 L127.91,289.60 L127.75,289.30 L127.59,289.00 L127.43,288.70 L127.27,288.41 L127.10,288.11 L126.94,287.81 L126.78,287.51 L126.62,287.21 L126.47,286.92 L126.33,286.62 L126.19,286.32 L126.06,286.02 L125.94,285.72 L125.83,285.42 L125.73,285.13 L125.65,284.83 L125.58,284.53 L125.52,284.23 L125.48,283.93 L125.45,283.63 L125.44,283.34 L125.45,283.04 L125.47,282.74 L125.51,282.44 L125.56,282.14 L125.62,281.85 L125.70,281.55 L125.79,281.25 L125.89,280.95 L126.00,280.65 L126.13,280.35 L126.26,280.06 L126.39,279.76 L126.53,279.46 L126.68,279.16 L126.82,278.86 L126.97,278.57 L127.11,278.27 L127.26,277.97 L127.40,277.67 L127.54,277.37 L127.67,277.07 L127.79,276.78 L127.91,276.48 L128.02,276.18 L128.12,275.88 L128.12,275.58 L127.99,275.29 L127.86,274.99 L127.71,274.69 L127.55,274.39 L127.39,274.09 L127.22,273.79 L127.04,273.50 L126.86,273.20 L126.68,272.90 L126.49,272.60 L126.31,272.30 L126.12,272.01 L125.94,271.71 L125.77,271.41 L125.60,271.11 L125.45,270.81 L125.30,270.51 L125.17,270.22 L125.06,269.92 L124.96,269.62 L124.87,269.32 L124.81,269.02 L124.77,268.73 L124.74,268.43 L124.74,268.13 L124.76,267.83 L124.79,267.53 L124.85,267.23 L124.93,266.94 L125.03,266.64 L125.14,266.34 L125.27,266.04 L125.42,265.74 L125.58,265.44 L125.75,265.15 L125.93,264.85 L126.11,264.55 L126.31,264.25 L126.51,263.95 L126.71,263.66 L126.91,263.36 L127.11,263.06 L127.31,262.76 L127.50,262.46 L127.69,262.16 L127.88,261.87 L128.06,261.57 L128.23,261.27 L128.39,260.97 L128.54,260.67 L128.68,260.38 L128.82,260.08 L128.94,259.78 L129.06,259.48 L129.16,259.18 L129.26,258.88 L129.35,258.59 L129.43,258.29 L129.50,257.99 L129.57,257.69 L129.62,257.39 L129.68,257.10 L129.72,256.80 L129.76,256.50 L129.80,256.20 L129.83,255.90 L129.85,255.60 L129.88,255.31 L129.90,255.01 L129.91,254.71 L129.93,254.41 L129.94,254.11 L129.95,253.81 L129.96,253.52 L129.97,253.22 L129.97,252.92 L129.98,252.62 L129.98,252.32 L129.99,252.03 L129.99,251.73 L129.99,251.43 L129.99,251.13 L129.99,250.83 L130.00,250.53 L130.00,250.24 L130.00,249.94 L130.00,249.64 L130.00,249.34 L130.00,249.04 L130.00,248.75 L130.00,248.45 L130.00,248.15 L130.00,247.85 L130.00,247.55 L130.00,247.25 L130.00,246.96 L130.00,246.66 L130.00,246.36 L130,246.4 Z" fill="#000"/>
<path d="M129.97,283.25 L129.96,283.00 L129.96,282.75 L129.95,282.50 L129.94,282.25 L129.93,282.00 L129.92,281.75 L129.90,281.50 L129.89,281.25 L129.87,280.99 L129.85,280.74 L129.83,280.49 L129.80,280.24 L129.77,279.99 L129.74,279.74 L129.71,279.49 L129.67,279.24 L129.62,278.99 L129.57,278.74 L129.52,278.49 L129.46,278.24 L129.40,277.98 L129.33,277.73 L129.25,277.48 L129.17,277.23 L129.08,276.98 L128.99,276.73 L128.88,276.48 L128.78,276.23 L128.66,275.98 L128.54,275.73 L128.41,275.48 L128.28,275.22 L128.14,274.97 L127.99,274.72 L127.84,274.47 L127.69,274.22 L127.53,273.97 L127.36,273.72 L127.20,273.47 L127.03,273.22 L126.86,272.97 L126.69,272.72 L126.52,272.46 L126.35,272.21 L126.19,271.96 L126.03,271.71 L125.87,271.46 L125.72,271.21 L125.58,270.96 L125.45,270.71 L125.32,270.46 L125.21,270.21 L125.10,269.96 L125.01,269.71 L124.93,269.45 L124.87,269.20 L124.82,268.95 L124.78,268.70 L124.76,268.45 L124.75,268.20 L124.76,267.95 L124.78,267.70 L124.82,267.45 L124.87,267.20 L124.93,266.95 L125.01,266.69 L125.10,266.44 L125.21,266.19 L125.32,265.94 L125.45,265.69 L125.58,265.44 L125.72,265.19 L125.87,264.94 L126.03,264.69 L126.19,264.44 L126.35,264.19 L126.52,263.94 L126.69,263.68 L126.86,263.43 L127.03,263.18 L127.20,262.93 L127.36,262.68 L127.53,262.43 L127.69,262.18 L127.84,261.93 L127.99,261.68 L128.14,261.43 L128.28,261.18 L128.41,260.92 L128.54,260.67 L128.66,260.42 L128.78,260.17 L128.88,259.92 L128.99,259.67 L129.08,259.42 L129.17,259.17 L129.25,258.92 L129.33,258.67 L129.40,258.42 L129.46,258.16 L129.52,257.91 L129.57,257.66 L129.62,257.41 L129.67,257.16 L129.71,256.91 L129.74,256.66 L129.77,256.41 L129.80,256.16 L129.83,255.91 L129.85,255.66 L129.87,255.41 L129.89,255.15 L129.90,254.90 L129.92,254.65 L129.93,254.40 L129.94,254.15 L129.95,253.90 L129.96,253.65 L129.96,253.40 L129.97,253.15" fill="none" stroke="#1f5fd6" stroke-width="2.6" stroke-linejoin="round" stroke-linecap="round"/>
<path d="M129.97,299.45 L129.97,299.18 L129.96,298.91 L129.96,298.64 L129.95,298.37 L129.94,298.10 L129.93,297.84 L129.92,297.57 L129.90,297.30 L129.89,297.03 L129.87,296.76 L129.85,296.49 L129.83,296.22 L129.80,295.95 L129.78,295.68 L129.74,295.42 L129.71,295.15 L129.67,294.88 L129.63,294.61 L129.58,294.34 L129.53,294.07 L129.48,293.80 L129.42,293.53 L129.35,293.27 L129.28,293.00 L129.20,292.73 L129.12,292.46 L129.03,292.19 L128.94,291.92 L128.84,291.65 L128.73,291.38 L128.62,291.12 L128.51,290.85 L128.39,290.58 L128.26,290.31 L128.13,290.04 L127.99,289.77 L127.86,289.50 L127.71,289.23 L127.57,288.96 L127.42,288.70 L127.28,288.43 L127.13,288.16 L126.98,287.89 L126.84,287.62 L126.70,287.35 L126.56,287.08 L126.42,286.81 L126.29,286.55 L126.17,286.28 L126.05,286.01 L125.95,285.74 L125.85,285.47 L125.76,285.20 L125.68,284.93 L125.61,284.66 L125.55,284.40 L125.51,284.13 L125.48,283.86 L125.46,283.59 L125.45,283.32 L125.46,283.05 L125.48,282.78 L125.51,282.51 L125.55,282.24 L125.61,281.98 L125.68,281.71 L125.76,281.44 L125.85,281.17 L125.95,280.90 L126.05,280.63 L126.17,280.36 L126.29,280.09 L126.42,279.83 L126.56,279.56 L126.70,279.29 L126.84,279.02 L126.98,278.75 L127.13,278.48 L127.28,278.21 L127.42,277.94 L127.57,277.68 L127.71,277.41 L127.86,277.14 L127.99,276.87 L128.13,276.60 L128.26,276.33 L128.39,276.06 L128.51,275.79 L128.62,275.52 L128.73,275.26 L128.84,274.99 L128.94,274.72 L129.03,274.45 L129.12,274.18 L129.20,273.91 L129.28,273.64 L129.35,273.37 L129.42,273.11 L129.48,272.84 L129.53,272.57 L129.58,272.30 L129.63,272.03 L129.67,271.76 L129.71,271.49 L129.74,271.22 L129.78,270.96 L129.80,270.69 L129.83,270.42 L129.85,270.15 L129.87,269.88 L129.89,269.61 L129.90,269.34 L129.92,269.07 L129.93,268.80 L129.94,268.54 L129.95,268.27 L129.96,268.00 L129.96,267.73 L129.97,267.46 L129.97,267.19" fill="none" stroke="#2cb4e6" stroke-width="2.6" stroke-linejoin="round" stroke-linecap="round"/>
<path d="M129.48,336.34 L129.39,336.05 L129.28,335.75 L129.15,335.45 L129.00,335.16 L128.83,334.86 L128.63,334.57 L128.41,334.27 L128.15,333.98 L127.86,333.68 L127.53,333.38 L127.15,333.09 L126.73,332.79 L126.26,332.50 L125.73,332.20 L125.14,331.91 L124.48,331.61 L123.75,331.31 L122.95,331.02 L122.07,330.72 L121.10,330.43 L120.04,330.13 L118.89,329.84 L117.64,329.54 L116.29,329.24 L114.83,328.95 L113.27,328.65 L111.59,328.36 L109.81,328.06 L107.92,327.77 L105.92,327.47 L103.81,327.17 L101.59,326.88 L99.28,326.58 L96.88,326.29 L94.39,325.99 L91.82,325.70 L89.18,325.40 L86.48,325.10 L83.73,324.81 L80.96,324.51 L78.16,324.22 L75.36,323.92 L72.57,323.63 L69.81,323.33 L67.10,323.04 L64.45,322.74 L61.88,322.44 L59.42,322.15 L57.07,321.85 L54.86,321.56 L52.80,321.26 L50.91,320.97 L49.21,320.67 L47.70,320.37 L46.40,320.08 L45.32,319.78 L44.48,319.49 L43.87,319.19 L43.50,318.90 L43.38,318.60 L43.50,318.30 L43.87,318.01 L44.48,317.71 L45.32,317.42 L46.40,317.12 L47.70,316.83 L49.21,316.53 L50.91,316.23 L52.80,315.94 L54.86,315.64 L57.07,315.35 L59.42,315.05 L61.88,314.76 L64.45,314.46 L67.10,314.16 L69.81,313.87 L72.57,313.57 L75.36,313.28 L78.16,312.98 L80.96,312.69 L83.73,312.39 L86.48,312.10 L89.18,311.80 L91.82,311.50 L94.39,311.21 L96.88,310.91 L99.28,310.62 L101.59,310.32 L103.81,310.03 L105.92,309.73 L107.92,309.43 L109.81,309.14 L111.59,308.84 L113.27,308.55 L114.83,308.25 L116.29,307.96 L117.64,307.66 L118.89,307.36 L120.04,307.07 L121.10,306.77 L122.07,306.48 L122.95,306.18 L123.75,305.89 L124.48,305.59 L125.14,305.29 L125.73,305.00 L126.26,304.70 L126.73,304.41 L127.15,304.11 L127.53,303.82 L127.86,303.52 L128.15,303.22 L128.41,302.93 L128.63,302.63 L128.83,302.34 L129.00,302.04 L129.15,301.75 L129.28,301.45 L129.39,301.15 L129.48,300.86" fill="none" stroke="#78b832" stroke-width="2.6" stroke-linejoin="round" stroke-linecap="round"/>
<path d="M129.50,353.48 L129.41,353.18 L129.30,352.89 L129.18,352.59 L129.03,352.29 L128.87,352.00 L128.68,351.70 L128.46,351.41 L128.21,351.11 L127.93,350.82 L127.61,350.52 L127.25,350.22 L126.84,349.93 L126.39,349.63 L125.87,349.34 L125.30,349.04 L124.67,348.75 L123.97,348.45 L123.19,348.15 L122.34,347.86 L121.41,347.56 L120.38,347.27 L119.27,346.97 L118.06,346.68 L116.76,346.38 L115.35,346.08 L113.84,345.79 L112.22,345.49 L110.50,345.20 L108.67,344.90 L106.74,344.61 L104.71,344.31 L102.57,344.02 L100.34,343.72 L98.02,343.42 L95.61,343.13 L93.13,342.83 L90.58,342.54 L87.97,342.24 L85.32,341.95 L82.64,341.65 L79.94,341.35 L77.24,341.06 L74.54,340.76 L71.88,340.47 L69.26,340.17 L66.70,339.88 L64.22,339.58 L61.84,339.28 L59.57,338.99 L57.44,338.69 L55.45,338.40 L53.63,338.10 L51.98,337.81 L50.53,337.51 L49.27,337.21 L48.23,336.92 L47.41,336.62 L46.82,336.33 L46.47,336.03 L46.35,335.74 L46.47,335.44 L46.82,335.14 L47.41,334.85 L48.23,334.55 L49.27,334.26 L50.53,333.96 L51.98,333.67 L53.63,333.37 L55.45,333.07 L57.44,332.78 L59.57,332.48 L61.84,332.19 L64.22,331.89 L66.70,331.60 L69.26,331.30 L71.88,331.01 L74.54,330.71 L77.24,330.41 L79.94,330.12 L82.64,329.82 L85.32,329.53 L87.97,329.23 L90.58,328.94 L93.13,328.64 L95.61,328.34 L98.02,328.05 L100.34,327.75 L102.57,327.46 L104.71,327.16 L106.74,326.87 L108.67,326.57 L110.50,326.27 L112.22,325.98 L113.84,325.68 L115.35,325.39 L116.76,325.09 L118.06,324.80 L119.27,324.50 L120.38,324.20 L121.41,323.91 L122.34,323.61 L123.19,323.32 L123.97,323.02 L124.67,322.73 L125.30,322.43 L125.87,322.13 L126.39,321.84 L126.84,321.54 L127.25,321.25 L127.61,320.95 L127.93,320.66 L128.21,320.36 L128.46,320.06 L128.68,319.77 L128.87,319.47 L129.03,319.18 L129.18,318.88 L129.30,318.59 L129.41,318.29 L129.50,318.00" fill="none" stroke="#f5a81c" stroke-width="2.6" stroke-linejoin="round" stroke-linecap="round"/>
<path d="M129.96,355.56 L129.96,355.34 L129.95,355.11 L129.94,354.89 L129.93,354.66 L129.91,354.44 L129.90,354.22 L129.88,353.99 L129.87,353.77 L129.84,353.54 L129.82,353.32 L129.79,353.10 L129.76,352.87 L129.73,352.65 L129.69,352.42 L129.65,352.20 L129.60,351.98 L129.55,351.75 L129.49,351.53 L129.42,351.30 L129.35,351.08 L129.28,350.86 L129.19,350.63 L129.10,350.41 L129.00,350.18 L128.90,349.96 L128.78,349.74 L128.66,349.51 L128.53,349.29 L128.39,349.06 L128.25,348.84 L128.10,348.62 L127.93,348.39 L127.77,348.17 L127.59,347.94 L127.41,347.72 L127.22,347.50 L127.03,347.27 L126.83,347.05 L126.64,346.82 L126.43,346.60 L126.23,346.38 L126.03,346.15 L125.82,345.93 L125.62,345.70 L125.43,345.48 L125.23,345.26 L125.05,345.03 L124.87,344.81 L124.70,344.58 L124.54,344.36 L124.39,344.14 L124.25,343.91 L124.12,343.69 L124.01,343.46 L123.92,343.24 L123.84,343.02 L123.78,342.79 L123.74,342.57 L123.71,342.34 L123.70,342.12 L123.71,341.90 L123.74,341.67 L123.78,341.45 L123.84,341.22 L123.92,341.00 L124.01,340.78 L124.12,340.55 L124.25,340.33 L124.39,340.10 L124.54,339.88 L124.70,339.66 L124.87,339.43 L125.05,339.21 L125.23,338.98 L125.43,338.76 L125.62,338.54 L125.82,338.31 L126.03,338.09 L126.23,337.86 L126.43,337.64 L126.64,337.42 L126.83,337.19 L127.03,336.97 L127.22,336.74 L127.41,336.52 L127.59,336.30 L127.77,336.07 L127.93,335.85 L128.10,335.62 L128.25,335.40 L128.39,335.18 L128.53,334.95 L128.66,334.73 L128.78,334.50 L128.90,334.28 L129.00,334.06 L129.10,333.83 L129.19,333.61 L129.28,333.38 L129.35,333.16 L129.42,332.94 L129.49,332.71 L129.55,332.49 L129.60,332.26 L129.65,332.04 L129.69,331.82 L129.73,331.59 L129.76,331.37 L129.79,331.14 L129.82,330.92 L129.84,330.70 L129.87,330.47 L129.88,330.25 L129.90,330.02 L129.91,329.80 L129.93,329.58 L129.94,329.35 L129.95,329.13 L129.96,328.90 L129.96,328.68" fill="none" stroke="#ec5a78" stroke-width="2.6" stroke-linejoin="round" stroke-linecap="round"/>
<line x1="130" y1="243" x2="130" y2="369" stroke="#1f5fd6" stroke-width="1.6"/>
<path d="M34.8,242.6 L130,242.6 L130,369 L34.8,369 Z" fill="none" stroke="#333" stroke-width="1.2"/>
<line x1="34.8" y1="369.0" x2="38.8" y2="369.0" stroke="#333" stroke-width="1.1"/>
<text x="29.8" y="372.4" font-size="9.6" font-weight="bold" text-anchor="end" font-family="Liberation Sans, Arial, sans-serif">0</text>
<line x1="34.8" y1="352.2" x2="37.3" y2="352.2" stroke="#333" stroke-width="1.1"/>
<line x1="34.8" y1="335.4" x2="38.8" y2="335.4" stroke="#333" stroke-width="1.1"/>
<text x="29.8" y="338.8" font-size="9.6" font-weight="bold" text-anchor="end" font-family="Liberation Sans, Arial, sans-serif">2</text>
<line x1="34.8" y1="318.6" x2="37.3" y2="318.6" stroke="#333" stroke-width="1.1"/>
<line x1="34.8" y1="301.8" x2="38.8" y2="301.8" stroke="#333" stroke-width="1.1"/>
<text x="29.8" y="305.2" font-size="9.6" font-weight="bold" text-anchor="end" font-family="Liberation Sans, Arial, sans-serif">4</text>
<line x1="34.8" y1="285.0" x2="37.3" y2="285.0" stroke="#333" stroke-width="1.1"/>
<line x1="34.8" y1="268.2" x2="38.8" y2="268.2" stroke="#333" stroke-width="1.1"/>
<text x="29.8" y="271.6" font-size="9.6" font-weight="bold" text-anchor="end" font-family="Liberation Sans, Arial, sans-serif">6</text>
<line x1="34.8" y1="251.4" x2="37.3" y2="251.4" stroke="#333" stroke-width="1.1"/>
<line x1="130.0" y1="369" x2="130.0" y2="365" stroke="#333" stroke-width="1.1"/>
<line x1="112.5" y1="369" x2="112.5" y2="366.5" stroke="#333" stroke-width="1.1"/>
<line x1="95.0" y1="369" x2="95.0" y2="365" stroke="#333" stroke-width="1.1"/>
<line x1="77.5" y1="369" x2="77.5" y2="366.5" stroke="#333" stroke-width="1.1"/>
<line x1="60.0" y1="369" x2="60.0" y2="365" stroke="#333" stroke-width="1.1"/>
<line x1="42.5" y1="369" x2="42.5" y2="366.5" stroke="#333" stroke-width="1.1"/>
<text x="60.3" y="382" font-size="9.6" font-weight="bold" text-anchor="middle" font-family="Liberation Sans, Arial, sans-serif">20,000</text>
<text x="95.4" y="382" font-size="9.6" font-weight="bold" text-anchor="middle" font-family="Liberation Sans, Arial, sans-serif">10,000</text>
<text x="129.8" y="382" font-size="9.6" font-weight="bold" text-anchor="middle" font-family="Liberation Sans, Arial, sans-serif">0</text>
<text x="83" y="399.8" font-size="13" font-weight="bold" text-anchor="middle" font-family="Liberation Sans, Arial, sans-serif">Counts</text>
<text x="47" y="359" font-size="10.2" font-weight="bold" fill="#888" font-family="Liberation Sans, Arial, sans-serif">100 mV</text>
<text transform="translate(16,315.4) rotate(-90)" font-size="14" font-weight="bold" text-anchor="middle" font-family="Liberation Sans, Arial, sans-serif"><tspan font-style="italic">I</tspan><tspan font-size="9.5" dy="3">D</tspan><tspan dy="-3"> (nA)</tspan></text>
<rect x="58.6" y="245.7" width="49.3" height="49.4" fill="#fff"/>
<path d="M107.9,295.1 L107.35,295.10 L107.27,294.85 L107.17,294.61 L107.07,294.36 L106.95,294.12 L106.81,293.87 L106.66,293.62 L106.50,293.38 L106.31,293.13 L106.11,292.89 L105.89,292.64 L105.64,292.40 L105.37,292.15 L105.08,291.90 L104.76,291.66 L104.42,291.41 L104.05,291.17 L103.65,290.92 L103.22,290.67 L102.77,290.43 L102.29,290.18 L101.78,289.94 L101.24,289.69 L100.68,289.44 L100.08,289.20 L99.47,288.95 L98.83,288.71 L98.17,288.46 L97.50,288.22 L96.80,287.97 L96.10,287.72 L95.38,287.48 L94.66,287.23 L93.94,286.99 L93.21,286.74 L92.50,286.49 L91.79,286.25 L91.10,286.00 L90.43,285.76 L89.78,285.51 L89.16,285.27 L88.58,285.02 L88.03,284.77 L87.52,284.53 L87.06,284.28 L86.65,284.04 L86.29,283.79 L85.99,283.54 L85.74,283.30 L85.55,283.05 L85.43,282.81 L85.36,282.56 L85.36,282.31 L85.42,282.07 L85.54,281.82 L85.72,281.58 L85.96,281.33 L86.26,281.09 L86.60,280.84 L87.00,280.59 L87.45,280.35 L87.93,280.10 L88.46,279.86 L89.01,279.61 L89.60,279.36 L90.21,279.12 L90.84,278.87 L91.48,278.63 L92.13,278.38 L92.78,278.13 L93.43,277.89 L94.07,277.64 L94.70,277.40 L95.32,277.15 L95.92,276.91 L96.49,276.66 L97.04,276.41 L97.56,276.17 L98.04,275.92 L98.49,275.68 L98.91,275.43 L99.28,275.18 L99.62,274.94 L99.58,274.69 L99.22,274.45 L98.82,274.20 L98.38,273.95 L97.90,273.71 L97.39,273.46 L96.83,273.22 L96.25,272.97 L95.64,272.73 L95.00,272.48 L94.33,272.23 L93.65,271.99 L92.96,271.74 L92.26,271.50 L91.55,271.25 L90.84,271.00 L90.14,270.76 L89.45,270.51 L88.77,270.27 L88.12,270.02 L87.49,269.77 L86.90,269.53 L86.35,269.28 L85.83,269.04 L85.37,268.79 L84.95,268.55 L84.59,268.30 L84.29,268.05 L84.05,267.81 L83.87,267.56 L83.76,267.32 L83.71,267.07 L83.73,266.82 L83.82,266.58 L83.98,266.33 L84.19,266.09 L84.48,265.84 L84.82,265.60 L85.22,265.35 L85.68,265.10 L86.19,264.86 L86.74,264.61 L87.34,264.37 L87.98,264.12 L88.66,263.87 L89.36,263.63 L90.08,263.38 L90.83,263.14 L91.59,262.89 L92.36,262.64 L93.14,262.40 L93.92,262.15 L94.69,261.91 L95.45,261.66 L96.21,261.42 L96.95,261.17 L97.67,260.92 L98.37,260.68 L99.05,260.43 L99.70,260.19 L100.32,259.94 L100.92,259.69 L101.49,259.45 L102.03,259.20 L102.54,258.96 L103.02,258.71 L103.46,258.46 L103.88,258.22 L104.27,257.97 L104.63,257.73 L104.96,257.48 L105.27,257.24 L105.55,256.99 L105.81,256.74 L106.04,256.50 L106.26,256.25 L106.45,256.01 L106.62,255.76 L106.78,255.51 L106.92,255.27 L107.04,255.02 L107.15,254.78 L107.25,254.53 L107.34,254.28 L107.41,254.04 L107.48,253.79 L107.54,253.55 L107.59,253.30 L107.64,253.06 L107.68,252.81 L107.71,252.56 L107.74,252.32 L107.76,252.07 L107.79,251.83 L107.80,251.58 L107.82,251.33 L107.83,251.09 L107.84,250.84 L107.85,250.60 L107.86,250.35 L107.87,250.10 L107.87,249.86 L107.88,249.61 L107.88,249.37 L107.89,249.12 L107.89,248.88 L107.89,248.63 L107.89,248.38 L107.89,248.14 L107.90,247.89 L107.90,247.65 L107.90,247.40 L107.90,247.15 L107.90,246.91 L107.90,246.66 L107.90,246.42 L107.90,246.17 L107.90,245.93 L107.9,245.9 Z" fill="#000"/>
<path d="M107.80,282.30 L107.78,282.05 L107.75,281.79 L107.72,281.54 L107.69,281.28 L107.65,281.03 L107.61,280.77 L107.56,280.52 L107.50,280.26 L107.43,280.01 L107.35,279.75 L107.26,279.50 L107.16,279.24 L107.05,278.99 L106.92,278.73 L106.77,278.48 L106.61,278.22 L106.43,277.97 L106.22,277.71 L106.00,277.46 L105.75,277.20 L105.48,276.95 L105.18,276.69 L104.85,276.44 L104.50,276.18 L104.11,275.93 L103.70,275.67 L103.25,275.42 L102.77,275.16 L102.25,274.91 L101.71,274.65 L101.13,274.40 L100.52,274.14 L99.88,273.89 L99.21,273.63 L98.52,273.38 L97.79,273.12 L97.05,272.87 L96.28,272.61 L95.50,272.36 L94.71,272.10 L93.91,271.85 L93.10,271.59 L92.30,271.34 L91.50,271.08 L90.71,270.83 L89.94,270.57 L89.20,270.32 L88.47,270.06 L87.79,269.81 L87.14,269.55 L86.53,269.30 L85.98,269.04 L85.47,268.79 L85.03,268.53 L84.64,268.28 L84.33,268.02 L84.07,267.77 L83.89,267.51 L83.78,267.26 L83.75,267.00 L83.78,266.74 L83.89,266.49 L84.07,266.23 L84.33,265.98 L84.64,265.72 L85.03,265.47 L85.47,265.21 L85.98,264.96 L86.53,264.70 L87.14,264.45 L87.79,264.19 L88.47,263.94 L89.20,263.68 L89.94,263.43 L90.71,263.17 L91.50,262.92 L92.30,262.66 L93.10,262.41 L93.91,262.15 L94.71,261.90 L95.50,261.64 L96.28,261.39 L97.05,261.13 L97.79,260.88 L98.52,260.62 L99.21,260.37 L99.88,260.11 L100.52,259.86 L101.13,259.60 L101.71,259.35 L102.25,259.09 L102.77,258.84 L103.25,258.58 L103.70,258.33 L104.11,258.07 L104.50,257.82 L104.85,257.56 L105.18,257.31 L105.48,257.05 L105.75,256.80 L106.00,256.54 L106.22,256.29 L106.43,256.03 L106.61,255.78 L106.77,255.52 L106.92,255.27 L107.05,255.01 L107.16,254.76 L107.26,254.50 L107.35,254.25 L107.43,253.99 L107.50,253.74 L107.56,253.48 L107.61,253.23 L107.65,252.97 L107.69,252.72 L107.72,252.46 L107.75,252.21 L107.78,251.95 L107.80,251.70" fill="none" stroke="#1f5fd6" stroke-width="2.6" stroke-linejoin="round"/>
<path d="M107.30,294.95 L107.21,294.70 L107.10,294.44 L106.98,294.19 L106.85,293.93 L106.70,293.68 L106.53,293.42 L106.34,293.17 L106.13,292.91 L105.90,292.66 L105.64,292.40 L105.37,292.15 L105.06,291.89 L104.73,291.64 L104.37,291.38 L103.98,291.13 L103.56,290.87 L103.12,290.62 L102.64,290.36 L102.13,290.11 L101.59,289.85 L101.02,289.60 L100.43,289.34 L99.80,289.09 L99.15,288.83 L98.48,288.58 L97.79,288.32 L97.07,288.07 L96.35,287.81 L95.61,287.56 L94.86,287.30 L94.11,287.05 L93.36,286.79 L92.62,286.54 L91.88,286.28 L91.17,286.03 L90.47,285.77 L89.80,285.52 L89.16,285.26 L88.55,285.01 L87.99,284.75 L87.47,284.50 L87.00,284.24 L86.58,283.99 L86.23,283.73 L85.93,283.48 L85.70,283.22 L85.53,282.97 L85.42,282.71 L85.39,282.46 L85.42,282.20 L85.53,281.94 L85.70,281.69 L85.93,281.43 L86.23,281.18 L86.58,280.92 L87.00,280.67 L87.47,280.41 L87.99,280.16 L88.55,279.90 L89.16,279.65 L89.80,279.39 L90.47,279.14 L91.17,278.88 L91.88,278.63 L92.62,278.37 L93.36,278.12 L94.11,277.86 L94.86,277.61 L95.61,277.35 L96.35,277.10 L97.07,276.84 L97.79,276.59 L98.48,276.33 L99.15,276.08 L99.80,275.82 L100.43,275.57 L101.02,275.31 L101.59,275.06 L102.13,274.80 L102.64,274.55 L103.12,274.29 L103.56,274.04 L103.98,273.78 L104.37,273.53 L104.73,273.27 L105.06,273.02 L105.37,272.76 L105.64,272.51 L105.90,272.25 L106.13,272.00 L106.34,271.74 L106.53,271.49 L106.70,271.23 L106.85,270.98 L106.98,270.72 L107.10,270.47 L107.21,270.21 L107.30,269.96 L107.39,269.70 L107.46,269.45 L107.52,269.19 L107.58,268.94 L107.63,268.68 L107.67,268.43 L107.70,268.17 L107.73,267.92 L107.76,267.66 L107.78,267.41 L107.80,267.15" fill="none" stroke="#2cb4e6" stroke-width="2.6" stroke-linejoin="round"/>
<rect x="58.6" y="245.7" width="49.3" height="49.4" fill="none" stroke="#333" stroke-width="1.1"/>
<line x1="58.6" y1="295.1" x2="61.800000000000004" y2="295.1" stroke="#333" stroke-width="1"/>
<line x1="58.6" y1="281.1" x2="60.6" y2="281.1" stroke="#333" stroke-width="1"/>
<line x1="58.6" y1="267.0" x2="61.800000000000004" y2="267.0" stroke="#333" stroke-width="1"/>
<line x1="58.6" y1="253.0" x2="60.6" y2="253.0" stroke="#333" stroke-width="1"/>
<text x="53.8" y="270.0" font-size="8.6" font-weight="bold" text-anchor="end" font-family="Liberation Sans, Arial, sans-serif">6</text>
<text x="53.8" y="298.1" font-size="8.6" font-weight="bold" text-anchor="end" font-family="Liberation Sans, Arial, sans-serif">4</text>
<line x1="58.6" y1="295.1" x2="58.6" y2="292.1" stroke="#333" stroke-width="1"/>
<line x1="70.9" y1="295.1" x2="70.9" y2="293.1" stroke="#333" stroke-width="1"/>
<line x1="83.3" y1="295.1" x2="83.3" y2="292.1" stroke="#333" stroke-width="1"/>
<line x1="95.6" y1="295.1" x2="95.6" y2="293.1" stroke="#333" stroke-width="1"/>
<line x1="107.9" y1="295.1" x2="107.9" y2="292.1" stroke="#333" stroke-width="1"/>
<text x="58.6" y="306.3" font-size="8.6" font-weight="bold" text-anchor="middle" font-family="Liberation Sans, Arial, sans-serif">3000</text>
<text x="83.3" y="306.3" font-size="8.6" font-weight="bold" text-anchor="middle" font-family="Liberation Sans, Arial, sans-serif">1500</text>
<text x="107.9" y="306.3" font-size="8.6" font-weight="bold" text-anchor="middle" font-family="Liberation Sans, Arial, sans-serif">0</text>
<path d="M131,267.7 L176,267.7 Q181.7,267.7 181.7,272" fill="none" stroke="#3d7ee6" stroke-width="1.2"/>
<circle cx="181.7" cy="272" r="1.3" fill="#3d7ee6"/>
<path d="M131,288.8 L151,288.8 Q156.1,288.8 156.1,294 L156.1,309.5 Q156.1,314.3 161,314.3 L309,314.3 Q314.3,314.3 314.3,309.4" fill="none" stroke="#3fc0ea" stroke-width="1.2"/>
<circle cx="314.3" cy="309.4" r="1.3" fill="#3fc0ea"/>
<path d="M131,318.3 L152.8,318.3 Q157.9,318.3 157.9,323.5 L157.9,353.6" fill="none" stroke="#8cc850" stroke-width="1.2"/>
<circle cx="157.9" cy="353.6" r="1.3" fill="#6aa830"/>
<path d="M131,334.6 L162,334.6 Q167.2,334.6 167.2,329.4 L167.2,327 Q167.2,322.2 172,322.2 L309,322.2 Q314.5,322.2 314.5,326.2" fill="none" stroke="#f7be5a" stroke-width="1.2"/>
<circle cx="314.5" cy="326.2" r="1.3" fill="#f5a81c"/>
<path d="M131,344.6 L146,344.6 Q150.8,344.6 150.8,349.5 L150.8,381.5 Q150.8,386.7 156,386.7 L223,386.7" fill="none" stroke="#f08aa0" stroke-width="1.2"/>
<circle cx="223" cy="386.7" r="1.3" fill="#e8405e"/>
<line x1="195.4" y1="277.8" x2="219.6" y2="263.0" stroke="#fff" stroke-width="5"/>
<path d="M195.9,278.7 L220.1,263.9 M194.9,276.9 L219.1,262.1" fill="none" stroke="#6a6a6a" stroke-width="1.0"/>
<path d="M220.1,263.9 L214.3,264.8 L215.4,266.7 Z" fill="#6a6a6a" stroke="#6a6a6a" stroke-width="0.5"/>
<path d="M194.9,276.9 L200.7,276.0 L199.6,274.1 Z" fill="#6a6a6a" stroke="#6a6a6a" stroke-width="0.5"/>
<line x1="257.8" y1="263.0" x2="283.2" y2="278.3" stroke="#fff" stroke-width="5"/>
<path d="M257.3,263.9 L282.7,279.2 M258.3,262.1 L283.7,277.4" fill="none" stroke="#6a6a6a" stroke-width="1.0"/>
<path d="M282.7,279.2 L279.1,274.4 L278.0,276.3 Z" fill="#6a6a6a" stroke="#6a6a6a" stroke-width="0.5"/>
<path d="M258.3,262.1 L261.9,266.9 L263.0,265.0 Z" fill="#6a6a6a" stroke="#6a6a6a" stroke-width="0.5"/>
<line x1="224.7" y1="277.3" x2="190.4" y2="336.3" stroke="#fff" stroke-width="5"/>
<path d="M223.8,276.8 L189.5,335.8 M225.6,277.8 L191.3,336.8" fill="none" stroke="#6a6a6a" stroke-width="1.0"/>
<path d="M189.5,335.8 L194.2,332.1 L192.3,331.0 Z" fill="#6a6a6a" stroke="#6a6a6a" stroke-width="0.5"/>
<path d="M225.6,277.8 L220.9,281.5 L222.8,282.6 Z" fill="#6a6a6a" stroke="#6a6a6a" stroke-width="0.5"/>
<line x1="255.2" y1="277.3" x2="289.6" y2="336.3" stroke="#fff" stroke-width="5"/>
<path d="M254.3,277.8 L288.7,336.8 M256.1,276.8 L290.5,335.8" fill="none" stroke="#6a6a6a" stroke-width="1.0"/>
<path d="M288.7,336.8 L287.9,330.9 L286.0,332.1 Z" fill="#6a6a6a" stroke="#6a6a6a" stroke-width="0.5"/>
<path d="M256.1,276.8 L256.9,282.7 L258.8,281.5 Z" fill="#6a6a6a" stroke="#6a6a6a" stroke-width="0.5"/>
<line x1="180.7" y1="304.5" x2="180.7" y2="330.0" stroke="#fff" stroke-width="5"/>
<path d="M179.7,304.5 L179.7,330.0 M181.7,304.5 L181.7,330.0" fill="none" stroke="#6a6a6a" stroke-width="1.0"/>
<path d="M179.7,330.0 L181.9,324.5 L179.7,324.5 Z" fill="#6a6a6a" stroke="#6a6a6a" stroke-width="0.5"/>
<path d="M181.7,304.5 L179.5,310.0 L181.7,310.0 Z" fill="#6a6a6a" stroke="#6a6a6a" stroke-width="0.5"/>
<line x1="298.5" y1="304.5" x2="298.5" y2="331.0" stroke="#fff" stroke-width="5"/>
<path d="M297.5,304.5 L297.5,331.0 M299.5,304.5 L299.5,331.0" fill="none" stroke="#6a6a6a" stroke-width="1.0"/>
<path d="M297.5,331.0 L299.7,325.5 L297.5,325.5 Z" fill="#6a6a6a" stroke="#6a6a6a" stroke-width="0.5"/>
<path d="M299.5,304.5 L297.3,310.0 L299.5,310.0 Z" fill="#6a6a6a" stroke="#6a6a6a" stroke-width="0.5"/>
<line x1="205.6" y1="348.5" x2="272.5" y2="348.5" stroke="#fff" stroke-width="5"/>
<path d="M205.6,349.5 L272.5,349.5 M205.6,347.5 L272.5,347.5" fill="none" stroke="#6a6a6a" stroke-width="1.0"/>
<path d="M272.5,349.5 L267.0,347.3 L267.0,349.5 Z" fill="#6a6a6a" stroke="#6a6a6a" stroke-width="0.5"/>
<path d="M205.6,347.5 L211.1,349.7 L211.1,347.5 Z" fill="#6a6a6a" stroke="#6a6a6a" stroke-width="0.5"/>
<line x1="194.8" y1="364.0" x2="218.5" y2="374.7" stroke="#fff" stroke-width="5"/>
<path d="M194.4,364.9 L218.1,375.6 M195.2,363.1 L218.9,373.8" fill="none" stroke="#6a6a6a" stroke-width="1.0"/>
<path d="M218.1,375.6 L214.0,371.3 L213.1,373.3 Z" fill="#6a6a6a" stroke="#6a6a6a" stroke-width="0.5"/>
<path d="M195.2,363.1 L199.3,367.4 L200.2,365.4 Z" fill="#6a6a6a" stroke="#6a6a6a" stroke-width="0.5"/>
<line x1="281.2" y1="364.0" x2="259.6" y2="374.7" stroke="#fff" stroke-width="5"/>
<path d="M280.8,363.1 L259.2,373.8 M281.6,364.9 L260.0,375.6" fill="none" stroke="#6a6a6a" stroke-width="1.0"/>
<path d="M259.2,373.8 L265.1,373.3 L264.1,371.4 Z" fill="#6a6a6a" stroke="#6a6a6a" stroke-width="0.5"/>
<path d="M281.6,364.9 L275.7,365.4 L276.7,367.3 Z" fill="#6a6a6a" stroke="#6a6a6a" stroke-width="0.5"/>
<circle cx="234.8" cy="244.6" r="2.1" fill="none" stroke="#b15ee0" stroke-width="1.15"/>
<circle cx="234.8" cy="278.8" r="2.1" fill="none" stroke="#b15ee0" stroke-width="1.15"/>
<path d="M231.0,261.7 L236.7,253.8 L246.0,256.8 L246.0,266.6 L236.7,269.6 Z M223.5,261.7 L229.4,261.7 M236.7,253.8 L235.2,246.8 M235.4,253.8 L233.9,246.8 M236.7,269.6 L235.2,276.6 M235.4,269.6 L233.9,276.6" fill="none" stroke="#b15ee0" stroke-width="1.15" stroke-linejoin="round"/>
<rect x="228.7" y="259.0" width="4.6" height="5.4" fill="#fff"/>
<text x="231.0" y="264.3" font-size="7.2" font-weight="bold" fill="#b15ee0" text-anchor="middle" font-family="Liberation Sans, Arial, sans-serif">N</text>
<path d="M256.7,249.1 L257.8,241.4 L265.4,240.1 L269.0,246.9" fill="none" stroke="#b15ee0" stroke-width="1.15" stroke-linejoin="round"/>
<line x1="256.7" y1="249.1" x2="261.2" y2="251.3" stroke="#b15ee0" stroke-width="1.15"/>
<line x1="269.0" y1="246.9" x2="265.5" y2="250.5" stroke="#b15ee0" stroke-width="1.15"/>
<circle cx="263.6" cy="252.5" r="1.9" fill="none" stroke="#b15ee0" stroke-width="1.15"/>
<circle cx="262.5" cy="246.0" r="2.6" fill="none" stroke="#b15ee0" stroke-width="0.9"/>
<line x1="247.5" y1="256.5" x2="256.8" y2="250" stroke="#b15ee0" stroke-width="1.15"/>
<circle cx="242" cy="274" r="2.8" fill="none" stroke="#b15ee0" stroke-width="0.9"/><line x1="240.6" y1="274" x2="243.4" y2="274" stroke="#b15ee0" stroke-width="0.9"/>
<circle cx="169.6" cy="340.8" r="2.1" fill="none" stroke="#7ab83a" stroke-width="1.15"/>
<circle cx="169.6" cy="374.0" r="2.1" fill="none" stroke="#7ab83a" stroke-width="1.15"/>
<path d="M166.1,357.4 L171.5,350.0 L180.2,352.8 L180.2,362.0 L171.5,364.8 Z M158.6,357.4 L164.5,357.4 M171.5,350.0 L170.0,343.0 M170.2,350.0 L168.7,343.0 M171.5,364.8 L170.0,371.8 M170.2,364.8 L168.7,371.8 M178.2,354.2 L178.2,360.6" fill="none" stroke="#7ab83a" stroke-width="1.15" stroke-linejoin="round"/>
<rect x="163.8" y="354.7" width="4.6" height="5.4" fill="#fff"/>
<text x="166.1" y="360.0" font-size="7.2" font-weight="bold" fill="#7ab83a" text-anchor="middle" font-family="Liberation Sans, Arial, sans-serif">N</text>
<path d="M184.5,341.4 L191.4,343.7 L191.4,350.9 L184.5,353.2" fill="none" stroke="#7ab83a" stroke-width="1.15" stroke-linejoin="round"/>
<line x1="184.5" y1="341.4" x2="181.7" y2="345.2" stroke="#7ab83a" stroke-width="1.15"/>
<line x1="184.5" y1="353.2" x2="181.7" y2="349.4" stroke="#7ab83a" stroke-width="1.15"/>
<circle cx="180.2" cy="347.3" r="1.9" fill="none" stroke="#7ab83a" stroke-width="1.15"/>
<line x1="186.1" y1="343.5" x2="188.9" y2="344.4" stroke="#7ab83a" stroke-width="0.9"/>
<line x1="188.9" y1="350.2" x2="186.1" y2="351.1" stroke="#7ab83a" stroke-width="0.9"/>
<circle cx="238.6" cy="365.3" r="2.1" fill="none" stroke="#ec5472" stroke-width="1.15"/>
<circle cx="238.6" cy="398.5" r="2.1" fill="none" stroke="#ec5472" stroke-width="1.15"/>
<path d="M235.1,381.9 L240.5,374.5 L249.2,377.3 L249.2,386.5 L240.5,389.3 Z M227.6,381.9 L233.5,381.9 M240.5,374.5 L239.0,367.5 M239.2,374.5 L237.7,367.5 M240.5,389.3 L239.0,396.3 M239.2,389.3 L237.7,396.3 M247.2,378.7 L247.2,385.1" fill="none" stroke="#ec5472" stroke-width="1.15" stroke-linejoin="round"/>
<rect x="232.8" y="379.2" width="4.6" height="5.4" fill="#fff"/>
<text x="235.1" y="384.5" font-size="7.2" font-weight="bold" fill="#ec5472" text-anchor="middle" font-family="Liberation Sans, Arial, sans-serif">N</text>
<circle cx="293.1" cy="334.8" r="2.1" fill="none" stroke="#f5aa1e" stroke-width="1.15"/>
<circle cx="293.1" cy="368.0" r="2.1" fill="none" stroke="#f5aa1e" stroke-width="1.15"/>
<path d="M289.6,351.4 L295.0,344.0 L303.7,346.8 L303.7,356.0 L295.0,358.8 Z M282.1,351.4 L288.0,351.4 M295.0,344.0 L293.5,337.0 M293.7,344.0 L292.2,337.0 M295.0,358.8 L293.5,365.8 M293.7,358.8 L292.2,365.8 M301.7,348.2 L301.7,354.6" fill="none" stroke="#f5aa1e" stroke-width="1.15" stroke-linejoin="round"/>
<rect x="287.3" y="348.7" width="4.6" height="5.4" fill="#fff"/>
<text x="289.6" y="354.0" font-size="7.2" font-weight="bold" fill="#f5aa1e" text-anchor="middle" font-family="Liberation Sans, Arial, sans-serif">N</text>
<path d="M316.6,353.4 L309.7,351.1 L309.7,343.9 L316.6,341.6" fill="none" stroke="#f5aa1e" stroke-width="1.15" stroke-linejoin="round"/>
<line x1="316.6" y1="353.4" x2="319.4" y2="349.6" stroke="#f5aa1e" stroke-width="1.15"/>
<line x1="316.6" y1="341.6" x2="319.4" y2="345.4" stroke="#f5aa1e" stroke-width="1.15"/>
<circle cx="320.9" cy="347.5" r="1.9" fill="none" stroke="#f5aa1e" stroke-width="1.15"/>
<line x1="315.0" y1="351.3" x2="312.2" y2="350.4" stroke="#f5aa1e" stroke-width="0.9"/>
<line x1="312.2" y1="344.6" x2="315.0" y2="343.7" stroke="#f5aa1e" stroke-width="0.9"/>
<path d="M159.2,296.7 L165.6,296.7 M165.6,296.7 L170.0,291.1 M165.6,296.7 L172.2,299.4 M170.0,291.1 L177.6,291.1 M172.2,299.4 L178.9,295.2 M177.6,291.1 L178.9,295.2 M177.6,291.1 L178.3,277.2 M178.9,295.2 L181.1,286.7 M178.3,277.2 L171.1,273.3 M178.3,277.2 L188.9,275.6 M188.9,275.6 L192.2,284.4 M192.2,284.4 L181.1,286.7 M181.1,286.7 L178.3,277.2 M170.0,291.1 L168.1,287.3 M171.1,290.6 L169.2,286.8 M172.2,299.4 L172.6,304.0 M171.0,299.5 L171.4,304.1 M187.8,277.2 L190.1,283.3 " fill="none" stroke="#3d7ee6" stroke-width="1.15" stroke-linejoin="round"/>
<circle cx="167.2" cy="285.4" r="2.1" fill="#fff" stroke="#3d7ee6" stroke-width="1.15"/>
<circle cx="172.8" cy="306.1" r="2.1" fill="#fff" stroke="#3d7ee6" stroke-width="1.15"/>
<circle cx="171.1" cy="273.3" r="2.1" fill="#fff" stroke="#3d7ee6" stroke-width="1.15"/>
<rect x="163.4" y="294.1" width="4.4" height="5.2" fill="#fff"/>
<text x="165.6" y="299.3" font-size="7" font-weight="bold" fill="#3d7ee6" text-anchor="middle" font-family="Liberation Sans, Arial, sans-serif">N</text>
<path d="M277.8,296.6 L287.8,296.6 M287.8,296.6 L292.2,291.0 M287.8,296.6 L294.4,299.3 M292.2,291.0 L299.8,291.0 M294.4,299.3 L301.1,295.1 M299.8,291.0 L301.1,295.1 M299.8,291.0 L301.6,277.1 M301.1,295.1 L298.8,286.6 M301.6,277.1 L310.3,273.7 M301.6,277.1 L291.0,275.5 M291.0,275.5 L287.7,284.3 M287.7,284.3 L298.8,286.6 M298.8,286.6 L301.6,277.1 M292.2,291.0 L290.3,287.2 M293.3,290.5 L291.4,286.7 M294.4,299.3 L294.8,303.9 M293.2,299.4 L293.6,304.0 M292.1,277.1 L289.8,283.2 " fill="none" stroke="#3cbcec" stroke-width="1.15" stroke-linejoin="round"/>
<circle cx="289.4" cy="285.3" r="2.1" fill="#fff" stroke="#3cbcec" stroke-width="1.15"/>
<circle cx="295.0" cy="306.0" r="2.1" fill="#fff" stroke="#3cbcec" stroke-width="1.15"/>
<circle cx="310.3" cy="273.7" r="2.1" fill="#fff" stroke="#3cbcec" stroke-width="1.15"/>
<rect x="285.6" y="294.0" width="4.4" height="5.2" fill="#fff"/>
<text x="287.8" y="299.2" font-size="7" font-weight="bold" fill="#3cbcec" text-anchor="middle" font-family="Liberation Sans, Arial, sans-serif">N</text>
<text transform="translate(309.2,237.6) scale(0.87,1)" font-size="14.4" stroke="#000" stroke-width="0.35" font-family="Liberation Sans, Arial, sans-serif">C</text>
<defs><linearGradient id="cbg" x1="0" y1="0" x2="0" y2="1"><stop offset="0" stop-color="#2c0c37"/><stop offset="0.2" stop-color="#36114a"/><stop offset="0.4" stop-color="#4e1c68"/><stop offset="0.52" stop-color="#6a2690"/><stop offset="0.68" stop-color="#8434ae"/><stop offset="0.85" stop-color="#9440bc"/><stop offset="1" stop-color="#9a45c2"/></linearGradient><radialGradient id="glow" cx="0.5" cy="0.5" r="0.5"><stop offset="0" stop-color="#f01830" stop-opacity="0.95"/><stop offset="0.45" stop-color="#e01c48" stop-opacity="0.65"/><stop offset="1" stop-color="#c02060" stop-opacity="0"/></radialGradient><radialGradient id="halo" cx="0.5" cy="0.5" r="0.5"><stop offset="0" stop-color="#c02a9a" stop-opacity="0.55"/><stop offset="0.6" stop-color="#a02aa8" stop-opacity="0.25"/><stop offset="1" stop-color="#9030b0" stop-opacity="0"/></radialGradient><linearGradient id="fade" x1="0" y1="0" x2="0" y2="1"><stop offset="0" stop-color="#fff" stop-opacity="0"/><stop offset="0.4" stop-color="#fff" stop-opacity="0"/><stop offset="1" stop-color="#fff" stop-opacity="1"/></linearGradient><clipPath id="cclip"><rect x="329" y="232" width="215.6" height="162.8"/></clipPath><mask id="lm"><rect x="329" y="232" width="216" height="163" fill="url(#fade)"/></mask><pattern id="lat" x="0" y="0" width="2.45" height="2.9" patternUnits="userSpaceOnUse"><circle cx="0.6" cy="0.7" r="0.62" fill="#e8a0ff" opacity="0.6"/><circle cx="1.82" cy="2.15" r="0.62" fill="#e8a0ff" opacity="0.6"/><circle cx="1.82" cy="0.7" r="0.62" fill="#400870" opacity="0.5"/><circle cx="0.6" cy="2.15" r="0.62" fill="#400870" opacity="0.5"/></pattern><radialGradient id="ball" cx="0.35" cy="0.35" r="0.7"><stop offset="0" stop-color="#ffffff"/><stop offset="1" stop-color="#9a9a9a"/></radialGradient><radialGradient id="oball" cx="0.35" cy="0.35" r="0.7"><stop offset="0" stop-color="#ffb070"/><stop offset="1" stop-color="#e04810"/></radialGradient><radialGradient id="nball" cx="0.35" cy="0.35" r="0.7"><stop offset="0" stop-color="#8090ff"/><stop offset="1" stop-color="#1020d0"/></radialGradient><radialGradient id="hball" cx="0.35" cy="0.35" r="0.7"><stop offset="0" stop-color="#a0fff0"/><stop offset="1" stop-color="#20c0b0"/></radialGradient></defs>
<rect x="329" y="232" width="215.60000000000002" height="162.8" fill="url(#cbg)"/>
<rect x="329" y="232" width="215.60000000000002" height="162.8" fill="url(#lat)" mask="url(#lm)"/>
<g clip-path="url(#cclip)"><ellipse cx="436" cy="345" rx="95" ry="62" fill="url(#halo)"/>
<ellipse cx="436" cy="348" rx="27" ry="38" fill="url(#glow)"/></g>
<path d="M329,359.5 L365.5,372.5 L329,385 Z" fill="#2a1430" opacity="0.6"/>
<circle cx="330.2" cy="360.9" r="1.15" fill="#161616"/>
<circle cx="330.2" cy="363.7" r="1.15" fill="#161616"/>
<circle cx="330.2" cy="366.5" r="1.15" fill="#161616"/>
<circle cx="330.2" cy="369.3" r="1.15" fill="#161616"/>
<circle cx="330.2" cy="372.1" r="1.15" fill="#161616"/>
<circle cx="330.2" cy="374.9" r="1.15" fill="#161616"/>
<circle cx="330.2" cy="377.7" r="1.15" fill="#161616"/>
<circle cx="330.2" cy="380.5" r="1.15" fill="#161616"/>
<circle cx="330.2" cy="383.3" r="1.15" fill="#161616"/>
<circle cx="332.6" cy="363.2" r="1.15" fill="#161616"/>
<circle cx="332.6" cy="366.0" r="1.15" fill="#161616"/>
<circle cx="332.6" cy="368.8" r="1.15" fill="#161616"/>
<circle cx="332.6" cy="371.6" r="1.15" fill="#161616"/>
<circle cx="332.6" cy="374.4" r="1.15" fill="#161616"/>
<circle cx="332.6" cy="377.2" r="1.15" fill="#161616"/>
<circle cx="332.6" cy="380.0" r="1.15" fill="#161616"/>
<circle cx="332.6" cy="382.8" r="1.15" fill="#161616"/>
<circle cx="335.0" cy="362.6" r="1.15" fill="#161616"/>
<circle cx="335.0" cy="365.4" r="1.15" fill="#161616"/>
<circle cx="335.0" cy="368.2" r="1.15" fill="#161616"/>
<circle cx="335.0" cy="371.0" r="1.15" fill="#161616"/>
<circle cx="335.0" cy="373.8" r="1.15" fill="#161616"/>
<circle cx="335.0" cy="376.6" r="1.15" fill="#161616"/>
<circle cx="335.0" cy="379.4" r="1.15" fill="#161616"/>
<circle cx="337.4" cy="364.9" r="1.15" fill="#161616"/>
<circle cx="337.4" cy="367.7" r="1.15" fill="#161616"/>
<circle cx="337.4" cy="370.5" r="1.15" fill="#161616"/>
<circle cx="337.4" cy="373.3" r="1.15" fill="#161616"/>
<circle cx="337.4" cy="376.1" r="1.15" fill="#161616"/>
<circle cx="337.4" cy="378.9" r="1.15" fill="#161616"/>
<circle cx="339.8" cy="364.3" r="1.15" fill="#161616"/>
<circle cx="339.8" cy="367.1" r="1.15" fill="#161616"/>
<circle cx="339.8" cy="369.9" r="1.15" fill="#161616"/>
<circle cx="339.8" cy="372.7" r="1.15" fill="#161616"/>
<circle cx="339.8" cy="375.5" r="1.15" fill="#161616"/>
<circle cx="339.8" cy="378.3" r="1.15" fill="#161616"/>
<circle cx="342.2" cy="366.6" r="1.15" fill="#161616"/>
<circle cx="342.2" cy="369.4" r="1.15" fill="#161616"/>
<circle cx="342.2" cy="372.2" r="1.15" fill="#161616"/>
<circle cx="342.2" cy="375.0" r="1.15" fill="#161616"/>
<circle cx="342.2" cy="377.8" r="1.15" fill="#161616"/>
<circle cx="344.6" cy="366.1" r="1.15" fill="#161616"/>
<circle cx="344.6" cy="368.9" r="1.15" fill="#161616"/>
<circle cx="344.6" cy="371.7" r="1.15" fill="#161616"/>
<circle cx="344.6" cy="374.5" r="1.15" fill="#161616"/>
<circle cx="344.6" cy="377.3" r="1.15" fill="#161616"/>
<circle cx="347.0" cy="368.3" r="1.15" fill="#161616"/>
<circle cx="347.0" cy="371.1" r="1.15" fill="#161616"/>
<circle cx="347.0" cy="373.9" r="1.15" fill="#161616"/>
<circle cx="347.0" cy="376.7" r="1.15" fill="#161616"/>
<circle cx="349.4" cy="367.8" r="1.15" fill="#161616"/>
<circle cx="349.4" cy="370.6" r="1.15" fill="#161616"/>
<circle cx="349.4" cy="373.4" r="1.15" fill="#161616"/>
<circle cx="349.4" cy="376.2" r="1.15" fill="#161616"/>
<circle cx="351.8" cy="370.0" r="1.15" fill="#161616"/>
<circle cx="351.8" cy="372.8" r="1.15" fill="#161616"/>
<circle cx="351.8" cy="375.6" r="1.15" fill="#161616"/>
<circle cx="354.2" cy="369.5" r="1.15" fill="#161616"/>
<circle cx="354.2" cy="372.3" r="1.15" fill="#161616"/>
<circle cx="354.2" cy="375.1" r="1.15" fill="#161616"/>
<circle cx="356.6" cy="371.7" r="1.15" fill="#161616"/>
<circle cx="356.6" cy="374.5" r="1.15" fill="#161616"/>
<circle cx="359.0" cy="371.2" r="1.15" fill="#161616"/>
<path d="M544.6,360 L507.5,372.5 L544.6,385 Z" fill="#2a1430" opacity="0.6"/>
<circle cx="543.4" cy="361.4" r="1.15" fill="#161616"/>
<circle cx="543.4" cy="364.2" r="1.15" fill="#161616"/>
<circle cx="543.4" cy="367.0" r="1.15" fill="#161616"/>
<circle cx="543.4" cy="369.8" r="1.15" fill="#161616"/>
<circle cx="543.4" cy="372.6" r="1.15" fill="#161616"/>
<circle cx="543.4" cy="375.4" r="1.15" fill="#161616"/>
<circle cx="543.4" cy="378.2" r="1.15" fill="#161616"/>
<circle cx="543.4" cy="381.0" r="1.15" fill="#161616"/>
<circle cx="541.0" cy="363.6" r="1.15" fill="#161616"/>
<circle cx="541.0" cy="366.4" r="1.15" fill="#161616"/>
<circle cx="541.0" cy="369.2" r="1.15" fill="#161616"/>
<circle cx="541.0" cy="372.0" r="1.15" fill="#161616"/>
<circle cx="541.0" cy="374.8" r="1.15" fill="#161616"/>
<circle cx="541.0" cy="377.6" r="1.15" fill="#161616"/>
<circle cx="541.0" cy="380.4" r="1.15" fill="#161616"/>
<circle cx="538.6" cy="363.0" r="1.15" fill="#161616"/>
<circle cx="538.6" cy="365.8" r="1.15" fill="#161616"/>
<circle cx="538.6" cy="368.6" r="1.15" fill="#161616"/>
<circle cx="538.6" cy="371.4" r="1.15" fill="#161616"/>
<circle cx="538.6" cy="374.2" r="1.15" fill="#161616"/>
<circle cx="538.6" cy="377.0" r="1.15" fill="#161616"/>
<circle cx="538.6" cy="379.8" r="1.15" fill="#161616"/>
<circle cx="536.2" cy="365.2" r="1.15" fill="#161616"/>
<circle cx="536.2" cy="368.0" r="1.15" fill="#161616"/>
<circle cx="536.2" cy="370.8" r="1.15" fill="#161616"/>
<circle cx="536.2" cy="373.6" r="1.15" fill="#161616"/>
<circle cx="536.2" cy="376.4" r="1.15" fill="#161616"/>
<circle cx="536.2" cy="379.2" r="1.15" fill="#161616"/>
<circle cx="533.8" cy="364.6" r="1.15" fill="#161616"/>
<circle cx="533.8" cy="367.4" r="1.15" fill="#161616"/>
<circle cx="533.8" cy="370.2" r="1.15" fill="#161616"/>
<circle cx="533.8" cy="373.0" r="1.15" fill="#161616"/>
<circle cx="533.8" cy="375.8" r="1.15" fill="#161616"/>
<circle cx="533.8" cy="378.6" r="1.15" fill="#161616"/>
<circle cx="531.4" cy="366.8" r="1.15" fill="#161616"/>
<circle cx="531.4" cy="369.6" r="1.15" fill="#161616"/>
<circle cx="531.4" cy="372.4" r="1.15" fill="#161616"/>
<circle cx="531.4" cy="375.2" r="1.15" fill="#161616"/>
<circle cx="531.4" cy="378.0" r="1.15" fill="#161616"/>
<circle cx="529.0" cy="366.3" r="1.15" fill="#161616"/>
<circle cx="529.0" cy="369.1" r="1.15" fill="#161616"/>
<circle cx="529.0" cy="371.9" r="1.15" fill="#161616"/>
<circle cx="529.0" cy="374.7" r="1.15" fill="#161616"/>
<circle cx="529.0" cy="377.5" r="1.15" fill="#161616"/>
<circle cx="526.6" cy="368.5" r="1.15" fill="#161616"/>
<circle cx="526.6" cy="371.3" r="1.15" fill="#161616"/>
<circle cx="526.6" cy="374.1" r="1.15" fill="#161616"/>
<circle cx="526.6" cy="376.9" r="1.15" fill="#161616"/>
<circle cx="524.2" cy="367.9" r="1.15" fill="#161616"/>
<circle cx="524.2" cy="370.7" r="1.15" fill="#161616"/>
<circle cx="524.2" cy="373.5" r="1.15" fill="#161616"/>
<circle cx="524.2" cy="376.3" r="1.15" fill="#161616"/>
<circle cx="521.8" cy="370.1" r="1.15" fill="#161616"/>
<circle cx="521.8" cy="372.9" r="1.15" fill="#161616"/>
<circle cx="521.8" cy="375.7" r="1.15" fill="#161616"/>
<circle cx="519.4" cy="369.5" r="1.15" fill="#161616"/>
<circle cx="519.4" cy="372.3" r="1.15" fill="#161616"/>
<circle cx="519.4" cy="375.1" r="1.15" fill="#161616"/>
<circle cx="517.0" cy="371.7" r="1.15" fill="#161616"/>
<circle cx="517.0" cy="374.5" r="1.15" fill="#161616"/>
<circle cx="514.6" cy="371.1" r="1.15" fill="#161616"/>
<circle cx="514.6" cy="373.9" r="1.15" fill="#161616"/>
<path d="M373.2,263.6 L410.5,254.1" stroke="#c7a6dc" stroke-width="3.0" opacity="0.55"/>
<path d="M373.4,264.5 L410.7,255.0 M373.0,262.7 L410.3,253.2" stroke="#e6d4f0" stroke-width="0.5" opacity="0.6"/>
<path d="M411.5,253.9 L406.6,257.1 L406.1,255.0 Z" fill="#f4eaff"/>
<path d="M372.2,263.8 L377.1,260.6 L377.6,262.7 Z" fill="#f4eaff"/>
<path d="M458.4,250.7 L506.0,264.0" stroke="#c7a6dc" stroke-width="3.0" opacity="0.55"/>
<path d="M458.2,251.6 L505.8,264.9 M458.6,249.8 L506.2,263.1" stroke="#e6d4f0" stroke-width="0.5" opacity="0.6"/>
<path d="M507.0,264.3 L501.2,264.6 L501.7,262.6 Z" fill="#f4eaff"/>
<path d="M457.4,250.4 L463.2,250.1 L462.7,252.1 Z" fill="#f4eaff"/>
<path d="M415.6,265.0 L371.1,302.8" stroke="#c7a6dc" stroke-width="3.0" opacity="0.55"/>
<path d="M415.0,264.3 L370.5,302.1 M416.2,265.7 L371.7,303.5" stroke="#e6d4f0" stroke-width="0.5" opacity="0.6"/>
<path d="M370.3,303.4 L373.3,298.4 L374.7,300.0 Z" fill="#f4eaff"/>
<path d="M416.4,264.4 L413.4,269.4 L412.0,267.8 Z" fill="#f4eaff"/>
<path d="M450.5,262.5 L496.5,302.5" stroke="#c7a6dc" stroke-width="3.0" opacity="0.55"/>
<path d="M449.9,263.2 L495.9,303.2 M451.1,261.8 L497.1,301.8" stroke="#e6d4f0" stroke-width="0.5" opacity="0.6"/>
<path d="M497.3,303.2 L491.9,301.0 L493.2,299.4 Z" fill="#f4eaff"/>
<path d="M449.7,261.8 L455.1,264.0 L453.8,265.6 Z" fill="#f4eaff"/>
<path d="M352.5,285.0 L352.5,301.0" stroke="#c7a6dc" stroke-width="3.0" opacity="0.55"/>
<path d="M351.6,285.0 L351.6,301.0 M353.4,285.0 L353.4,301.0" stroke="#e6d4f0" stroke-width="0.5" opacity="0.6"/>
<path d="M352.5,302.0 L350.6,296.5 L352.7,296.5 Z" fill="#f4eaff"/>
<path d="M352.5,284.0 L354.4,289.5 L352.3,289.5 Z" fill="#f4eaff"/>
<path d="M522.2,286.0 L522.2,302.0" stroke="#c7a6dc" stroke-width="3.0" opacity="0.55"/>
<path d="M521.3,286.0 L521.3,302.0 M523.1,286.0 L523.1,302.0" stroke="#e6d4f0" stroke-width="0.5" opacity="0.6"/>
<path d="M522.2,303.0 L520.3,297.5 L522.4,297.5 Z" fill="#f4eaff"/>
<path d="M522.2,285.0 L524.1,290.5 L522.0,290.5 Z" fill="#f4eaff"/>
<path d="M375.6,311.7 L495.6,311.7" stroke="#c7a6dc" stroke-width="3.0" opacity="0.55"/>
<path d="M375.6,312.6 L495.6,312.6 M375.6,310.8 L495.6,310.8" stroke="#e6d4f0" stroke-width="0.5" opacity="0.6"/>
<path d="M496.6,311.7 L491.1,313.6 L491.1,311.5 Z" fill="#f4eaff"/>
<path d="M374.6,311.7 L380.1,309.8 L380.1,311.9 Z" fill="#f4eaff"/>
<path d="M370.2,321.6 L418.5,335.6" stroke="#c7a6dc" stroke-width="3.0" opacity="0.55"/>
<path d="M369.9,322.5 L418.2,336.5 M370.5,320.7 L418.8,334.7" stroke="#e6d4f0" stroke-width="0.5" opacity="0.6"/>
<path d="M419.5,335.9 L413.6,336.2 L414.2,334.2 Z" fill="#f4eaff"/>
<path d="M369.2,321.3 L375.1,321.0 L374.5,323.0 Z" fill="#f4eaff"/>
<path d="M495.0,323.0 L451.6,335.6" stroke="#c7a6dc" stroke-width="3.0" opacity="0.55"/>
<path d="M494.7,322.1 L451.3,334.7 M495.3,323.9 L451.9,336.5" stroke="#e6d4f0" stroke-width="0.5" opacity="0.6"/>
<path d="M450.6,335.9 L455.4,332.5 L456.0,334.5 Z" fill="#f4eaff"/>
<path d="M496.0,322.7 L491.2,326.1 L490.6,324.1 Z" fill="#f4eaff"/>
<line x1="417.9" y1="253.9" x2="425.0" y2="253.9" stroke="#d0d0d0" stroke-width="1.5"/>
<line x1="425.0" y1="253.9" x2="429.3" y2="248.3" stroke="#d0d0d0" stroke-width="1.5"/>
<line x1="429.3" y1="248.3" x2="426.3" y2="243.7" stroke="#d0d0d0" stroke-width="1.5"/>
<line x1="429.3" y1="248.3" x2="435.9" y2="250.6" stroke="#d0d0d0" stroke-width="1.5"/>
<line x1="435.9" y1="250.6" x2="436.2" y2="257.9" stroke="#d0d0d0" stroke-width="1.5"/>
<line x1="436.2" y1="257.9" x2="429.8" y2="259.7" stroke="#d0d0d0" stroke-width="1.5"/>
<line x1="429.8" y1="259.7" x2="425.0" y2="253.9" stroke="#d0d0d0" stroke-width="1.5"/>
<line x1="429.8" y1="259.7" x2="426.8" y2="264.4" stroke="#d0d0d0" stroke-width="1.5"/>
<line x1="435.9" y1="250.6" x2="441.1" y2="246.6" stroke="#d0d0d0" stroke-width="1.5"/>
<line x1="441.1" y1="246.6" x2="440.6" y2="239.4" stroke="#d0d0d0" stroke-width="1.5"/>
<line x1="440.6" y1="239.4" x2="447.5" y2="236.6" stroke="#d0d0d0" stroke-width="1.5"/>
<line x1="447.5" y1="236.6" x2="452.5" y2="242.6" stroke="#d0d0d0" stroke-width="1.5"/>
<line x1="452.5" y1="242.6" x2="448.0" y2="249.3" stroke="#d0d0d0" stroke-width="1.5"/>
<line x1="448.0" y1="249.3" x2="441.1" y2="246.6" stroke="#d0d0d0" stroke-width="1.5"/>
<circle cx="417.9" cy="253.9" r="2.05" fill="url(#ball)" stroke="#444" stroke-width="0.3"/>
<circle cx="425.0" cy="253.9" r="2.05" fill="url(#nball)" stroke="#444" stroke-width="0.3"/>
<circle cx="429.3" cy="248.3" r="2.05" fill="url(#ball)" stroke="#444" stroke-width="0.3"/>
<circle cx="426.3" cy="243.7" r="2.05" fill="url(#oball)" stroke="#444" stroke-width="0.3"/>
<circle cx="435.9" cy="250.6" r="2.05" fill="url(#ball)" stroke="#444" stroke-width="0.3"/>
<circle cx="436.2" cy="257.9" r="2.05" fill="url(#ball)" stroke="#444" stroke-width="0.3"/>
<circle cx="429.8" cy="259.7" r="2.05" fill="url(#ball)" stroke="#444" stroke-width="0.3"/>
<circle cx="426.8" cy="264.4" r="2.05" fill="url(#oball)" stroke="#444" stroke-width="0.3"/>
<circle cx="441.1" cy="246.6" r="2.05" fill="url(#ball)" stroke="#444" stroke-width="0.3"/>
<circle cx="440.6" cy="239.4" r="2.05" fill="url(#ball)" stroke="#444" stroke-width="0.3"/>
<circle cx="447.5" cy="236.6" r="2.05" fill="url(#ball)" stroke="#444" stroke-width="0.3"/>
<circle cx="452.5" cy="242.6" r="2.05" fill="url(#ball)" stroke="#444" stroke-width="0.3"/>
<circle cx="448.0" cy="249.3" r="2.05" fill="url(#oball)" stroke="#444" stroke-width="0.3"/>
<circle cx="446.1" cy="243.1" r="2" fill="none" stroke="#d0c0d8" stroke-width="0.7"/><circle cx="446.1" cy="243.1" r="0.5" fill="#d0c0d8"/><circle cx="433.7" cy="264.1" r="2.2" fill="none" stroke="#d0c0d8" stroke-width="0.7"/><line x1="432.6" y1="264.1" x2="434.8" y2="264.1" stroke="#d0c0d8" stroke-width="0.7"/>
<line x1="339.9" y1="275.9" x2="347.0" y2="273.7" stroke="#d0d0d0" stroke-width="1.5"/>
<line x1="347.0" y1="273.7" x2="349.3" y2="269.3" stroke="#d0d0d0" stroke-width="1.5"/>
<line x1="349.3" y1="269.3" x2="344.8" y2="268.3" stroke="#d0d0d0" stroke-width="1.5"/>
<line x1="347.0" y1="273.7" x2="352.7" y2="275.5" stroke="#d0d0d0" stroke-width="1.5"/>
<line x1="352.7" y1="275.5" x2="350.8" y2="278.7" stroke="#d0d0d0" stroke-width="1.5"/>
<line x1="349.3" y1="269.3" x2="356.2" y2="268.3" stroke="#d0d0d0" stroke-width="1.5"/>
<line x1="352.7" y1="275.5" x2="358.7" y2="272.7" stroke="#d0d0d0" stroke-width="1.5"/>
<line x1="356.2" y1="268.3" x2="358.7" y2="272.7" stroke="#d0d0d0" stroke-width="1.5"/>
<line x1="356.2" y1="268.3" x2="355.7" y2="261.4" stroke="#d0d0d0" stroke-width="1.5"/>
<line x1="355.7" y1="261.4" x2="363.6" y2="259.9" stroke="#d0d0d0" stroke-width="1.5"/>
<line x1="363.6" y1="259.9" x2="366.0" y2="264.3" stroke="#d0d0d0" stroke-width="1.5"/>
<line x1="366.0" y1="264.3" x2="359.6" y2="267.8" stroke="#d0d0d0" stroke-width="1.5"/>
<line x1="359.6" y1="267.8" x2="358.7" y2="272.7" stroke="#d0d0d0" stroke-width="1.5"/>
<line x1="355.7" y1="261.4" x2="352.2" y2="262.6" stroke="#d0d0d0" stroke-width="1.5"/>
<line x1="352.2" y1="262.6" x2="356.2" y2="268.3" stroke="#d0d0d0" stroke-width="1.5"/>
<circle cx="339.9" cy="275.9" r="2.05" fill="url(#ball)" stroke="#444" stroke-width="0.3"/>
<circle cx="347.0" cy="273.7" r="2.05" fill="url(#nball)" stroke="#444" stroke-width="0.3"/>
<circle cx="349.3" cy="269.3" r="2.05" fill="url(#ball)" stroke="#444" stroke-width="0.3"/>
<circle cx="344.8" cy="268.3" r="2.05" fill="url(#oball)" stroke="#444" stroke-width="0.3"/>
<circle cx="352.7" cy="275.5" r="2.05" fill="url(#ball)" stroke="#444" stroke-width="0.3"/>
<circle cx="350.8" cy="278.7" r="2.05" fill="url(#oball)" stroke="#444" stroke-width="0.3"/>
<circle cx="356.2" cy="268.3" r="2.05" fill="url(#ball)" stroke="#444" stroke-width="0.3"/>
<circle cx="358.7" cy="272.7" r="2.05" fill="url(#ball)" stroke="#444" stroke-width="0.3"/>
<circle cx="355.7" cy="261.4" r="2.05" fill="url(#ball)" stroke="#444" stroke-width="0.3"/>
<circle cx="363.6" cy="259.9" r="2.05" fill="url(#ball)" stroke="#444" stroke-width="0.3"/>
<circle cx="366.0" cy="264.3" r="2.05" fill="url(#ball)" stroke="#444" stroke-width="0.3"/>
<circle cx="359.6" cy="267.8" r="2.05" fill="url(#ball)" stroke="#444" stroke-width="0.3"/>
<circle cx="352.2" cy="262.6" r="2.05" fill="url(#oball)" stroke="#444" stroke-width="0.3"/>
<line x1="507.4" y1="277.6" x2="514.1" y2="275.7" stroke="#d0d0d0" stroke-width="1.5"/>
<line x1="514.1" y1="275.7" x2="516.7" y2="271.7" stroke="#d0d0d0" stroke-width="1.5"/>
<line x1="516.7" y1="271.7" x2="512.2" y2="270.6" stroke="#d0d0d0" stroke-width="1.5"/>
<line x1="514.1" y1="275.7" x2="519.4" y2="276.6" stroke="#d0d0d0" stroke-width="1.5"/>
<line x1="519.4" y1="276.6" x2="517.8" y2="279.4" stroke="#d0d0d0" stroke-width="1.5"/>
<line x1="516.7" y1="271.7" x2="523.3" y2="270.9" stroke="#d0d0d0" stroke-width="1.5"/>
<line x1="519.4" y1="276.6" x2="525.6" y2="273.9" stroke="#d0d0d0" stroke-width="1.5"/>
<line x1="523.3" y1="270.9" x2="525.6" y2="273.9" stroke="#d0d0d0" stroke-width="1.5"/>
<line x1="525.6" y1="273.9" x2="525.9" y2="268.3" stroke="#d0d0d0" stroke-width="1.5"/>
<line x1="523.3" y1="270.9" x2="520.0" y2="265.4" stroke="#d0d0d0" stroke-width="1.5"/>
<line x1="525.9" y1="268.3" x2="523.0" y2="263.5" stroke="#d0d0d0" stroke-width="1.5"/>
<line x1="523.0" y1="263.5" x2="520.0" y2="265.4" stroke="#d0d0d0" stroke-width="1.5"/>
<line x1="520.0" y1="265.4" x2="518.1" y2="261.7" stroke="#d0d0d0" stroke-width="1.5"/>
<line x1="523.0" y1="263.5" x2="518.1" y2="261.7" stroke="#d0d0d0" stroke-width="1.5"/>
<line x1="525.9" y1="268.3" x2="531.5" y2="264.6" stroke="#d0d0d0" stroke-width="1.5"/>
<line x1="531.5" y1="264.6" x2="523.0" y2="263.5" stroke="#d0d0d0" stroke-width="1.5"/>
<circle cx="507.4" cy="277.6" r="2.05" fill="url(#ball)" stroke="#444" stroke-width="0.3"/>
<circle cx="514.1" cy="275.7" r="2.05" fill="url(#nball)" stroke="#444" stroke-width="0.3"/>
<circle cx="516.7" cy="271.7" r="2.05" fill="url(#ball)" stroke="#444" stroke-width="0.3"/>
<circle cx="512.2" cy="270.6" r="2.05" fill="url(#oball)" stroke="#444" stroke-width="0.3"/>
<circle cx="519.4" cy="276.6" r="2.05" fill="url(#ball)" stroke="#444" stroke-width="0.3"/>
<circle cx="517.8" cy="279.4" r="2.05" fill="url(#oball)" stroke="#444" stroke-width="0.3"/>
<circle cx="523.3" cy="270.9" r="2.05" fill="url(#ball)" stroke="#444" stroke-width="0.3"/>
<circle cx="525.6" cy="273.9" r="2.05" fill="url(#ball)" stroke="#444" stroke-width="0.3"/>
<circle cx="525.9" cy="268.3" r="2.05" fill="url(#ball)" stroke="#444" stroke-width="0.3"/>
<circle cx="523.0" cy="263.5" r="2.05" fill="url(#ball)" stroke="#444" stroke-width="0.3"/>
<circle cx="520.0" cy="265.4" r="2.05" fill="url(#ball)" stroke="#444" stroke-width="0.3"/>
<circle cx="518.1" cy="261.7" r="2.05" fill="url(#ball)" stroke="#444" stroke-width="0.3"/>
<circle cx="531.5" cy="264.6" r="2.05" fill="url(#oball)" stroke="#444" stroke-width="0.3"/>
<line x1="334.4" y1="318.5" x2="341.9" y2="318.5" stroke="#d0d0d0" stroke-width="1.5"/>
<line x1="341.9" y1="318.5" x2="345.8" y2="312.8" stroke="#d0d0d0" stroke-width="1.5"/>
<line x1="345.8" y1="312.8" x2="342.4" y2="307.8" stroke="#d0d0d0" stroke-width="1.5"/>
<line x1="345.8" y1="312.8" x2="352.2" y2="314.8" stroke="#d0d0d0" stroke-width="1.5"/>
<line x1="352.2" y1="314.8" x2="352.2" y2="321.5" stroke="#d0d0d0" stroke-width="1.5"/>
<line x1="352.2" y1="321.5" x2="346.3" y2="323.7" stroke="#d0d0d0" stroke-width="1.5"/>
<line x1="346.3" y1="323.7" x2="341.9" y2="318.5" stroke="#d0d0d0" stroke-width="1.5"/>
<line x1="346.3" y1="323.7" x2="343.3" y2="328.6" stroke="#d0d0d0" stroke-width="1.5"/>
<circle cx="334.4" cy="318.5" r="2.05" fill="url(#ball)" stroke="#444" stroke-width="0.3"/>
<circle cx="341.9" cy="318.5" r="2.05" fill="url(#nball)" stroke="#444" stroke-width="0.3"/>
<circle cx="345.8" cy="312.8" r="2.05" fill="url(#ball)" stroke="#444" stroke-width="0.3"/>
<circle cx="342.4" cy="307.8" r="2.05" fill="url(#oball)" stroke="#444" stroke-width="0.3"/>
<circle cx="352.2" cy="314.8" r="2.05" fill="url(#ball)" stroke="#444" stroke-width="0.3"/>
<circle cx="352.2" cy="321.5" r="2.05" fill="url(#ball)" stroke="#444" stroke-width="0.3"/>
<circle cx="346.3" cy="323.7" r="2.05" fill="url(#ball)" stroke="#444" stroke-width="0.3"/>
<circle cx="343.3" cy="328.6" r="2.05" fill="url(#oball)" stroke="#444" stroke-width="0.3"/>
<line x1="356.6" y1="308.9" x2="361.4" y2="304.5" stroke="#d0d0d0" stroke-width="1.5"/>
<line x1="361.4" y1="304.5" x2="367.0" y2="307.8" stroke="#d0d0d0" stroke-width="1.5"/>
<line x1="367.0" y1="307.8" x2="365.7" y2="314.1" stroke="#d0d0d0" stroke-width="1.5"/>
<line x1="365.7" y1="314.1" x2="359.2" y2="314.8" stroke="#d0d0d0" stroke-width="1.5"/>
<line x1="359.2" y1="314.8" x2="356.6" y2="308.9" stroke="#d0d0d0" stroke-width="1.5"/>
<circle cx="356.6" cy="308.9" r="2.05" fill="url(#oball)" stroke="#444" stroke-width="0.3"/>
<circle cx="361.4" cy="304.5" r="2.05" fill="url(#ball)" stroke="#444" stroke-width="0.3"/>
<circle cx="367.0" cy="307.8" r="2.05" fill="url(#ball)" stroke="#444" stroke-width="0.3"/>
<circle cx="365.7" cy="314.1" r="2.05" fill="url(#ball)" stroke="#444" stroke-width="0.3"/>
<circle cx="359.2" cy="314.8" r="2.05" fill="url(#ball)" stroke="#444" stroke-width="0.3"/>
<line x1="502.2" y1="316.7" x2="508.9" y2="316.7" stroke="#d0d0d0" stroke-width="1.5"/>
<line x1="508.9" y1="316.7" x2="512.8" y2="311.0" stroke="#d0d0d0" stroke-width="1.5"/>
<line x1="512.8" y1="311.0" x2="510.8" y2="306.7" stroke="#d0d0d0" stroke-width="1.5"/>
<line x1="512.8" y1="311.0" x2="519.2" y2="313.0" stroke="#d0d0d0" stroke-width="1.5"/>
<line x1="519.2" y1="313.0" x2="519.2" y2="319.7" stroke="#d0d0d0" stroke-width="1.5"/>
<line x1="519.2" y1="319.7" x2="513.3" y2="322.5" stroke="#d0d0d0" stroke-width="1.5"/>
<line x1="513.3" y1="322.5" x2="508.9" y2="316.7" stroke="#d0d0d0" stroke-width="1.5"/>
<line x1="513.3" y1="322.5" x2="511.0" y2="327.6" stroke="#d0d0d0" stroke-width="1.5"/>
<circle cx="502.2" cy="316.7" r="2.05" fill="url(#ball)" stroke="#444" stroke-width="0.3"/>
<circle cx="508.9" cy="316.7" r="2.05" fill="url(#nball)" stroke="#444" stroke-width="0.3"/>
<circle cx="512.8" cy="311.0" r="2.05" fill="url(#ball)" stroke="#444" stroke-width="0.3"/>
<circle cx="510.8" cy="306.7" r="2.05" fill="url(#oball)" stroke="#444" stroke-width="0.3"/>
<circle cx="519.2" cy="313.0" r="2.05" fill="url(#ball)" stroke="#444" stroke-width="0.3"/>
<circle cx="519.2" cy="319.7" r="2.05" fill="url(#ball)" stroke="#444" stroke-width="0.3"/>
<circle cx="513.3" cy="322.5" r="2.05" fill="url(#ball)" stroke="#444" stroke-width="0.3"/>
<circle cx="511.0" cy="327.6" r="2.05" fill="url(#oball)" stroke="#444" stroke-width="0.3"/>
<line x1="535.5" y1="314.4" x2="531.7" y2="319.6" stroke="#d0d0d0" stroke-width="1.5"/>
<line x1="531.7" y1="319.6" x2="525.6" y2="317.6" stroke="#d0d0d0" stroke-width="1.5"/>
<line x1="525.6" y1="317.6" x2="525.6" y2="311.2" stroke="#d0d0d0" stroke-width="1.5"/>
<line x1="525.6" y1="311.2" x2="531.7" y2="309.2" stroke="#d0d0d0" stroke-width="1.5"/>
<line x1="531.7" y1="309.2" x2="535.5" y2="314.4" stroke="#d0d0d0" stroke-width="1.5"/>
<circle cx="535.5" cy="314.4" r="2.05" fill="url(#oball)" stroke="#444" stroke-width="0.3"/>
<circle cx="531.7" cy="319.6" r="2.05" fill="url(#ball)" stroke="#444" stroke-width="0.3"/>
<circle cx="525.6" cy="317.6" r="2.05" fill="url(#ball)" stroke="#444" stroke-width="0.3"/>
<circle cx="525.6" cy="311.2" r="2.05" fill="url(#ball)" stroke="#444" stroke-width="0.3"/>
<circle cx="531.7" cy="309.2" r="2.05" fill="url(#ball)" stroke="#444" stroke-width="0.3"/>
<line x1="387.1" y1="341.2" x2="382.8" y2="336.7" stroke="#d0d0d0" stroke-width="1.5"/>
<line x1="382.8" y1="336.7" x2="385.7" y2="331.2" stroke="#d0d0d0" stroke-width="1.5"/>
<line x1="385.7" y1="331.2" x2="391.8" y2="332.3" stroke="#d0d0d0" stroke-width="1.5"/>
<line x1="391.8" y1="332.3" x2="392.7" y2="338.5" stroke="#d0d0d0" stroke-width="1.5"/>
<line x1="392.7" y1="338.5" x2="387.1" y2="341.2" stroke="#d0d0d0" stroke-width="1.5"/>
<circle cx="387.1" cy="341.2" r="2.05" fill="url(#oball)" stroke="#444" stroke-width="0.3"/>
<circle cx="382.8" cy="336.7" r="2.05" fill="url(#ball)" stroke="#444" stroke-width="0.3"/>
<circle cx="385.7" cy="331.2" r="2.05" fill="url(#ball)" stroke="#444" stroke-width="0.3"/>
<circle cx="391.8" cy="332.3" r="2.05" fill="url(#ball)" stroke="#444" stroke-width="0.3"/>
<circle cx="392.7" cy="338.5" r="2.05" fill="url(#ball)" stroke="#444" stroke-width="0.3"/>
<line x1="476.5" y1="343.5" x2="473.0" y2="338.3" stroke="#d0d0d0" stroke-width="1.5"/>
<line x1="473.0" y1="338.3" x2="476.8" y2="333.4" stroke="#d0d0d0" stroke-width="1.5"/>
<line x1="476.8" y1="333.4" x2="482.7" y2="335.5" stroke="#d0d0d0" stroke-width="1.5"/>
<line x1="482.7" y1="335.5" x2="482.5" y2="341.8" stroke="#d0d0d0" stroke-width="1.5"/>
<line x1="482.5" y1="341.8" x2="476.5" y2="343.5" stroke="#d0d0d0" stroke-width="1.5"/>
<circle cx="476.5" cy="343.5" r="2.05" fill="url(#oball)" stroke="#444" stroke-width="0.3"/>
<circle cx="473.0" cy="338.3" r="2.05" fill="url(#ball)" stroke="#444" stroke-width="0.3"/>
<circle cx="476.8" cy="333.4" r="2.05" fill="url(#ball)" stroke="#444" stroke-width="0.3"/>
<circle cx="482.7" cy="335.5" r="2.05" fill="url(#ball)" stroke="#444" stroke-width="0.3"/>
<circle cx="482.5" cy="341.8" r="2.05" fill="url(#ball)" stroke="#444" stroke-width="0.3"/>
<line x1="436.5" y1="343.3" x2="432.5" y2="337.7" stroke="#d0d0d0" stroke-width="1.5"/>
<line x1="432.5" y1="337.7" x2="437.3" y2="332.0" stroke="#d0d0d0" stroke-width="1.5"/>
<line x1="437.3" y1="332.0" x2="442.9" y2="335.2" stroke="#d0d0d0" stroke-width="1.5"/>
<line x1="442.9" y1="335.2" x2="443.7" y2="340.5" stroke="#d0d0d0" stroke-width="1.5"/>
<line x1="443.7" y1="340.5" x2="436.5" y2="343.3" stroke="#d0d0d0" stroke-width="1.5"/>
<line x1="432.5" y1="337.7" x2="426.9" y2="338.5" stroke="#d0d0d0" stroke-width="1.5"/>
<line x1="443.7" y1="340.5" x2="446.9" y2="345.7" stroke="#d0d0d0" stroke-width="1.5"/>
<line x1="436.5" y1="343.3" x2="434.0" y2="349.0" stroke="#d0d0d0" stroke-width="1.5"/>
<line x1="434.0" y1="349.0" x2="438.0" y2="353.7" stroke="#d0d0d0" stroke-width="1.5"/>
<line x1="438.0" y1="353.7" x2="434.9" y2="359.3" stroke="#d0d0d0" stroke-width="1.5"/>
<line x1="434.9" y1="359.3" x2="438.9" y2="363.3" stroke="#d0d0d0" stroke-width="1.5"/>
<line x1="438.9" y1="363.3" x2="437.3" y2="367.4" stroke="#d0d0d0" stroke-width="1.5"/>
<line x1="437.3" y1="367.4" x2="436.5" y2="371.0" stroke="#d0d0d0" stroke-width="1.5"/>
<circle cx="436.5" cy="343.3" r="2.05" fill="url(#nball)" stroke="#444" stroke-width="0.3"/>
<circle cx="432.5" cy="337.7" r="2.05" fill="url(#ball)" stroke="#444" stroke-width="0.3"/>
<circle cx="437.3" cy="332.0" r="2.05" fill="url(#ball)" stroke="#444" stroke-width="0.3"/>
<circle cx="442.9" cy="335.2" r="2.05" fill="url(#ball)" stroke="#444" stroke-width="0.3"/>
<circle cx="443.7" cy="340.5" r="2.05" fill="url(#ball)" stroke="#444" stroke-width="0.3"/>
<circle cx="426.9" cy="338.5" r="2.05" fill="url(#oball)" stroke="#444" stroke-width="0.3"/>
<circle cx="446.9" cy="345.7" r="2.05" fill="url(#oball)" stroke="#444" stroke-width="0.3"/>
<circle cx="434.0" cy="349.0" r="2.05" fill="url(#ball)" stroke="#444" stroke-width="0.3"/>
<circle cx="438.0" cy="353.7" r="2.05" fill="url(#ball)" stroke="#444" stroke-width="0.3"/>
<circle cx="434.9" cy="359.3" r="2.05" fill="url(#ball)" stroke="#444" stroke-width="0.3"/>
<circle cx="438.9" cy="363.3" r="2.05" fill="url(#ball)" stroke="#444" stroke-width="0.3"/>
<circle cx="437.3" cy="367.4" r="2.05" fill="url(#ball)" stroke="#444" stroke-width="0.3"/>
<circle cx="436.5" cy="371.0" r="2.05" fill="url(#nball)" stroke="#444" stroke-width="0.3"/>
<path d="M367.3,372.5 L374.5,368.1 L381.8,371 M394.2,371.5 L400.7,374 M413.1,375 L420.3,377 M452.4,377.5 L460,375 M472.4,374 L478.9,371.5 M491.3,371 L499,368.1 L505,372.5" stroke="#dcdcdc" stroke-width="1.2" fill="none"/>
<path d="M394.2,371.0 L391.1,376.4 L384.9,376.4 L381.8,371.0 L384.9,365.6 L391.1,365.6 Z" fill="#d9a2ea" fill-opacity="0.75" stroke="#e8e8e8" stroke-width="1.1"/>
<circle cx="394.2" cy="371.0" r="1.05" fill="#f0f0f0" stroke="#777" stroke-width="0.2"/>
<circle cx="391.1" cy="376.4" r="1.05" fill="#f0f0f0" stroke="#777" stroke-width="0.2"/>
<circle cx="384.9" cy="376.4" r="1.05" fill="#f0f0f0" stroke="#777" stroke-width="0.2"/>
<circle cx="381.8" cy="371.0" r="1.05" fill="#f0f0f0" stroke="#777" stroke-width="0.2"/>
<circle cx="384.9" cy="365.6" r="1.05" fill="#f0f0f0" stroke="#777" stroke-width="0.2"/>
<circle cx="391.1" cy="365.6" r="1.05" fill="#f0f0f0" stroke="#777" stroke-width="0.2"/>
<path d="M413.1,374.6 L410.0,380.0 L403.8,380.0 L400.7,374.6 L403.8,369.2 L410.0,369.2 Z" fill="#d9a2ea" fill-opacity="0.75" stroke="#e8e8e8" stroke-width="1.1"/>
<circle cx="413.1" cy="374.6" r="1.05" fill="#f0f0f0" stroke="#777" stroke-width="0.2"/>
<circle cx="410.0" cy="380.0" r="1.05" fill="#f0f0f0" stroke="#777" stroke-width="0.2"/>
<circle cx="403.8" cy="380.0" r="1.05" fill="#f0f0f0" stroke="#777" stroke-width="0.2"/>
<circle cx="400.7" cy="374.6" r="1.05" fill="#f0f0f0" stroke="#777" stroke-width="0.2"/>
<circle cx="403.8" cy="369.2" r="1.05" fill="#f0f0f0" stroke="#777" stroke-width="0.2"/>
<circle cx="410.0" cy="369.2" r="1.05" fill="#f0f0f0" stroke="#777" stroke-width="0.2"/>
<path d="M432.7,377.5 L429.6,382.9 L423.4,382.9 L420.3,377.5 L423.4,372.1 L429.6,372.1 Z" fill="#d9a2ea" fill-opacity="0.75" stroke="#e8e8e8" stroke-width="1.1"/>
<circle cx="432.7" cy="377.5" r="1.05" fill="#f0f0f0" stroke="#777" stroke-width="0.2"/>
<circle cx="429.6" cy="382.9" r="1.05" fill="#f0f0f0" stroke="#777" stroke-width="0.2"/>
<circle cx="423.4" cy="382.9" r="1.05" fill="#f0f0f0" stroke="#777" stroke-width="0.2"/>
<circle cx="420.3" cy="377.5" r="1.05" fill="#f0f0f0" stroke="#777" stroke-width="0.2"/>
<circle cx="423.4" cy="372.1" r="1.05" fill="#f0f0f0" stroke="#777" stroke-width="0.2"/>
<circle cx="429.6" cy="372.1" r="1.05" fill="#f0f0f0" stroke="#777" stroke-width="0.2"/>
<path d="M452.4,378.0 L449.3,383.4 L443.1,383.4 L440.0,378.0 L443.1,372.6 L449.3,372.6 Z" fill="#d9a2ea" fill-opacity="0.75" stroke="#e8e8e8" stroke-width="1.1"/>
<circle cx="452.4" cy="378.0" r="1.05" fill="#f0f0f0" stroke="#777" stroke-width="0.2"/>
<circle cx="449.3" cy="383.4" r="1.05" fill="#f0f0f0" stroke="#777" stroke-width="0.2"/>
<circle cx="443.1" cy="383.4" r="1.05" fill="#f0f0f0" stroke="#777" stroke-width="0.2"/>
<circle cx="440.0" cy="378.0" r="1.05" fill="#f0f0f0" stroke="#777" stroke-width="0.2"/>
<circle cx="443.1" cy="372.6" r="1.05" fill="#f0f0f0" stroke="#777" stroke-width="0.2"/>
<circle cx="449.3" cy="372.6" r="1.05" fill="#f0f0f0" stroke="#777" stroke-width="0.2"/>
<path d="M472.4,374.6 L469.3,380.0 L463.1,380.0 L460.0,374.6 L463.1,369.2 L469.3,369.2 Z" fill="#d9a2ea" fill-opacity="0.75" stroke="#e8e8e8" stroke-width="1.1"/>
<circle cx="472.4" cy="374.6" r="1.05" fill="#f0f0f0" stroke="#777" stroke-width="0.2"/>
<circle cx="469.3" cy="380.0" r="1.05" fill="#f0f0f0" stroke="#777" stroke-width="0.2"/>
<circle cx="463.1" cy="380.0" r="1.05" fill="#f0f0f0" stroke="#777" stroke-width="0.2"/>
<circle cx="460.0" cy="374.6" r="1.05" fill="#f0f0f0" stroke="#777" stroke-width="0.2"/>
<circle cx="463.1" cy="369.2" r="1.05" fill="#f0f0f0" stroke="#777" stroke-width="0.2"/>
<circle cx="469.3" cy="369.2" r="1.05" fill="#f0f0f0" stroke="#777" stroke-width="0.2"/>
<path d="M491.3,371.0 L488.2,376.4 L482.0,376.4 L478.9,371.0 L482.0,365.6 L488.2,365.6 Z" fill="#d9a2ea" fill-opacity="0.75" stroke="#e8e8e8" stroke-width="1.1"/>
<circle cx="491.3" cy="371.0" r="1.05" fill="#f0f0f0" stroke="#777" stroke-width="0.2"/>
<circle cx="488.2" cy="376.4" r="1.05" fill="#f0f0f0" stroke="#777" stroke-width="0.2"/>
<circle cx="482.0" cy="376.4" r="1.05" fill="#f0f0f0" stroke="#777" stroke-width="0.2"/>
<circle cx="478.9" cy="371.0" r="1.05" fill="#f0f0f0" stroke="#777" stroke-width="0.2"/>
<circle cx="482.0" cy="365.6" r="1.05" fill="#f0f0f0" stroke="#777" stroke-width="0.2"/>
<circle cx="488.2" cy="365.6" r="1.05" fill="#f0f0f0" stroke="#777" stroke-width="0.2"/>
<path d="M431.5,373.5 L436.4,370.3 L441.2,373.8 L439.5,380 L433,380 Z" fill="#d9a2ea" fill-opacity="0.6" stroke="#dcdcdc" stroke-width="1.2"/>
<circle cx="436.5" cy="371.0" r="2.05" fill="url(#nball)" stroke="#444" stroke-width="0.3"/>
<line x1="367.3" y1="372.5" x2="374.5" y2="368.1" stroke="#d0d0d0" stroke-width="1.5"/>
<line x1="374.5" y1="368.1" x2="373.7" y2="364.3" stroke="#d0d0d0" stroke-width="1.5"/>
<line x1="367.3" y1="372.5" x2="371.6" y2="377.7" stroke="#d0d0d0" stroke-width="1.5"/>
<line x1="499.0" y1="368.1" x2="498.8" y2="363.7" stroke="#d0d0d0" stroke-width="1.5"/>
<line x1="505.0" y1="372.5" x2="501.7" y2="377.7" stroke="#d0d0d0" stroke-width="1.5"/>
<line x1="505.0" y1="372.5" x2="499.0" y2="368.1" stroke="#d0d0d0" stroke-width="1.5"/>
<circle cx="367.3" cy="372.5" r="2.05" fill="url(#ball)" stroke="#444" stroke-width="0.3"/>
<circle cx="374.5" cy="368.1" r="2.05" fill="url(#nball)" stroke="#444" stroke-width="0.3"/>
<circle cx="373.7" cy="364.3" r="2.05" fill="url(#hball)" stroke="#444" stroke-width="0.3"/>
<circle cx="371.6" cy="377.7" r="2.05" fill="url(#oball)" stroke="#444" stroke-width="0.3"/>
<circle cx="499.0" cy="368.1" r="2.05" fill="url(#nball)" stroke="#444" stroke-width="0.3"/>
<circle cx="498.8" cy="363.7" r="2.05" fill="url(#hball)" stroke="#444" stroke-width="0.3"/>
<circle cx="501.7" cy="377.7" r="2.05" fill="url(#oball)" stroke="#444" stroke-width="0.3"/>
<circle cx="505.0" cy="372.5" r="2.05" fill="url(#ball)" stroke="#444" stroke-width="0.3"/>
</svg></body></html>
